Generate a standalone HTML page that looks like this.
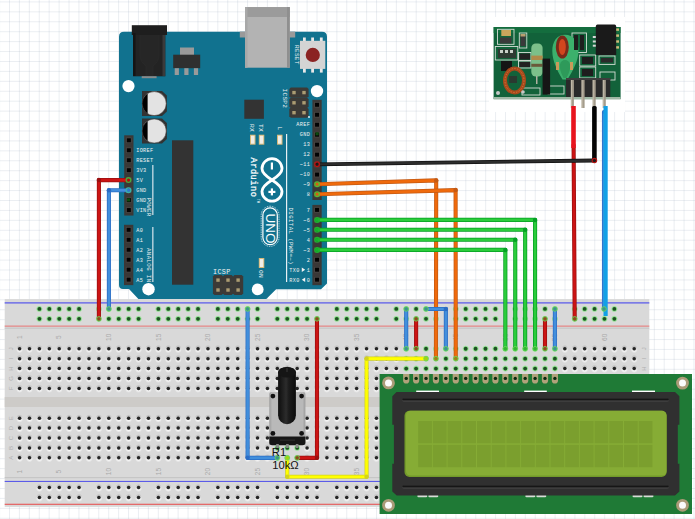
<!DOCTYPE html>
<html><head><meta charset="utf-8"><style>html,body{margin:0;padding:0;background:#fff;overflow:hidden}svg{display:block}</style></head>
<body><svg width="695" height="519" viewBox="0 0 695 519"><path d="M-0.42 0V519M9.50 0V519M19.42 0V519M29.34 0V519M39.26 0V519M49.18 0V519M59.10 0V519M69.02 0V519M78.94 0V519M88.86 0V519M98.78 0V519M108.70 0V519M118.62 0V519M128.54 0V519M138.46 0V519M148.38 0V519M158.30 0V519M168.22 0V519M178.14 0V519M188.06 0V519M197.98 0V519M207.90 0V519M217.82 0V519M227.74 0V519M237.66 0V519M247.58 0V519M257.50 0V519M267.42 0V519M277.34 0V519M287.26 0V519M297.18 0V519M307.10 0V519M317.02 0V519M326.94 0V519M336.86 0V519M346.78 0V519M356.70 0V519M366.62 0V519M376.54 0V519M386.46 0V519M396.38 0V519M406.30 0V519M416.22 0V519M426.14 0V519M436.06 0V519M445.98 0V519M455.90 0V519M465.82 0V519M475.74 0V519M485.66 0V519M495.58 0V519M505.50 0V519M515.42 0V519M525.34 0V519M535.26 0V519M545.18 0V519M555.10 0V519M565.02 0V519M574.94 0V519M584.86 0V519M594.78 0V519M604.70 0V519M614.62 0V519M624.54 0V519M634.46 0V519M644.38 0V519M654.30 0V519M664.22 0V519M674.14 0V519M684.06 0V519M693.98 0V519M0 1.90H695M0 11.83H695M0 21.76H695M0 31.69H695M0 41.62H695M0 51.55H695M0 61.48H695M0 71.41H695M0 81.34H695M0 91.27H695M0 101.20H695M0 111.13H695M0 121.06H695M0 130.99H695M0 140.92H695M0 150.85H695M0 160.78H695M0 170.71H695M0 180.64H695M0 190.57H695M0 200.50H695M0 210.43H695M0 220.36H695M0 230.29H695M0 240.22H695M0 250.15H695M0 260.08H695M0 270.01H695M0 279.94H695M0 289.87H695M0 299.80H695M0 309.73H695M0 319.66H695M0 329.59H695M0 339.52H695M0 349.45H695M0 359.38H695M0 369.31H695M0 379.24H695M0 389.17H695M0 399.10H695M0 409.03H695M0 418.96H695M0 428.89H695M0 438.82H695M0 448.75H695M0 458.68H695M0 468.61H695M0 478.54H695M0 488.47H695M0 498.40H695M0 508.33H695M0 518.26H695" stroke="#a8b4c6" stroke-opacity="0.23" stroke-width="1" fill="none"/>
<rect x="4.7" y="299.1" width="644.6" height="207.8" fill="#d9d9d9"/>
<rect x="4.7" y="397" width="644.6" height="10" fill="#cdcbc8"/>
<rect x="4.7" y="327.6" width="644.6" height="1.2" fill="#c6c6c6"/>
<rect x="4.7" y="477" width="644.6" height="1.2" fill="#c6c6c6"/>
<rect x="4.7" y="302.0" width="644.6" height="1.7" fill="#7b7be6"/>
<rect x="4.7" y="325.5" width="644.6" height="1.3" fill="#e48a8a"/>
<rect x="4.7" y="480.9" width="644.6" height="1.1" fill="#5b5be8"/>
<rect x="4.7" y="503.7" width="644.6" height="1.3" fill="#e46a6a"/>
<defs>
<radialGradient id="hw" r="0.5"><stop offset="0.3" stop-color="#ffffff" stop-opacity="0.95"/><stop offset="1" stop-color="#ffffff" stop-opacity="0"/></radialGradient>
<radialGradient id="hd" r="0.5"><stop offset="0.3" stop-color="#9a9a9a" stop-opacity="0.6"/><stop offset="1" stop-color="#9a9a9a" stop-opacity="0"/></radialGradient>
<radialGradient id="hg" r="0.5"><stop offset="0.55" stop-color="#7ee57e" stop-opacity="1"/><stop offset="1" stop-color="#7ee57e" stop-opacity="0"/></radialGradient>
</defs>
<circle cx="39.43" cy="308.95" r="3.5" fill="url(#hg)"/><circle cx="39.43" cy="308.95" r="1.9" fill="#214f25"/><circle cx="39.43" cy="318.85" r="3.5" fill="url(#hg)"/><circle cx="39.43" cy="318.85" r="1.9" fill="#214f25"/><circle cx="39.43" cy="488.50" r="3.6" fill="url(#hw)"/><circle cx="39.43" cy="486.90" r="3.2" fill="url(#hd)"/><circle cx="39.43" cy="487.60" r="1.75" fill="#242424"/><circle cx="39.43" cy="498.40" r="3.6" fill="url(#hw)"/><circle cx="39.43" cy="496.80" r="3.2" fill="url(#hd)"/><circle cx="39.43" cy="497.50" r="1.75" fill="#242424"/><circle cx="49.34" cy="308.95" r="3.5" fill="url(#hg)"/><circle cx="49.34" cy="308.95" r="1.9" fill="#214f25"/><circle cx="49.34" cy="318.85" r="3.5" fill="url(#hg)"/><circle cx="49.34" cy="318.85" r="1.9" fill="#214f25"/><circle cx="49.34" cy="488.50" r="3.6" fill="url(#hw)"/><circle cx="49.34" cy="486.90" r="3.2" fill="url(#hd)"/><circle cx="49.34" cy="487.60" r="1.75" fill="#242424"/><circle cx="49.34" cy="498.40" r="3.6" fill="url(#hw)"/><circle cx="49.34" cy="496.80" r="3.2" fill="url(#hd)"/><circle cx="49.34" cy="497.50" r="1.75" fill="#242424"/><circle cx="59.25" cy="308.95" r="3.5" fill="url(#hg)"/><circle cx="59.25" cy="308.95" r="1.9" fill="#214f25"/><circle cx="59.25" cy="318.85" r="3.5" fill="url(#hg)"/><circle cx="59.25" cy="318.85" r="1.9" fill="#214f25"/><circle cx="59.25" cy="488.50" r="3.6" fill="url(#hw)"/><circle cx="59.25" cy="486.90" r="3.2" fill="url(#hd)"/><circle cx="59.25" cy="487.60" r="1.75" fill="#242424"/><circle cx="59.25" cy="498.40" r="3.6" fill="url(#hw)"/><circle cx="59.25" cy="496.80" r="3.2" fill="url(#hd)"/><circle cx="59.25" cy="497.50" r="1.75" fill="#242424"/><circle cx="69.16" cy="308.95" r="3.5" fill="url(#hg)"/><circle cx="69.16" cy="308.95" r="1.9" fill="#214f25"/><circle cx="69.16" cy="318.85" r="3.5" fill="url(#hg)"/><circle cx="69.16" cy="318.85" r="1.9" fill="#214f25"/><circle cx="69.16" cy="488.50" r="3.6" fill="url(#hw)"/><circle cx="69.16" cy="486.90" r="3.2" fill="url(#hd)"/><circle cx="69.16" cy="487.60" r="1.75" fill="#242424"/><circle cx="69.16" cy="498.40" r="3.6" fill="url(#hw)"/><circle cx="69.16" cy="496.80" r="3.2" fill="url(#hd)"/><circle cx="69.16" cy="497.50" r="1.75" fill="#242424"/><circle cx="79.08" cy="308.95" r="3.5" fill="url(#hg)"/><circle cx="79.08" cy="308.95" r="1.9" fill="#214f25"/><circle cx="79.08" cy="318.85" r="3.5" fill="url(#hg)"/><circle cx="79.08" cy="318.85" r="1.9" fill="#214f25"/><circle cx="79.08" cy="488.50" r="3.6" fill="url(#hw)"/><circle cx="79.08" cy="486.90" r="3.2" fill="url(#hd)"/><circle cx="79.08" cy="487.60" r="1.75" fill="#242424"/><circle cx="79.08" cy="498.40" r="3.6" fill="url(#hw)"/><circle cx="79.08" cy="496.80" r="3.2" fill="url(#hd)"/><circle cx="79.08" cy="497.50" r="1.75" fill="#242424"/><circle cx="98.90" cy="308.95" r="3.5" fill="url(#hg)"/><circle cx="98.90" cy="308.95" r="1.9" fill="#214f25"/><circle cx="98.90" cy="318.85" r="3.5" fill="url(#hg)"/><circle cx="98.90" cy="318.85" r="1.9" fill="#214f25"/><circle cx="98.90" cy="488.50" r="3.6" fill="url(#hw)"/><circle cx="98.90" cy="486.90" r="3.2" fill="url(#hd)"/><circle cx="98.90" cy="487.60" r="1.75" fill="#242424"/><circle cx="98.90" cy="498.40" r="3.6" fill="url(#hw)"/><circle cx="98.90" cy="496.80" r="3.2" fill="url(#hd)"/><circle cx="98.90" cy="497.50" r="1.75" fill="#242424"/><circle cx="108.82" cy="308.95" r="3.5" fill="url(#hg)"/><circle cx="108.82" cy="308.95" r="1.9" fill="#214f25"/><circle cx="108.82" cy="318.85" r="3.5" fill="url(#hg)"/><circle cx="108.82" cy="318.85" r="1.9" fill="#214f25"/><circle cx="108.82" cy="488.50" r="3.6" fill="url(#hw)"/><circle cx="108.82" cy="486.90" r="3.2" fill="url(#hd)"/><circle cx="108.82" cy="487.60" r="1.75" fill="#242424"/><circle cx="108.82" cy="498.40" r="3.6" fill="url(#hw)"/><circle cx="108.82" cy="496.80" r="3.2" fill="url(#hd)"/><circle cx="108.82" cy="497.50" r="1.75" fill="#242424"/><circle cx="118.73" cy="308.95" r="3.5" fill="url(#hg)"/><circle cx="118.73" cy="308.95" r="1.9" fill="#214f25"/><circle cx="118.73" cy="318.85" r="3.5" fill="url(#hg)"/><circle cx="118.73" cy="318.85" r="1.9" fill="#214f25"/><circle cx="118.73" cy="488.50" r="3.6" fill="url(#hw)"/><circle cx="118.73" cy="486.90" r="3.2" fill="url(#hd)"/><circle cx="118.73" cy="487.60" r="1.75" fill="#242424"/><circle cx="118.73" cy="498.40" r="3.6" fill="url(#hw)"/><circle cx="118.73" cy="496.80" r="3.2" fill="url(#hd)"/><circle cx="118.73" cy="497.50" r="1.75" fill="#242424"/><circle cx="128.64" cy="308.95" r="3.5" fill="url(#hg)"/><circle cx="128.64" cy="308.95" r="1.9" fill="#214f25"/><circle cx="128.64" cy="318.85" r="3.5" fill="url(#hg)"/><circle cx="128.64" cy="318.85" r="1.9" fill="#214f25"/><circle cx="128.64" cy="488.50" r="3.6" fill="url(#hw)"/><circle cx="128.64" cy="486.90" r="3.2" fill="url(#hd)"/><circle cx="128.64" cy="487.60" r="1.75" fill="#242424"/><circle cx="128.64" cy="498.40" r="3.6" fill="url(#hw)"/><circle cx="128.64" cy="496.80" r="3.2" fill="url(#hd)"/><circle cx="128.64" cy="497.50" r="1.75" fill="#242424"/><circle cx="138.56" cy="308.95" r="3.5" fill="url(#hg)"/><circle cx="138.56" cy="308.95" r="1.9" fill="#214f25"/><circle cx="138.56" cy="318.85" r="3.5" fill="url(#hg)"/><circle cx="138.56" cy="318.85" r="1.9" fill="#214f25"/><circle cx="138.56" cy="488.50" r="3.6" fill="url(#hw)"/><circle cx="138.56" cy="486.90" r="3.2" fill="url(#hd)"/><circle cx="138.56" cy="487.60" r="1.75" fill="#242424"/><circle cx="138.56" cy="498.40" r="3.6" fill="url(#hw)"/><circle cx="138.56" cy="496.80" r="3.2" fill="url(#hd)"/><circle cx="138.56" cy="497.50" r="1.75" fill="#242424"/><circle cx="158.38" cy="308.95" r="3.5" fill="url(#hg)"/><circle cx="158.38" cy="308.95" r="1.9" fill="#214f25"/><circle cx="158.38" cy="318.85" r="3.5" fill="url(#hg)"/><circle cx="158.38" cy="318.85" r="1.9" fill="#214f25"/><circle cx="158.38" cy="488.50" r="3.6" fill="url(#hw)"/><circle cx="158.38" cy="486.90" r="3.2" fill="url(#hd)"/><circle cx="158.38" cy="487.60" r="1.75" fill="#242424"/><circle cx="158.38" cy="498.40" r="3.6" fill="url(#hw)"/><circle cx="158.38" cy="496.80" r="3.2" fill="url(#hd)"/><circle cx="158.38" cy="497.50" r="1.75" fill="#242424"/><circle cx="168.29" cy="308.95" r="3.5" fill="url(#hg)"/><circle cx="168.29" cy="308.95" r="1.9" fill="#214f25"/><circle cx="168.29" cy="318.85" r="3.5" fill="url(#hg)"/><circle cx="168.29" cy="318.85" r="1.9" fill="#214f25"/><circle cx="168.29" cy="488.50" r="3.6" fill="url(#hw)"/><circle cx="168.29" cy="486.90" r="3.2" fill="url(#hd)"/><circle cx="168.29" cy="487.60" r="1.75" fill="#242424"/><circle cx="168.29" cy="498.40" r="3.6" fill="url(#hw)"/><circle cx="168.29" cy="496.80" r="3.2" fill="url(#hd)"/><circle cx="168.29" cy="497.50" r="1.75" fill="#242424"/><circle cx="178.21" cy="308.95" r="3.5" fill="url(#hg)"/><circle cx="178.21" cy="308.95" r="1.9" fill="#214f25"/><circle cx="178.21" cy="318.85" r="3.5" fill="url(#hg)"/><circle cx="178.21" cy="318.85" r="1.9" fill="#214f25"/><circle cx="178.21" cy="488.50" r="3.6" fill="url(#hw)"/><circle cx="178.21" cy="486.90" r="3.2" fill="url(#hd)"/><circle cx="178.21" cy="487.60" r="1.75" fill="#242424"/><circle cx="178.21" cy="498.40" r="3.6" fill="url(#hw)"/><circle cx="178.21" cy="496.80" r="3.2" fill="url(#hd)"/><circle cx="178.21" cy="497.50" r="1.75" fill="#242424"/><circle cx="188.12" cy="308.95" r="3.5" fill="url(#hg)"/><circle cx="188.12" cy="308.95" r="1.9" fill="#214f25"/><circle cx="188.12" cy="318.85" r="3.5" fill="url(#hg)"/><circle cx="188.12" cy="318.85" r="1.9" fill="#214f25"/><circle cx="188.12" cy="488.50" r="3.6" fill="url(#hw)"/><circle cx="188.12" cy="486.90" r="3.2" fill="url(#hd)"/><circle cx="188.12" cy="487.60" r="1.75" fill="#242424"/><circle cx="188.12" cy="498.40" r="3.6" fill="url(#hw)"/><circle cx="188.12" cy="496.80" r="3.2" fill="url(#hd)"/><circle cx="188.12" cy="497.50" r="1.75" fill="#242424"/><circle cx="198.03" cy="308.95" r="3.5" fill="url(#hg)"/><circle cx="198.03" cy="308.95" r="1.9" fill="#214f25"/><circle cx="198.03" cy="318.85" r="3.5" fill="url(#hg)"/><circle cx="198.03" cy="318.85" r="1.9" fill="#214f25"/><circle cx="198.03" cy="488.50" r="3.6" fill="url(#hw)"/><circle cx="198.03" cy="486.90" r="3.2" fill="url(#hd)"/><circle cx="198.03" cy="487.60" r="1.75" fill="#242424"/><circle cx="198.03" cy="498.40" r="3.6" fill="url(#hw)"/><circle cx="198.03" cy="496.80" r="3.2" fill="url(#hd)"/><circle cx="198.03" cy="497.50" r="1.75" fill="#242424"/><circle cx="217.86" cy="308.95" r="3.5" fill="url(#hg)"/><circle cx="217.86" cy="308.95" r="1.9" fill="#214f25"/><circle cx="217.86" cy="318.85" r="3.5" fill="url(#hg)"/><circle cx="217.86" cy="318.85" r="1.9" fill="#214f25"/><circle cx="217.86" cy="488.50" r="3.6" fill="url(#hw)"/><circle cx="217.86" cy="486.90" r="3.2" fill="url(#hd)"/><circle cx="217.86" cy="487.60" r="1.75" fill="#242424"/><circle cx="217.86" cy="498.40" r="3.6" fill="url(#hw)"/><circle cx="217.86" cy="496.80" r="3.2" fill="url(#hd)"/><circle cx="217.86" cy="497.50" r="1.75" fill="#242424"/><circle cx="227.77" cy="308.95" r="3.5" fill="url(#hg)"/><circle cx="227.77" cy="308.95" r="1.9" fill="#214f25"/><circle cx="227.77" cy="318.85" r="3.5" fill="url(#hg)"/><circle cx="227.77" cy="318.85" r="1.9" fill="#214f25"/><circle cx="227.77" cy="488.50" r="3.6" fill="url(#hw)"/><circle cx="227.77" cy="486.90" r="3.2" fill="url(#hd)"/><circle cx="227.77" cy="487.60" r="1.75" fill="#242424"/><circle cx="227.77" cy="498.40" r="3.6" fill="url(#hw)"/><circle cx="227.77" cy="496.80" r="3.2" fill="url(#hd)"/><circle cx="227.77" cy="497.50" r="1.75" fill="#242424"/><circle cx="237.69" cy="308.95" r="3.5" fill="url(#hg)"/><circle cx="237.69" cy="308.95" r="1.9" fill="#214f25"/><circle cx="237.69" cy="318.85" r="3.5" fill="url(#hg)"/><circle cx="237.69" cy="318.85" r="1.9" fill="#214f25"/><circle cx="237.69" cy="488.50" r="3.6" fill="url(#hw)"/><circle cx="237.69" cy="486.90" r="3.2" fill="url(#hd)"/><circle cx="237.69" cy="487.60" r="1.75" fill="#242424"/><circle cx="237.69" cy="498.40" r="3.6" fill="url(#hw)"/><circle cx="237.69" cy="496.80" r="3.2" fill="url(#hd)"/><circle cx="237.69" cy="497.50" r="1.75" fill="#242424"/><circle cx="247.60" cy="308.95" r="3.5" fill="url(#hg)"/><circle cx="247.60" cy="308.95" r="1.9" fill="#214f25"/><circle cx="247.60" cy="318.85" r="3.5" fill="url(#hg)"/><circle cx="247.60" cy="318.85" r="1.9" fill="#214f25"/><circle cx="247.60" cy="488.50" r="3.6" fill="url(#hw)"/><circle cx="247.60" cy="486.90" r="3.2" fill="url(#hd)"/><circle cx="247.60" cy="487.60" r="1.75" fill="#242424"/><circle cx="247.60" cy="498.40" r="3.6" fill="url(#hw)"/><circle cx="247.60" cy="496.80" r="3.2" fill="url(#hd)"/><circle cx="247.60" cy="497.50" r="1.75" fill="#242424"/><circle cx="257.51" cy="308.95" r="3.5" fill="url(#hg)"/><circle cx="257.51" cy="308.95" r="1.9" fill="#214f25"/><circle cx="257.51" cy="318.85" r="3.5" fill="url(#hg)"/><circle cx="257.51" cy="318.85" r="1.9" fill="#214f25"/><circle cx="257.51" cy="488.50" r="3.6" fill="url(#hw)"/><circle cx="257.51" cy="486.90" r="3.2" fill="url(#hd)"/><circle cx="257.51" cy="487.60" r="1.75" fill="#242424"/><circle cx="257.51" cy="498.40" r="3.6" fill="url(#hw)"/><circle cx="257.51" cy="496.80" r="3.2" fill="url(#hd)"/><circle cx="257.51" cy="497.50" r="1.75" fill="#242424"/><circle cx="277.34" cy="308.95" r="3.5" fill="url(#hg)"/><circle cx="277.34" cy="308.95" r="1.9" fill="#214f25"/><circle cx="277.34" cy="318.85" r="3.5" fill="url(#hg)"/><circle cx="277.34" cy="318.85" r="1.9" fill="#214f25"/><circle cx="277.34" cy="488.50" r="3.6" fill="url(#hw)"/><circle cx="277.34" cy="486.90" r="3.2" fill="url(#hd)"/><circle cx="277.34" cy="487.60" r="1.75" fill="#242424"/><circle cx="277.34" cy="498.40" r="3.6" fill="url(#hw)"/><circle cx="277.34" cy="496.80" r="3.2" fill="url(#hd)"/><circle cx="277.34" cy="497.50" r="1.75" fill="#242424"/><circle cx="287.25" cy="308.95" r="3.5" fill="url(#hg)"/><circle cx="287.25" cy="308.95" r="1.9" fill="#214f25"/><circle cx="287.25" cy="318.85" r="3.5" fill="url(#hg)"/><circle cx="287.25" cy="318.85" r="1.9" fill="#214f25"/><circle cx="287.25" cy="488.50" r="3.6" fill="url(#hw)"/><circle cx="287.25" cy="486.90" r="3.2" fill="url(#hd)"/><circle cx="287.25" cy="487.60" r="1.75" fill="#242424"/><circle cx="287.25" cy="498.40" r="3.6" fill="url(#hw)"/><circle cx="287.25" cy="496.80" r="3.2" fill="url(#hd)"/><circle cx="287.25" cy="497.50" r="1.75" fill="#242424"/><circle cx="297.16" cy="308.95" r="3.5" fill="url(#hg)"/><circle cx="297.16" cy="308.95" r="1.9" fill="#214f25"/><circle cx="297.16" cy="318.85" r="3.5" fill="url(#hg)"/><circle cx="297.16" cy="318.85" r="1.9" fill="#214f25"/><circle cx="297.16" cy="488.50" r="3.6" fill="url(#hw)"/><circle cx="297.16" cy="486.90" r="3.2" fill="url(#hd)"/><circle cx="297.16" cy="487.60" r="1.75" fill="#242424"/><circle cx="297.16" cy="498.40" r="3.6" fill="url(#hw)"/><circle cx="297.16" cy="496.80" r="3.2" fill="url(#hd)"/><circle cx="297.16" cy="497.50" r="1.75" fill="#242424"/><circle cx="307.08" cy="308.95" r="3.5" fill="url(#hg)"/><circle cx="307.08" cy="308.95" r="1.9" fill="#214f25"/><circle cx="307.08" cy="318.85" r="3.5" fill="url(#hg)"/><circle cx="307.08" cy="318.85" r="1.9" fill="#214f25"/><circle cx="307.08" cy="488.50" r="3.6" fill="url(#hw)"/><circle cx="307.08" cy="486.90" r="3.2" fill="url(#hd)"/><circle cx="307.08" cy="487.60" r="1.75" fill="#242424"/><circle cx="307.08" cy="498.40" r="3.6" fill="url(#hw)"/><circle cx="307.08" cy="496.80" r="3.2" fill="url(#hd)"/><circle cx="307.08" cy="497.50" r="1.75" fill="#242424"/><circle cx="316.99" cy="308.95" r="3.5" fill="url(#hg)"/><circle cx="316.99" cy="308.95" r="1.9" fill="#214f25"/><circle cx="316.99" cy="318.85" r="3.5" fill="url(#hg)"/><circle cx="316.99" cy="318.85" r="1.9" fill="#214f25"/><circle cx="316.99" cy="488.50" r="3.6" fill="url(#hw)"/><circle cx="316.99" cy="486.90" r="3.2" fill="url(#hd)"/><circle cx="316.99" cy="487.60" r="1.75" fill="#242424"/><circle cx="316.99" cy="498.40" r="3.6" fill="url(#hw)"/><circle cx="316.99" cy="496.80" r="3.2" fill="url(#hd)"/><circle cx="316.99" cy="497.50" r="1.75" fill="#242424"/><circle cx="336.82" cy="308.95" r="3.5" fill="url(#hg)"/><circle cx="336.82" cy="308.95" r="1.9" fill="#214f25"/><circle cx="336.82" cy="318.85" r="3.5" fill="url(#hg)"/><circle cx="336.82" cy="318.85" r="1.9" fill="#214f25"/><circle cx="336.82" cy="488.50" r="3.6" fill="url(#hw)"/><circle cx="336.82" cy="486.90" r="3.2" fill="url(#hd)"/><circle cx="336.82" cy="487.60" r="1.75" fill="#242424"/><circle cx="336.82" cy="498.40" r="3.6" fill="url(#hw)"/><circle cx="336.82" cy="496.80" r="3.2" fill="url(#hd)"/><circle cx="336.82" cy="497.50" r="1.75" fill="#242424"/><circle cx="346.73" cy="308.95" r="3.5" fill="url(#hg)"/><circle cx="346.73" cy="308.95" r="1.9" fill="#214f25"/><circle cx="346.73" cy="318.85" r="3.5" fill="url(#hg)"/><circle cx="346.73" cy="318.85" r="1.9" fill="#214f25"/><circle cx="346.73" cy="488.50" r="3.6" fill="url(#hw)"/><circle cx="346.73" cy="486.90" r="3.2" fill="url(#hd)"/><circle cx="346.73" cy="487.60" r="1.75" fill="#242424"/><circle cx="346.73" cy="498.40" r="3.6" fill="url(#hw)"/><circle cx="346.73" cy="496.80" r="3.2" fill="url(#hd)"/><circle cx="346.73" cy="497.50" r="1.75" fill="#242424"/><circle cx="356.64" cy="308.95" r="3.5" fill="url(#hg)"/><circle cx="356.64" cy="308.95" r="1.9" fill="#214f25"/><circle cx="356.64" cy="318.85" r="3.5" fill="url(#hg)"/><circle cx="356.64" cy="318.85" r="1.9" fill="#214f25"/><circle cx="356.64" cy="488.50" r="3.6" fill="url(#hw)"/><circle cx="356.64" cy="486.90" r="3.2" fill="url(#hd)"/><circle cx="356.64" cy="487.60" r="1.75" fill="#242424"/><circle cx="356.64" cy="498.40" r="3.6" fill="url(#hw)"/><circle cx="356.64" cy="496.80" r="3.2" fill="url(#hd)"/><circle cx="356.64" cy="497.50" r="1.75" fill="#242424"/><circle cx="366.56" cy="308.95" r="3.5" fill="url(#hg)"/><circle cx="366.56" cy="308.95" r="1.9" fill="#214f25"/><circle cx="366.56" cy="318.85" r="3.5" fill="url(#hg)"/><circle cx="366.56" cy="318.85" r="1.9" fill="#214f25"/><circle cx="366.56" cy="488.50" r="3.6" fill="url(#hw)"/><circle cx="366.56" cy="486.90" r="3.2" fill="url(#hd)"/><circle cx="366.56" cy="487.60" r="1.75" fill="#242424"/><circle cx="366.56" cy="498.40" r="3.6" fill="url(#hw)"/><circle cx="366.56" cy="496.80" r="3.2" fill="url(#hd)"/><circle cx="366.56" cy="497.50" r="1.75" fill="#242424"/><circle cx="376.47" cy="308.95" r="3.5" fill="url(#hg)"/><circle cx="376.47" cy="308.95" r="1.9" fill="#214f25"/><circle cx="376.47" cy="318.85" r="3.5" fill="url(#hg)"/><circle cx="376.47" cy="318.85" r="1.9" fill="#214f25"/><circle cx="376.47" cy="488.50" r="3.6" fill="url(#hw)"/><circle cx="376.47" cy="486.90" r="3.2" fill="url(#hd)"/><circle cx="376.47" cy="487.60" r="1.75" fill="#242424"/><circle cx="376.47" cy="498.40" r="3.6" fill="url(#hw)"/><circle cx="376.47" cy="496.80" r="3.2" fill="url(#hd)"/><circle cx="376.47" cy="497.50" r="1.75" fill="#242424"/><circle cx="396.29" cy="308.95" r="3.5" fill="url(#hg)"/><circle cx="396.29" cy="308.95" r="1.9" fill="#214f25"/><circle cx="396.29" cy="318.85" r="3.5" fill="url(#hg)"/><circle cx="396.29" cy="318.85" r="1.9" fill="#214f25"/><circle cx="396.29" cy="488.50" r="3.6" fill="url(#hw)"/><circle cx="396.29" cy="486.90" r="3.2" fill="url(#hd)"/><circle cx="396.29" cy="487.60" r="1.75" fill="#242424"/><circle cx="396.29" cy="498.40" r="3.6" fill="url(#hw)"/><circle cx="396.29" cy="496.80" r="3.2" fill="url(#hd)"/><circle cx="396.29" cy="497.50" r="1.75" fill="#242424"/><circle cx="406.21" cy="308.95" r="3.5" fill="url(#hg)"/><circle cx="406.21" cy="308.95" r="1.9" fill="#214f25"/><circle cx="406.21" cy="318.85" r="3.5" fill="url(#hg)"/><circle cx="406.21" cy="318.85" r="1.9" fill="#214f25"/><circle cx="406.21" cy="488.50" r="3.6" fill="url(#hw)"/><circle cx="406.21" cy="486.90" r="3.2" fill="url(#hd)"/><circle cx="406.21" cy="487.60" r="1.75" fill="#242424"/><circle cx="406.21" cy="498.40" r="3.6" fill="url(#hw)"/><circle cx="406.21" cy="496.80" r="3.2" fill="url(#hd)"/><circle cx="406.21" cy="497.50" r="1.75" fill="#242424"/><circle cx="416.12" cy="308.95" r="3.5" fill="url(#hg)"/><circle cx="416.12" cy="308.95" r="1.9" fill="#214f25"/><circle cx="416.12" cy="318.85" r="3.5" fill="url(#hg)"/><circle cx="416.12" cy="318.85" r="1.9" fill="#214f25"/><circle cx="416.12" cy="488.50" r="3.6" fill="url(#hw)"/><circle cx="416.12" cy="486.90" r="3.2" fill="url(#hd)"/><circle cx="416.12" cy="487.60" r="1.75" fill="#242424"/><circle cx="416.12" cy="498.40" r="3.6" fill="url(#hw)"/><circle cx="416.12" cy="496.80" r="3.2" fill="url(#hd)"/><circle cx="416.12" cy="497.50" r="1.75" fill="#242424"/><circle cx="426.03" cy="308.95" r="3.5" fill="url(#hg)"/><circle cx="426.03" cy="308.95" r="1.9" fill="#214f25"/><circle cx="426.03" cy="318.85" r="3.5" fill="url(#hg)"/><circle cx="426.03" cy="318.85" r="1.9" fill="#214f25"/><circle cx="426.03" cy="488.50" r="3.6" fill="url(#hw)"/><circle cx="426.03" cy="486.90" r="3.2" fill="url(#hd)"/><circle cx="426.03" cy="487.60" r="1.75" fill="#242424"/><circle cx="426.03" cy="498.40" r="3.6" fill="url(#hw)"/><circle cx="426.03" cy="496.80" r="3.2" fill="url(#hd)"/><circle cx="426.03" cy="497.50" r="1.75" fill="#242424"/><circle cx="435.95" cy="308.95" r="3.5" fill="url(#hg)"/><circle cx="435.95" cy="308.95" r="1.9" fill="#214f25"/><circle cx="435.95" cy="318.85" r="3.5" fill="url(#hg)"/><circle cx="435.95" cy="318.85" r="1.9" fill="#214f25"/><circle cx="435.95" cy="488.50" r="3.6" fill="url(#hw)"/><circle cx="435.95" cy="486.90" r="3.2" fill="url(#hd)"/><circle cx="435.95" cy="487.60" r="1.75" fill="#242424"/><circle cx="435.95" cy="498.40" r="3.6" fill="url(#hw)"/><circle cx="435.95" cy="496.80" r="3.2" fill="url(#hd)"/><circle cx="435.95" cy="497.50" r="1.75" fill="#242424"/><circle cx="455.77" cy="308.95" r="3.5" fill="url(#hg)"/><circle cx="455.77" cy="308.95" r="1.9" fill="#214f25"/><circle cx="455.77" cy="318.85" r="3.5" fill="url(#hg)"/><circle cx="455.77" cy="318.85" r="1.9" fill="#214f25"/><circle cx="455.77" cy="488.50" r="3.6" fill="url(#hw)"/><circle cx="455.77" cy="486.90" r="3.2" fill="url(#hd)"/><circle cx="455.77" cy="487.60" r="1.75" fill="#242424"/><circle cx="455.77" cy="498.40" r="3.6" fill="url(#hw)"/><circle cx="455.77" cy="496.80" r="3.2" fill="url(#hd)"/><circle cx="455.77" cy="497.50" r="1.75" fill="#242424"/><circle cx="465.69" cy="308.95" r="3.5" fill="url(#hg)"/><circle cx="465.69" cy="308.95" r="1.9" fill="#214f25"/><circle cx="465.69" cy="318.85" r="3.5" fill="url(#hg)"/><circle cx="465.69" cy="318.85" r="1.9" fill="#214f25"/><circle cx="465.69" cy="488.50" r="3.6" fill="url(#hw)"/><circle cx="465.69" cy="486.90" r="3.2" fill="url(#hd)"/><circle cx="465.69" cy="487.60" r="1.75" fill="#242424"/><circle cx="465.69" cy="498.40" r="3.6" fill="url(#hw)"/><circle cx="465.69" cy="496.80" r="3.2" fill="url(#hd)"/><circle cx="465.69" cy="497.50" r="1.75" fill="#242424"/><circle cx="475.60" cy="308.95" r="3.5" fill="url(#hg)"/><circle cx="475.60" cy="308.95" r="1.9" fill="#214f25"/><circle cx="475.60" cy="318.85" r="3.5" fill="url(#hg)"/><circle cx="475.60" cy="318.85" r="1.9" fill="#214f25"/><circle cx="475.60" cy="488.50" r="3.6" fill="url(#hw)"/><circle cx="475.60" cy="486.90" r="3.2" fill="url(#hd)"/><circle cx="475.60" cy="487.60" r="1.75" fill="#242424"/><circle cx="475.60" cy="498.40" r="3.6" fill="url(#hw)"/><circle cx="475.60" cy="496.80" r="3.2" fill="url(#hd)"/><circle cx="475.60" cy="497.50" r="1.75" fill="#242424"/><circle cx="485.51" cy="308.95" r="3.5" fill="url(#hg)"/><circle cx="485.51" cy="308.95" r="1.9" fill="#214f25"/><circle cx="485.51" cy="318.85" r="3.5" fill="url(#hg)"/><circle cx="485.51" cy="318.85" r="1.9" fill="#214f25"/><circle cx="485.51" cy="488.50" r="3.6" fill="url(#hw)"/><circle cx="485.51" cy="486.90" r="3.2" fill="url(#hd)"/><circle cx="485.51" cy="487.60" r="1.75" fill="#242424"/><circle cx="485.51" cy="498.40" r="3.6" fill="url(#hw)"/><circle cx="485.51" cy="496.80" r="3.2" fill="url(#hd)"/><circle cx="485.51" cy="497.50" r="1.75" fill="#242424"/><circle cx="495.42" cy="308.95" r="3.5" fill="url(#hg)"/><circle cx="495.42" cy="308.95" r="1.9" fill="#214f25"/><circle cx="495.42" cy="318.85" r="3.5" fill="url(#hg)"/><circle cx="495.42" cy="318.85" r="1.9" fill="#214f25"/><circle cx="495.42" cy="488.50" r="3.6" fill="url(#hw)"/><circle cx="495.42" cy="486.90" r="3.2" fill="url(#hd)"/><circle cx="495.42" cy="487.60" r="1.75" fill="#242424"/><circle cx="495.42" cy="498.40" r="3.6" fill="url(#hw)"/><circle cx="495.42" cy="496.80" r="3.2" fill="url(#hd)"/><circle cx="495.42" cy="497.50" r="1.75" fill="#242424"/><circle cx="515.25" cy="308.95" r="3.5" fill="url(#hg)"/><circle cx="515.25" cy="308.95" r="1.9" fill="#214f25"/><circle cx="515.25" cy="318.85" r="3.5" fill="url(#hg)"/><circle cx="515.25" cy="318.85" r="1.9" fill="#214f25"/><circle cx="515.25" cy="488.50" r="3.6" fill="url(#hw)"/><circle cx="515.25" cy="486.90" r="3.2" fill="url(#hd)"/><circle cx="515.25" cy="487.60" r="1.75" fill="#242424"/><circle cx="515.25" cy="498.40" r="3.6" fill="url(#hw)"/><circle cx="515.25" cy="496.80" r="3.2" fill="url(#hd)"/><circle cx="515.25" cy="497.50" r="1.75" fill="#242424"/><circle cx="525.16" cy="308.95" r="3.5" fill="url(#hg)"/><circle cx="525.16" cy="308.95" r="1.9" fill="#214f25"/><circle cx="525.16" cy="318.85" r="3.5" fill="url(#hg)"/><circle cx="525.16" cy="318.85" r="1.9" fill="#214f25"/><circle cx="525.16" cy="488.50" r="3.6" fill="url(#hw)"/><circle cx="525.16" cy="486.90" r="3.2" fill="url(#hd)"/><circle cx="525.16" cy="487.60" r="1.75" fill="#242424"/><circle cx="525.16" cy="498.40" r="3.6" fill="url(#hw)"/><circle cx="525.16" cy="496.80" r="3.2" fill="url(#hd)"/><circle cx="525.16" cy="497.50" r="1.75" fill="#242424"/><circle cx="535.08" cy="308.95" r="3.5" fill="url(#hg)"/><circle cx="535.08" cy="308.95" r="1.9" fill="#214f25"/><circle cx="535.08" cy="318.85" r="3.5" fill="url(#hg)"/><circle cx="535.08" cy="318.85" r="1.9" fill="#214f25"/><circle cx="535.08" cy="488.50" r="3.6" fill="url(#hw)"/><circle cx="535.08" cy="486.90" r="3.2" fill="url(#hd)"/><circle cx="535.08" cy="487.60" r="1.75" fill="#242424"/><circle cx="535.08" cy="498.40" r="3.6" fill="url(#hw)"/><circle cx="535.08" cy="496.80" r="3.2" fill="url(#hd)"/><circle cx="535.08" cy="497.50" r="1.75" fill="#242424"/><circle cx="544.99" cy="308.95" r="3.5" fill="url(#hg)"/><circle cx="544.99" cy="308.95" r="1.9" fill="#214f25"/><circle cx="544.99" cy="318.85" r="3.5" fill="url(#hg)"/><circle cx="544.99" cy="318.85" r="1.9" fill="#214f25"/><circle cx="544.99" cy="488.50" r="3.6" fill="url(#hw)"/><circle cx="544.99" cy="486.90" r="3.2" fill="url(#hd)"/><circle cx="544.99" cy="487.60" r="1.75" fill="#242424"/><circle cx="544.99" cy="498.40" r="3.6" fill="url(#hw)"/><circle cx="544.99" cy="496.80" r="3.2" fill="url(#hd)"/><circle cx="544.99" cy="497.50" r="1.75" fill="#242424"/><circle cx="554.90" cy="308.95" r="3.5" fill="url(#hg)"/><circle cx="554.90" cy="308.95" r="1.9" fill="#214f25"/><circle cx="554.90" cy="318.85" r="3.5" fill="url(#hg)"/><circle cx="554.90" cy="318.85" r="1.9" fill="#214f25"/><circle cx="554.90" cy="488.50" r="3.6" fill="url(#hw)"/><circle cx="554.90" cy="486.90" r="3.2" fill="url(#hd)"/><circle cx="554.90" cy="487.60" r="1.75" fill="#242424"/><circle cx="554.90" cy="498.40" r="3.6" fill="url(#hw)"/><circle cx="554.90" cy="496.80" r="3.2" fill="url(#hd)"/><circle cx="554.90" cy="497.50" r="1.75" fill="#242424"/><circle cx="574.73" cy="308.95" r="3.5" fill="url(#hg)"/><circle cx="574.73" cy="308.95" r="1.9" fill="#214f25"/><circle cx="574.73" cy="318.85" r="3.5" fill="url(#hg)"/><circle cx="574.73" cy="318.85" r="1.9" fill="#214f25"/><circle cx="574.73" cy="488.50" r="3.6" fill="url(#hw)"/><circle cx="574.73" cy="486.90" r="3.2" fill="url(#hd)"/><circle cx="574.73" cy="487.60" r="1.75" fill="#242424"/><circle cx="574.73" cy="498.40" r="3.6" fill="url(#hw)"/><circle cx="574.73" cy="496.80" r="3.2" fill="url(#hd)"/><circle cx="574.73" cy="497.50" r="1.75" fill="#242424"/><circle cx="584.64" cy="308.95" r="3.5" fill="url(#hg)"/><circle cx="584.64" cy="308.95" r="1.9" fill="#214f25"/><circle cx="584.64" cy="318.85" r="3.5" fill="url(#hg)"/><circle cx="584.64" cy="318.85" r="1.9" fill="#214f25"/><circle cx="584.64" cy="488.50" r="3.6" fill="url(#hw)"/><circle cx="584.64" cy="486.90" r="3.2" fill="url(#hd)"/><circle cx="584.64" cy="487.60" r="1.75" fill="#242424"/><circle cx="584.64" cy="498.40" r="3.6" fill="url(#hw)"/><circle cx="584.64" cy="496.80" r="3.2" fill="url(#hd)"/><circle cx="584.64" cy="497.50" r="1.75" fill="#242424"/><circle cx="594.55" cy="308.95" r="3.5" fill="url(#hg)"/><circle cx="594.55" cy="308.95" r="1.9" fill="#214f25"/><circle cx="594.55" cy="318.85" r="3.5" fill="url(#hg)"/><circle cx="594.55" cy="318.85" r="1.9" fill="#214f25"/><circle cx="594.55" cy="488.50" r="3.6" fill="url(#hw)"/><circle cx="594.55" cy="486.90" r="3.2" fill="url(#hd)"/><circle cx="594.55" cy="487.60" r="1.75" fill="#242424"/><circle cx="594.55" cy="498.40" r="3.6" fill="url(#hw)"/><circle cx="594.55" cy="496.80" r="3.2" fill="url(#hd)"/><circle cx="594.55" cy="497.50" r="1.75" fill="#242424"/><circle cx="604.47" cy="308.95" r="3.5" fill="url(#hg)"/><circle cx="604.47" cy="308.95" r="1.9" fill="#214f25"/><circle cx="604.47" cy="318.85" r="3.5" fill="url(#hg)"/><circle cx="604.47" cy="318.85" r="1.9" fill="#214f25"/><circle cx="604.47" cy="488.50" r="3.6" fill="url(#hw)"/><circle cx="604.47" cy="486.90" r="3.2" fill="url(#hd)"/><circle cx="604.47" cy="487.60" r="1.75" fill="#242424"/><circle cx="604.47" cy="498.40" r="3.6" fill="url(#hw)"/><circle cx="604.47" cy="496.80" r="3.2" fill="url(#hd)"/><circle cx="604.47" cy="497.50" r="1.75" fill="#242424"/><circle cx="614.38" cy="308.95" r="3.5" fill="url(#hg)"/><circle cx="614.38" cy="308.95" r="1.9" fill="#214f25"/><circle cx="614.38" cy="318.85" r="3.5" fill="url(#hg)"/><circle cx="614.38" cy="318.85" r="1.9" fill="#214f25"/><circle cx="614.38" cy="488.50" r="3.6" fill="url(#hw)"/><circle cx="614.38" cy="486.90" r="3.2" fill="url(#hd)"/><circle cx="614.38" cy="487.60" r="1.75" fill="#242424"/><circle cx="614.38" cy="498.40" r="3.6" fill="url(#hw)"/><circle cx="614.38" cy="496.80" r="3.2" fill="url(#hd)"/><circle cx="614.38" cy="497.50" r="1.75" fill="#242424"/><circle cx="19.60" cy="349.65" r="3.6" fill="url(#hw)"/><circle cx="19.60" cy="348.05" r="3.2" fill="url(#hd)"/><circle cx="19.60" cy="348.75" r="1.75" fill="#242424"/><circle cx="19.60" cy="359.55" r="3.6" fill="url(#hw)"/><circle cx="19.60" cy="357.95" r="3.2" fill="url(#hd)"/><circle cx="19.60" cy="358.65" r="1.75" fill="#242424"/><circle cx="19.60" cy="369.45" r="3.6" fill="url(#hw)"/><circle cx="19.60" cy="367.85" r="3.2" fill="url(#hd)"/><circle cx="19.60" cy="368.55" r="1.75" fill="#242424"/><circle cx="19.60" cy="379.35" r="3.6" fill="url(#hw)"/><circle cx="19.60" cy="377.75" r="3.2" fill="url(#hd)"/><circle cx="19.60" cy="378.45" r="1.75" fill="#242424"/><circle cx="19.60" cy="389.30" r="3.6" fill="url(#hw)"/><circle cx="19.60" cy="387.70" r="3.2" fill="url(#hd)"/><circle cx="19.60" cy="388.40" r="1.75" fill="#242424"/><circle cx="19.60" cy="419.10" r="3.6" fill="url(#hw)"/><circle cx="19.60" cy="417.50" r="3.2" fill="url(#hd)"/><circle cx="19.60" cy="418.20" r="1.75" fill="#242424"/><circle cx="19.60" cy="429.00" r="3.6" fill="url(#hw)"/><circle cx="19.60" cy="427.40" r="3.2" fill="url(#hd)"/><circle cx="19.60" cy="428.10" r="1.75" fill="#242424"/><circle cx="19.60" cy="438.90" r="3.6" fill="url(#hw)"/><circle cx="19.60" cy="437.30" r="3.2" fill="url(#hd)"/><circle cx="19.60" cy="438.00" r="1.75" fill="#242424"/><circle cx="19.60" cy="448.80" r="3.6" fill="url(#hw)"/><circle cx="19.60" cy="447.20" r="3.2" fill="url(#hd)"/><circle cx="19.60" cy="447.90" r="1.75" fill="#242424"/><circle cx="19.60" cy="458.75" r="3.6" fill="url(#hw)"/><circle cx="19.60" cy="457.15" r="3.2" fill="url(#hd)"/><circle cx="19.60" cy="457.85" r="1.75" fill="#242424"/><circle cx="29.51" cy="349.65" r="3.6" fill="url(#hw)"/><circle cx="29.51" cy="348.05" r="3.2" fill="url(#hd)"/><circle cx="29.51" cy="348.75" r="1.75" fill="#242424"/><circle cx="29.51" cy="359.55" r="3.6" fill="url(#hw)"/><circle cx="29.51" cy="357.95" r="3.2" fill="url(#hd)"/><circle cx="29.51" cy="358.65" r="1.75" fill="#242424"/><circle cx="29.51" cy="369.45" r="3.6" fill="url(#hw)"/><circle cx="29.51" cy="367.85" r="3.2" fill="url(#hd)"/><circle cx="29.51" cy="368.55" r="1.75" fill="#242424"/><circle cx="29.51" cy="379.35" r="3.6" fill="url(#hw)"/><circle cx="29.51" cy="377.75" r="3.2" fill="url(#hd)"/><circle cx="29.51" cy="378.45" r="1.75" fill="#242424"/><circle cx="29.51" cy="389.30" r="3.6" fill="url(#hw)"/><circle cx="29.51" cy="387.70" r="3.2" fill="url(#hd)"/><circle cx="29.51" cy="388.40" r="1.75" fill="#242424"/><circle cx="29.51" cy="419.10" r="3.6" fill="url(#hw)"/><circle cx="29.51" cy="417.50" r="3.2" fill="url(#hd)"/><circle cx="29.51" cy="418.20" r="1.75" fill="#242424"/><circle cx="29.51" cy="429.00" r="3.6" fill="url(#hw)"/><circle cx="29.51" cy="427.40" r="3.2" fill="url(#hd)"/><circle cx="29.51" cy="428.10" r="1.75" fill="#242424"/><circle cx="29.51" cy="438.90" r="3.6" fill="url(#hw)"/><circle cx="29.51" cy="437.30" r="3.2" fill="url(#hd)"/><circle cx="29.51" cy="438.00" r="1.75" fill="#242424"/><circle cx="29.51" cy="448.80" r="3.6" fill="url(#hw)"/><circle cx="29.51" cy="447.20" r="3.2" fill="url(#hd)"/><circle cx="29.51" cy="447.90" r="1.75" fill="#242424"/><circle cx="29.51" cy="458.75" r="3.6" fill="url(#hw)"/><circle cx="29.51" cy="457.15" r="3.2" fill="url(#hd)"/><circle cx="29.51" cy="457.85" r="1.75" fill="#242424"/><circle cx="39.43" cy="349.65" r="3.6" fill="url(#hw)"/><circle cx="39.43" cy="348.05" r="3.2" fill="url(#hd)"/><circle cx="39.43" cy="348.75" r="1.75" fill="#242424"/><circle cx="39.43" cy="359.55" r="3.6" fill="url(#hw)"/><circle cx="39.43" cy="357.95" r="3.2" fill="url(#hd)"/><circle cx="39.43" cy="358.65" r="1.75" fill="#242424"/><circle cx="39.43" cy="369.45" r="3.6" fill="url(#hw)"/><circle cx="39.43" cy="367.85" r="3.2" fill="url(#hd)"/><circle cx="39.43" cy="368.55" r="1.75" fill="#242424"/><circle cx="39.43" cy="379.35" r="3.6" fill="url(#hw)"/><circle cx="39.43" cy="377.75" r="3.2" fill="url(#hd)"/><circle cx="39.43" cy="378.45" r="1.75" fill="#242424"/><circle cx="39.43" cy="389.30" r="3.6" fill="url(#hw)"/><circle cx="39.43" cy="387.70" r="3.2" fill="url(#hd)"/><circle cx="39.43" cy="388.40" r="1.75" fill="#242424"/><circle cx="39.43" cy="419.10" r="3.6" fill="url(#hw)"/><circle cx="39.43" cy="417.50" r="3.2" fill="url(#hd)"/><circle cx="39.43" cy="418.20" r="1.75" fill="#242424"/><circle cx="39.43" cy="429.00" r="3.6" fill="url(#hw)"/><circle cx="39.43" cy="427.40" r="3.2" fill="url(#hd)"/><circle cx="39.43" cy="428.10" r="1.75" fill="#242424"/><circle cx="39.43" cy="438.90" r="3.6" fill="url(#hw)"/><circle cx="39.43" cy="437.30" r="3.2" fill="url(#hd)"/><circle cx="39.43" cy="438.00" r="1.75" fill="#242424"/><circle cx="39.43" cy="448.80" r="3.6" fill="url(#hw)"/><circle cx="39.43" cy="447.20" r="3.2" fill="url(#hd)"/><circle cx="39.43" cy="447.90" r="1.75" fill="#242424"/><circle cx="39.43" cy="458.75" r="3.6" fill="url(#hw)"/><circle cx="39.43" cy="457.15" r="3.2" fill="url(#hd)"/><circle cx="39.43" cy="457.85" r="1.75" fill="#242424"/><circle cx="49.34" cy="349.65" r="3.6" fill="url(#hw)"/><circle cx="49.34" cy="348.05" r="3.2" fill="url(#hd)"/><circle cx="49.34" cy="348.75" r="1.75" fill="#242424"/><circle cx="49.34" cy="359.55" r="3.6" fill="url(#hw)"/><circle cx="49.34" cy="357.95" r="3.2" fill="url(#hd)"/><circle cx="49.34" cy="358.65" r="1.75" fill="#242424"/><circle cx="49.34" cy="369.45" r="3.6" fill="url(#hw)"/><circle cx="49.34" cy="367.85" r="3.2" fill="url(#hd)"/><circle cx="49.34" cy="368.55" r="1.75" fill="#242424"/><circle cx="49.34" cy="379.35" r="3.6" fill="url(#hw)"/><circle cx="49.34" cy="377.75" r="3.2" fill="url(#hd)"/><circle cx="49.34" cy="378.45" r="1.75" fill="#242424"/><circle cx="49.34" cy="389.30" r="3.6" fill="url(#hw)"/><circle cx="49.34" cy="387.70" r="3.2" fill="url(#hd)"/><circle cx="49.34" cy="388.40" r="1.75" fill="#242424"/><circle cx="49.34" cy="419.10" r="3.6" fill="url(#hw)"/><circle cx="49.34" cy="417.50" r="3.2" fill="url(#hd)"/><circle cx="49.34" cy="418.20" r="1.75" fill="#242424"/><circle cx="49.34" cy="429.00" r="3.6" fill="url(#hw)"/><circle cx="49.34" cy="427.40" r="3.2" fill="url(#hd)"/><circle cx="49.34" cy="428.10" r="1.75" fill="#242424"/><circle cx="49.34" cy="438.90" r="3.6" fill="url(#hw)"/><circle cx="49.34" cy="437.30" r="3.2" fill="url(#hd)"/><circle cx="49.34" cy="438.00" r="1.75" fill="#242424"/><circle cx="49.34" cy="448.80" r="3.6" fill="url(#hw)"/><circle cx="49.34" cy="447.20" r="3.2" fill="url(#hd)"/><circle cx="49.34" cy="447.90" r="1.75" fill="#242424"/><circle cx="49.34" cy="458.75" r="3.6" fill="url(#hw)"/><circle cx="49.34" cy="457.15" r="3.2" fill="url(#hd)"/><circle cx="49.34" cy="457.85" r="1.75" fill="#242424"/><circle cx="59.25" cy="349.65" r="3.6" fill="url(#hw)"/><circle cx="59.25" cy="348.05" r="3.2" fill="url(#hd)"/><circle cx="59.25" cy="348.75" r="1.75" fill="#242424"/><circle cx="59.25" cy="359.55" r="3.6" fill="url(#hw)"/><circle cx="59.25" cy="357.95" r="3.2" fill="url(#hd)"/><circle cx="59.25" cy="358.65" r="1.75" fill="#242424"/><circle cx="59.25" cy="369.45" r="3.6" fill="url(#hw)"/><circle cx="59.25" cy="367.85" r="3.2" fill="url(#hd)"/><circle cx="59.25" cy="368.55" r="1.75" fill="#242424"/><circle cx="59.25" cy="379.35" r="3.6" fill="url(#hw)"/><circle cx="59.25" cy="377.75" r="3.2" fill="url(#hd)"/><circle cx="59.25" cy="378.45" r="1.75" fill="#242424"/><circle cx="59.25" cy="389.30" r="3.6" fill="url(#hw)"/><circle cx="59.25" cy="387.70" r="3.2" fill="url(#hd)"/><circle cx="59.25" cy="388.40" r="1.75" fill="#242424"/><circle cx="59.25" cy="419.10" r="3.6" fill="url(#hw)"/><circle cx="59.25" cy="417.50" r="3.2" fill="url(#hd)"/><circle cx="59.25" cy="418.20" r="1.75" fill="#242424"/><circle cx="59.25" cy="429.00" r="3.6" fill="url(#hw)"/><circle cx="59.25" cy="427.40" r="3.2" fill="url(#hd)"/><circle cx="59.25" cy="428.10" r="1.75" fill="#242424"/><circle cx="59.25" cy="438.90" r="3.6" fill="url(#hw)"/><circle cx="59.25" cy="437.30" r="3.2" fill="url(#hd)"/><circle cx="59.25" cy="438.00" r="1.75" fill="#242424"/><circle cx="59.25" cy="448.80" r="3.6" fill="url(#hw)"/><circle cx="59.25" cy="447.20" r="3.2" fill="url(#hd)"/><circle cx="59.25" cy="447.90" r="1.75" fill="#242424"/><circle cx="59.25" cy="458.75" r="3.6" fill="url(#hw)"/><circle cx="59.25" cy="457.15" r="3.2" fill="url(#hd)"/><circle cx="59.25" cy="457.85" r="1.75" fill="#242424"/><circle cx="69.16" cy="349.65" r="3.6" fill="url(#hw)"/><circle cx="69.16" cy="348.05" r="3.2" fill="url(#hd)"/><circle cx="69.16" cy="348.75" r="1.75" fill="#242424"/><circle cx="69.16" cy="359.55" r="3.6" fill="url(#hw)"/><circle cx="69.16" cy="357.95" r="3.2" fill="url(#hd)"/><circle cx="69.16" cy="358.65" r="1.75" fill="#242424"/><circle cx="69.16" cy="369.45" r="3.6" fill="url(#hw)"/><circle cx="69.16" cy="367.85" r="3.2" fill="url(#hd)"/><circle cx="69.16" cy="368.55" r="1.75" fill="#242424"/><circle cx="69.16" cy="379.35" r="3.6" fill="url(#hw)"/><circle cx="69.16" cy="377.75" r="3.2" fill="url(#hd)"/><circle cx="69.16" cy="378.45" r="1.75" fill="#242424"/><circle cx="69.16" cy="389.30" r="3.6" fill="url(#hw)"/><circle cx="69.16" cy="387.70" r="3.2" fill="url(#hd)"/><circle cx="69.16" cy="388.40" r="1.75" fill="#242424"/><circle cx="69.16" cy="419.10" r="3.6" fill="url(#hw)"/><circle cx="69.16" cy="417.50" r="3.2" fill="url(#hd)"/><circle cx="69.16" cy="418.20" r="1.75" fill="#242424"/><circle cx="69.16" cy="429.00" r="3.6" fill="url(#hw)"/><circle cx="69.16" cy="427.40" r="3.2" fill="url(#hd)"/><circle cx="69.16" cy="428.10" r="1.75" fill="#242424"/><circle cx="69.16" cy="438.90" r="3.6" fill="url(#hw)"/><circle cx="69.16" cy="437.30" r="3.2" fill="url(#hd)"/><circle cx="69.16" cy="438.00" r="1.75" fill="#242424"/><circle cx="69.16" cy="448.80" r="3.6" fill="url(#hw)"/><circle cx="69.16" cy="447.20" r="3.2" fill="url(#hd)"/><circle cx="69.16" cy="447.90" r="1.75" fill="#242424"/><circle cx="69.16" cy="458.75" r="3.6" fill="url(#hw)"/><circle cx="69.16" cy="457.15" r="3.2" fill="url(#hd)"/><circle cx="69.16" cy="457.85" r="1.75" fill="#242424"/><circle cx="79.08" cy="349.65" r="3.6" fill="url(#hw)"/><circle cx="79.08" cy="348.05" r="3.2" fill="url(#hd)"/><circle cx="79.08" cy="348.75" r="1.75" fill="#242424"/><circle cx="79.08" cy="359.55" r="3.6" fill="url(#hw)"/><circle cx="79.08" cy="357.95" r="3.2" fill="url(#hd)"/><circle cx="79.08" cy="358.65" r="1.75" fill="#242424"/><circle cx="79.08" cy="369.45" r="3.6" fill="url(#hw)"/><circle cx="79.08" cy="367.85" r="3.2" fill="url(#hd)"/><circle cx="79.08" cy="368.55" r="1.75" fill="#242424"/><circle cx="79.08" cy="379.35" r="3.6" fill="url(#hw)"/><circle cx="79.08" cy="377.75" r="3.2" fill="url(#hd)"/><circle cx="79.08" cy="378.45" r="1.75" fill="#242424"/><circle cx="79.08" cy="389.30" r="3.6" fill="url(#hw)"/><circle cx="79.08" cy="387.70" r="3.2" fill="url(#hd)"/><circle cx="79.08" cy="388.40" r="1.75" fill="#242424"/><circle cx="79.08" cy="419.10" r="3.6" fill="url(#hw)"/><circle cx="79.08" cy="417.50" r="3.2" fill="url(#hd)"/><circle cx="79.08" cy="418.20" r="1.75" fill="#242424"/><circle cx="79.08" cy="429.00" r="3.6" fill="url(#hw)"/><circle cx="79.08" cy="427.40" r="3.2" fill="url(#hd)"/><circle cx="79.08" cy="428.10" r="1.75" fill="#242424"/><circle cx="79.08" cy="438.90" r="3.6" fill="url(#hw)"/><circle cx="79.08" cy="437.30" r="3.2" fill="url(#hd)"/><circle cx="79.08" cy="438.00" r="1.75" fill="#242424"/><circle cx="79.08" cy="448.80" r="3.6" fill="url(#hw)"/><circle cx="79.08" cy="447.20" r="3.2" fill="url(#hd)"/><circle cx="79.08" cy="447.90" r="1.75" fill="#242424"/><circle cx="79.08" cy="458.75" r="3.6" fill="url(#hw)"/><circle cx="79.08" cy="457.15" r="3.2" fill="url(#hd)"/><circle cx="79.08" cy="457.85" r="1.75" fill="#242424"/><circle cx="88.99" cy="349.65" r="3.6" fill="url(#hw)"/><circle cx="88.99" cy="348.05" r="3.2" fill="url(#hd)"/><circle cx="88.99" cy="348.75" r="1.75" fill="#242424"/><circle cx="88.99" cy="359.55" r="3.6" fill="url(#hw)"/><circle cx="88.99" cy="357.95" r="3.2" fill="url(#hd)"/><circle cx="88.99" cy="358.65" r="1.75" fill="#242424"/><circle cx="88.99" cy="369.45" r="3.6" fill="url(#hw)"/><circle cx="88.99" cy="367.85" r="3.2" fill="url(#hd)"/><circle cx="88.99" cy="368.55" r="1.75" fill="#242424"/><circle cx="88.99" cy="379.35" r="3.6" fill="url(#hw)"/><circle cx="88.99" cy="377.75" r="3.2" fill="url(#hd)"/><circle cx="88.99" cy="378.45" r="1.75" fill="#242424"/><circle cx="88.99" cy="389.30" r="3.6" fill="url(#hw)"/><circle cx="88.99" cy="387.70" r="3.2" fill="url(#hd)"/><circle cx="88.99" cy="388.40" r="1.75" fill="#242424"/><circle cx="88.99" cy="419.10" r="3.6" fill="url(#hw)"/><circle cx="88.99" cy="417.50" r="3.2" fill="url(#hd)"/><circle cx="88.99" cy="418.20" r="1.75" fill="#242424"/><circle cx="88.99" cy="429.00" r="3.6" fill="url(#hw)"/><circle cx="88.99" cy="427.40" r="3.2" fill="url(#hd)"/><circle cx="88.99" cy="428.10" r="1.75" fill="#242424"/><circle cx="88.99" cy="438.90" r="3.6" fill="url(#hw)"/><circle cx="88.99" cy="437.30" r="3.2" fill="url(#hd)"/><circle cx="88.99" cy="438.00" r="1.75" fill="#242424"/><circle cx="88.99" cy="448.80" r="3.6" fill="url(#hw)"/><circle cx="88.99" cy="447.20" r="3.2" fill="url(#hd)"/><circle cx="88.99" cy="447.90" r="1.75" fill="#242424"/><circle cx="88.99" cy="458.75" r="3.6" fill="url(#hw)"/><circle cx="88.99" cy="457.15" r="3.2" fill="url(#hd)"/><circle cx="88.99" cy="457.85" r="1.75" fill="#242424"/><circle cx="98.90" cy="349.65" r="3.6" fill="url(#hw)"/><circle cx="98.90" cy="348.05" r="3.2" fill="url(#hd)"/><circle cx="98.90" cy="348.75" r="1.75" fill="#242424"/><circle cx="98.90" cy="359.55" r="3.6" fill="url(#hw)"/><circle cx="98.90" cy="357.95" r="3.2" fill="url(#hd)"/><circle cx="98.90" cy="358.65" r="1.75" fill="#242424"/><circle cx="98.90" cy="369.45" r="3.6" fill="url(#hw)"/><circle cx="98.90" cy="367.85" r="3.2" fill="url(#hd)"/><circle cx="98.90" cy="368.55" r="1.75" fill="#242424"/><circle cx="98.90" cy="379.35" r="3.6" fill="url(#hw)"/><circle cx="98.90" cy="377.75" r="3.2" fill="url(#hd)"/><circle cx="98.90" cy="378.45" r="1.75" fill="#242424"/><circle cx="98.90" cy="389.30" r="3.6" fill="url(#hw)"/><circle cx="98.90" cy="387.70" r="3.2" fill="url(#hd)"/><circle cx="98.90" cy="388.40" r="1.75" fill="#242424"/><circle cx="98.90" cy="419.10" r="3.6" fill="url(#hw)"/><circle cx="98.90" cy="417.50" r="3.2" fill="url(#hd)"/><circle cx="98.90" cy="418.20" r="1.75" fill="#242424"/><circle cx="98.90" cy="429.00" r="3.6" fill="url(#hw)"/><circle cx="98.90" cy="427.40" r="3.2" fill="url(#hd)"/><circle cx="98.90" cy="428.10" r="1.75" fill="#242424"/><circle cx="98.90" cy="438.90" r="3.6" fill="url(#hw)"/><circle cx="98.90" cy="437.30" r="3.2" fill="url(#hd)"/><circle cx="98.90" cy="438.00" r="1.75" fill="#242424"/><circle cx="98.90" cy="448.80" r="3.6" fill="url(#hw)"/><circle cx="98.90" cy="447.20" r="3.2" fill="url(#hd)"/><circle cx="98.90" cy="447.90" r="1.75" fill="#242424"/><circle cx="98.90" cy="458.75" r="3.6" fill="url(#hw)"/><circle cx="98.90" cy="457.15" r="3.2" fill="url(#hd)"/><circle cx="98.90" cy="457.85" r="1.75" fill="#242424"/><circle cx="108.82" cy="349.65" r="3.6" fill="url(#hw)"/><circle cx="108.82" cy="348.05" r="3.2" fill="url(#hd)"/><circle cx="108.82" cy="348.75" r="1.75" fill="#242424"/><circle cx="108.82" cy="359.55" r="3.6" fill="url(#hw)"/><circle cx="108.82" cy="357.95" r="3.2" fill="url(#hd)"/><circle cx="108.82" cy="358.65" r="1.75" fill="#242424"/><circle cx="108.82" cy="369.45" r="3.6" fill="url(#hw)"/><circle cx="108.82" cy="367.85" r="3.2" fill="url(#hd)"/><circle cx="108.82" cy="368.55" r="1.75" fill="#242424"/><circle cx="108.82" cy="379.35" r="3.6" fill="url(#hw)"/><circle cx="108.82" cy="377.75" r="3.2" fill="url(#hd)"/><circle cx="108.82" cy="378.45" r="1.75" fill="#242424"/><circle cx="108.82" cy="389.30" r="3.6" fill="url(#hw)"/><circle cx="108.82" cy="387.70" r="3.2" fill="url(#hd)"/><circle cx="108.82" cy="388.40" r="1.75" fill="#242424"/><circle cx="108.82" cy="419.10" r="3.6" fill="url(#hw)"/><circle cx="108.82" cy="417.50" r="3.2" fill="url(#hd)"/><circle cx="108.82" cy="418.20" r="1.75" fill="#242424"/><circle cx="108.82" cy="429.00" r="3.6" fill="url(#hw)"/><circle cx="108.82" cy="427.40" r="3.2" fill="url(#hd)"/><circle cx="108.82" cy="428.10" r="1.75" fill="#242424"/><circle cx="108.82" cy="438.90" r="3.6" fill="url(#hw)"/><circle cx="108.82" cy="437.30" r="3.2" fill="url(#hd)"/><circle cx="108.82" cy="438.00" r="1.75" fill="#242424"/><circle cx="108.82" cy="448.80" r="3.6" fill="url(#hw)"/><circle cx="108.82" cy="447.20" r="3.2" fill="url(#hd)"/><circle cx="108.82" cy="447.90" r="1.75" fill="#242424"/><circle cx="108.82" cy="458.75" r="3.6" fill="url(#hw)"/><circle cx="108.82" cy="457.15" r="3.2" fill="url(#hd)"/><circle cx="108.82" cy="457.85" r="1.75" fill="#242424"/><circle cx="118.73" cy="349.65" r="3.6" fill="url(#hw)"/><circle cx="118.73" cy="348.05" r="3.2" fill="url(#hd)"/><circle cx="118.73" cy="348.75" r="1.75" fill="#242424"/><circle cx="118.73" cy="359.55" r="3.6" fill="url(#hw)"/><circle cx="118.73" cy="357.95" r="3.2" fill="url(#hd)"/><circle cx="118.73" cy="358.65" r="1.75" fill="#242424"/><circle cx="118.73" cy="369.45" r="3.6" fill="url(#hw)"/><circle cx="118.73" cy="367.85" r="3.2" fill="url(#hd)"/><circle cx="118.73" cy="368.55" r="1.75" fill="#242424"/><circle cx="118.73" cy="379.35" r="3.6" fill="url(#hw)"/><circle cx="118.73" cy="377.75" r="3.2" fill="url(#hd)"/><circle cx="118.73" cy="378.45" r="1.75" fill="#242424"/><circle cx="118.73" cy="389.30" r="3.6" fill="url(#hw)"/><circle cx="118.73" cy="387.70" r="3.2" fill="url(#hd)"/><circle cx="118.73" cy="388.40" r="1.75" fill="#242424"/><circle cx="118.73" cy="419.10" r="3.6" fill="url(#hw)"/><circle cx="118.73" cy="417.50" r="3.2" fill="url(#hd)"/><circle cx="118.73" cy="418.20" r="1.75" fill="#242424"/><circle cx="118.73" cy="429.00" r="3.6" fill="url(#hw)"/><circle cx="118.73" cy="427.40" r="3.2" fill="url(#hd)"/><circle cx="118.73" cy="428.10" r="1.75" fill="#242424"/><circle cx="118.73" cy="438.90" r="3.6" fill="url(#hw)"/><circle cx="118.73" cy="437.30" r="3.2" fill="url(#hd)"/><circle cx="118.73" cy="438.00" r="1.75" fill="#242424"/><circle cx="118.73" cy="448.80" r="3.6" fill="url(#hw)"/><circle cx="118.73" cy="447.20" r="3.2" fill="url(#hd)"/><circle cx="118.73" cy="447.90" r="1.75" fill="#242424"/><circle cx="118.73" cy="458.75" r="3.6" fill="url(#hw)"/><circle cx="118.73" cy="457.15" r="3.2" fill="url(#hd)"/><circle cx="118.73" cy="457.85" r="1.75" fill="#242424"/><circle cx="128.64" cy="349.65" r="3.6" fill="url(#hw)"/><circle cx="128.64" cy="348.05" r="3.2" fill="url(#hd)"/><circle cx="128.64" cy="348.75" r="1.75" fill="#242424"/><circle cx="128.64" cy="359.55" r="3.6" fill="url(#hw)"/><circle cx="128.64" cy="357.95" r="3.2" fill="url(#hd)"/><circle cx="128.64" cy="358.65" r="1.75" fill="#242424"/><circle cx="128.64" cy="369.45" r="3.6" fill="url(#hw)"/><circle cx="128.64" cy="367.85" r="3.2" fill="url(#hd)"/><circle cx="128.64" cy="368.55" r="1.75" fill="#242424"/><circle cx="128.64" cy="379.35" r="3.6" fill="url(#hw)"/><circle cx="128.64" cy="377.75" r="3.2" fill="url(#hd)"/><circle cx="128.64" cy="378.45" r="1.75" fill="#242424"/><circle cx="128.64" cy="389.30" r="3.6" fill="url(#hw)"/><circle cx="128.64" cy="387.70" r="3.2" fill="url(#hd)"/><circle cx="128.64" cy="388.40" r="1.75" fill="#242424"/><circle cx="128.64" cy="419.10" r="3.6" fill="url(#hw)"/><circle cx="128.64" cy="417.50" r="3.2" fill="url(#hd)"/><circle cx="128.64" cy="418.20" r="1.75" fill="#242424"/><circle cx="128.64" cy="429.00" r="3.6" fill="url(#hw)"/><circle cx="128.64" cy="427.40" r="3.2" fill="url(#hd)"/><circle cx="128.64" cy="428.10" r="1.75" fill="#242424"/><circle cx="128.64" cy="438.90" r="3.6" fill="url(#hw)"/><circle cx="128.64" cy="437.30" r="3.2" fill="url(#hd)"/><circle cx="128.64" cy="438.00" r="1.75" fill="#242424"/><circle cx="128.64" cy="448.80" r="3.6" fill="url(#hw)"/><circle cx="128.64" cy="447.20" r="3.2" fill="url(#hd)"/><circle cx="128.64" cy="447.90" r="1.75" fill="#242424"/><circle cx="128.64" cy="458.75" r="3.6" fill="url(#hw)"/><circle cx="128.64" cy="457.15" r="3.2" fill="url(#hd)"/><circle cx="128.64" cy="457.85" r="1.75" fill="#242424"/><circle cx="138.56" cy="349.65" r="3.6" fill="url(#hw)"/><circle cx="138.56" cy="348.05" r="3.2" fill="url(#hd)"/><circle cx="138.56" cy="348.75" r="1.75" fill="#242424"/><circle cx="138.56" cy="359.55" r="3.6" fill="url(#hw)"/><circle cx="138.56" cy="357.95" r="3.2" fill="url(#hd)"/><circle cx="138.56" cy="358.65" r="1.75" fill="#242424"/><circle cx="138.56" cy="369.45" r="3.6" fill="url(#hw)"/><circle cx="138.56" cy="367.85" r="3.2" fill="url(#hd)"/><circle cx="138.56" cy="368.55" r="1.75" fill="#242424"/><circle cx="138.56" cy="379.35" r="3.6" fill="url(#hw)"/><circle cx="138.56" cy="377.75" r="3.2" fill="url(#hd)"/><circle cx="138.56" cy="378.45" r="1.75" fill="#242424"/><circle cx="138.56" cy="389.30" r="3.6" fill="url(#hw)"/><circle cx="138.56" cy="387.70" r="3.2" fill="url(#hd)"/><circle cx="138.56" cy="388.40" r="1.75" fill="#242424"/><circle cx="138.56" cy="419.10" r="3.6" fill="url(#hw)"/><circle cx="138.56" cy="417.50" r="3.2" fill="url(#hd)"/><circle cx="138.56" cy="418.20" r="1.75" fill="#242424"/><circle cx="138.56" cy="429.00" r="3.6" fill="url(#hw)"/><circle cx="138.56" cy="427.40" r="3.2" fill="url(#hd)"/><circle cx="138.56" cy="428.10" r="1.75" fill="#242424"/><circle cx="138.56" cy="438.90" r="3.6" fill="url(#hw)"/><circle cx="138.56" cy="437.30" r="3.2" fill="url(#hd)"/><circle cx="138.56" cy="438.00" r="1.75" fill="#242424"/><circle cx="138.56" cy="448.80" r="3.6" fill="url(#hw)"/><circle cx="138.56" cy="447.20" r="3.2" fill="url(#hd)"/><circle cx="138.56" cy="447.90" r="1.75" fill="#242424"/><circle cx="138.56" cy="458.75" r="3.6" fill="url(#hw)"/><circle cx="138.56" cy="457.15" r="3.2" fill="url(#hd)"/><circle cx="138.56" cy="457.85" r="1.75" fill="#242424"/><circle cx="148.47" cy="349.65" r="3.6" fill="url(#hw)"/><circle cx="148.47" cy="348.05" r="3.2" fill="url(#hd)"/><circle cx="148.47" cy="348.75" r="1.75" fill="#242424"/><circle cx="148.47" cy="359.55" r="3.6" fill="url(#hw)"/><circle cx="148.47" cy="357.95" r="3.2" fill="url(#hd)"/><circle cx="148.47" cy="358.65" r="1.75" fill="#242424"/><circle cx="148.47" cy="369.45" r="3.6" fill="url(#hw)"/><circle cx="148.47" cy="367.85" r="3.2" fill="url(#hd)"/><circle cx="148.47" cy="368.55" r="1.75" fill="#242424"/><circle cx="148.47" cy="379.35" r="3.6" fill="url(#hw)"/><circle cx="148.47" cy="377.75" r="3.2" fill="url(#hd)"/><circle cx="148.47" cy="378.45" r="1.75" fill="#242424"/><circle cx="148.47" cy="389.30" r="3.6" fill="url(#hw)"/><circle cx="148.47" cy="387.70" r="3.2" fill="url(#hd)"/><circle cx="148.47" cy="388.40" r="1.75" fill="#242424"/><circle cx="148.47" cy="419.10" r="3.6" fill="url(#hw)"/><circle cx="148.47" cy="417.50" r="3.2" fill="url(#hd)"/><circle cx="148.47" cy="418.20" r="1.75" fill="#242424"/><circle cx="148.47" cy="429.00" r="3.6" fill="url(#hw)"/><circle cx="148.47" cy="427.40" r="3.2" fill="url(#hd)"/><circle cx="148.47" cy="428.10" r="1.75" fill="#242424"/><circle cx="148.47" cy="438.90" r="3.6" fill="url(#hw)"/><circle cx="148.47" cy="437.30" r="3.2" fill="url(#hd)"/><circle cx="148.47" cy="438.00" r="1.75" fill="#242424"/><circle cx="148.47" cy="448.80" r="3.6" fill="url(#hw)"/><circle cx="148.47" cy="447.20" r="3.2" fill="url(#hd)"/><circle cx="148.47" cy="447.90" r="1.75" fill="#242424"/><circle cx="148.47" cy="458.75" r="3.6" fill="url(#hw)"/><circle cx="148.47" cy="457.15" r="3.2" fill="url(#hd)"/><circle cx="148.47" cy="457.85" r="1.75" fill="#242424"/><circle cx="158.38" cy="349.65" r="3.6" fill="url(#hw)"/><circle cx="158.38" cy="348.05" r="3.2" fill="url(#hd)"/><circle cx="158.38" cy="348.75" r="1.75" fill="#242424"/><circle cx="158.38" cy="359.55" r="3.6" fill="url(#hw)"/><circle cx="158.38" cy="357.95" r="3.2" fill="url(#hd)"/><circle cx="158.38" cy="358.65" r="1.75" fill="#242424"/><circle cx="158.38" cy="369.45" r="3.6" fill="url(#hw)"/><circle cx="158.38" cy="367.85" r="3.2" fill="url(#hd)"/><circle cx="158.38" cy="368.55" r="1.75" fill="#242424"/><circle cx="158.38" cy="379.35" r="3.6" fill="url(#hw)"/><circle cx="158.38" cy="377.75" r="3.2" fill="url(#hd)"/><circle cx="158.38" cy="378.45" r="1.75" fill="#242424"/><circle cx="158.38" cy="389.30" r="3.6" fill="url(#hw)"/><circle cx="158.38" cy="387.70" r="3.2" fill="url(#hd)"/><circle cx="158.38" cy="388.40" r="1.75" fill="#242424"/><circle cx="158.38" cy="419.10" r="3.6" fill="url(#hw)"/><circle cx="158.38" cy="417.50" r="3.2" fill="url(#hd)"/><circle cx="158.38" cy="418.20" r="1.75" fill="#242424"/><circle cx="158.38" cy="429.00" r="3.6" fill="url(#hw)"/><circle cx="158.38" cy="427.40" r="3.2" fill="url(#hd)"/><circle cx="158.38" cy="428.10" r="1.75" fill="#242424"/><circle cx="158.38" cy="438.90" r="3.6" fill="url(#hw)"/><circle cx="158.38" cy="437.30" r="3.2" fill="url(#hd)"/><circle cx="158.38" cy="438.00" r="1.75" fill="#242424"/><circle cx="158.38" cy="448.80" r="3.6" fill="url(#hw)"/><circle cx="158.38" cy="447.20" r="3.2" fill="url(#hd)"/><circle cx="158.38" cy="447.90" r="1.75" fill="#242424"/><circle cx="158.38" cy="458.75" r="3.6" fill="url(#hw)"/><circle cx="158.38" cy="457.15" r="3.2" fill="url(#hd)"/><circle cx="158.38" cy="457.85" r="1.75" fill="#242424"/><circle cx="168.29" cy="349.65" r="3.6" fill="url(#hw)"/><circle cx="168.29" cy="348.05" r="3.2" fill="url(#hd)"/><circle cx="168.29" cy="348.75" r="1.75" fill="#242424"/><circle cx="168.29" cy="359.55" r="3.6" fill="url(#hw)"/><circle cx="168.29" cy="357.95" r="3.2" fill="url(#hd)"/><circle cx="168.29" cy="358.65" r="1.75" fill="#242424"/><circle cx="168.29" cy="369.45" r="3.6" fill="url(#hw)"/><circle cx="168.29" cy="367.85" r="3.2" fill="url(#hd)"/><circle cx="168.29" cy="368.55" r="1.75" fill="#242424"/><circle cx="168.29" cy="379.35" r="3.6" fill="url(#hw)"/><circle cx="168.29" cy="377.75" r="3.2" fill="url(#hd)"/><circle cx="168.29" cy="378.45" r="1.75" fill="#242424"/><circle cx="168.29" cy="389.30" r="3.6" fill="url(#hw)"/><circle cx="168.29" cy="387.70" r="3.2" fill="url(#hd)"/><circle cx="168.29" cy="388.40" r="1.75" fill="#242424"/><circle cx="168.29" cy="419.10" r="3.6" fill="url(#hw)"/><circle cx="168.29" cy="417.50" r="3.2" fill="url(#hd)"/><circle cx="168.29" cy="418.20" r="1.75" fill="#242424"/><circle cx="168.29" cy="429.00" r="3.6" fill="url(#hw)"/><circle cx="168.29" cy="427.40" r="3.2" fill="url(#hd)"/><circle cx="168.29" cy="428.10" r="1.75" fill="#242424"/><circle cx="168.29" cy="438.90" r="3.6" fill="url(#hw)"/><circle cx="168.29" cy="437.30" r="3.2" fill="url(#hd)"/><circle cx="168.29" cy="438.00" r="1.75" fill="#242424"/><circle cx="168.29" cy="448.80" r="3.6" fill="url(#hw)"/><circle cx="168.29" cy="447.20" r="3.2" fill="url(#hd)"/><circle cx="168.29" cy="447.90" r="1.75" fill="#242424"/><circle cx="168.29" cy="458.75" r="3.6" fill="url(#hw)"/><circle cx="168.29" cy="457.15" r="3.2" fill="url(#hd)"/><circle cx="168.29" cy="457.85" r="1.75" fill="#242424"/><circle cx="178.21" cy="349.65" r="3.6" fill="url(#hw)"/><circle cx="178.21" cy="348.05" r="3.2" fill="url(#hd)"/><circle cx="178.21" cy="348.75" r="1.75" fill="#242424"/><circle cx="178.21" cy="359.55" r="3.6" fill="url(#hw)"/><circle cx="178.21" cy="357.95" r="3.2" fill="url(#hd)"/><circle cx="178.21" cy="358.65" r="1.75" fill="#242424"/><circle cx="178.21" cy="369.45" r="3.6" fill="url(#hw)"/><circle cx="178.21" cy="367.85" r="3.2" fill="url(#hd)"/><circle cx="178.21" cy="368.55" r="1.75" fill="#242424"/><circle cx="178.21" cy="379.35" r="3.6" fill="url(#hw)"/><circle cx="178.21" cy="377.75" r="3.2" fill="url(#hd)"/><circle cx="178.21" cy="378.45" r="1.75" fill="#242424"/><circle cx="178.21" cy="389.30" r="3.6" fill="url(#hw)"/><circle cx="178.21" cy="387.70" r="3.2" fill="url(#hd)"/><circle cx="178.21" cy="388.40" r="1.75" fill="#242424"/><circle cx="178.21" cy="419.10" r="3.6" fill="url(#hw)"/><circle cx="178.21" cy="417.50" r="3.2" fill="url(#hd)"/><circle cx="178.21" cy="418.20" r="1.75" fill="#242424"/><circle cx="178.21" cy="429.00" r="3.6" fill="url(#hw)"/><circle cx="178.21" cy="427.40" r="3.2" fill="url(#hd)"/><circle cx="178.21" cy="428.10" r="1.75" fill="#242424"/><circle cx="178.21" cy="438.90" r="3.6" fill="url(#hw)"/><circle cx="178.21" cy="437.30" r="3.2" fill="url(#hd)"/><circle cx="178.21" cy="438.00" r="1.75" fill="#242424"/><circle cx="178.21" cy="448.80" r="3.6" fill="url(#hw)"/><circle cx="178.21" cy="447.20" r="3.2" fill="url(#hd)"/><circle cx="178.21" cy="447.90" r="1.75" fill="#242424"/><circle cx="178.21" cy="458.75" r="3.6" fill="url(#hw)"/><circle cx="178.21" cy="457.15" r="3.2" fill="url(#hd)"/><circle cx="178.21" cy="457.85" r="1.75" fill="#242424"/><circle cx="188.12" cy="349.65" r="3.6" fill="url(#hw)"/><circle cx="188.12" cy="348.05" r="3.2" fill="url(#hd)"/><circle cx="188.12" cy="348.75" r="1.75" fill="#242424"/><circle cx="188.12" cy="359.55" r="3.6" fill="url(#hw)"/><circle cx="188.12" cy="357.95" r="3.2" fill="url(#hd)"/><circle cx="188.12" cy="358.65" r="1.75" fill="#242424"/><circle cx="188.12" cy="369.45" r="3.6" fill="url(#hw)"/><circle cx="188.12" cy="367.85" r="3.2" fill="url(#hd)"/><circle cx="188.12" cy="368.55" r="1.75" fill="#242424"/><circle cx="188.12" cy="379.35" r="3.6" fill="url(#hw)"/><circle cx="188.12" cy="377.75" r="3.2" fill="url(#hd)"/><circle cx="188.12" cy="378.45" r="1.75" fill="#242424"/><circle cx="188.12" cy="389.30" r="3.6" fill="url(#hw)"/><circle cx="188.12" cy="387.70" r="3.2" fill="url(#hd)"/><circle cx="188.12" cy="388.40" r="1.75" fill="#242424"/><circle cx="188.12" cy="419.10" r="3.6" fill="url(#hw)"/><circle cx="188.12" cy="417.50" r="3.2" fill="url(#hd)"/><circle cx="188.12" cy="418.20" r="1.75" fill="#242424"/><circle cx="188.12" cy="429.00" r="3.6" fill="url(#hw)"/><circle cx="188.12" cy="427.40" r="3.2" fill="url(#hd)"/><circle cx="188.12" cy="428.10" r="1.75" fill="#242424"/><circle cx="188.12" cy="438.90" r="3.6" fill="url(#hw)"/><circle cx="188.12" cy="437.30" r="3.2" fill="url(#hd)"/><circle cx="188.12" cy="438.00" r="1.75" fill="#242424"/><circle cx="188.12" cy="448.80" r="3.6" fill="url(#hw)"/><circle cx="188.12" cy="447.20" r="3.2" fill="url(#hd)"/><circle cx="188.12" cy="447.90" r="1.75" fill="#242424"/><circle cx="188.12" cy="458.75" r="3.6" fill="url(#hw)"/><circle cx="188.12" cy="457.15" r="3.2" fill="url(#hd)"/><circle cx="188.12" cy="457.85" r="1.75" fill="#242424"/><circle cx="198.03" cy="349.65" r="3.6" fill="url(#hw)"/><circle cx="198.03" cy="348.05" r="3.2" fill="url(#hd)"/><circle cx="198.03" cy="348.75" r="1.75" fill="#242424"/><circle cx="198.03" cy="359.55" r="3.6" fill="url(#hw)"/><circle cx="198.03" cy="357.95" r="3.2" fill="url(#hd)"/><circle cx="198.03" cy="358.65" r="1.75" fill="#242424"/><circle cx="198.03" cy="369.45" r="3.6" fill="url(#hw)"/><circle cx="198.03" cy="367.85" r="3.2" fill="url(#hd)"/><circle cx="198.03" cy="368.55" r="1.75" fill="#242424"/><circle cx="198.03" cy="379.35" r="3.6" fill="url(#hw)"/><circle cx="198.03" cy="377.75" r="3.2" fill="url(#hd)"/><circle cx="198.03" cy="378.45" r="1.75" fill="#242424"/><circle cx="198.03" cy="389.30" r="3.6" fill="url(#hw)"/><circle cx="198.03" cy="387.70" r="3.2" fill="url(#hd)"/><circle cx="198.03" cy="388.40" r="1.75" fill="#242424"/><circle cx="198.03" cy="419.10" r="3.6" fill="url(#hw)"/><circle cx="198.03" cy="417.50" r="3.2" fill="url(#hd)"/><circle cx="198.03" cy="418.20" r="1.75" fill="#242424"/><circle cx="198.03" cy="429.00" r="3.6" fill="url(#hw)"/><circle cx="198.03" cy="427.40" r="3.2" fill="url(#hd)"/><circle cx="198.03" cy="428.10" r="1.75" fill="#242424"/><circle cx="198.03" cy="438.90" r="3.6" fill="url(#hw)"/><circle cx="198.03" cy="437.30" r="3.2" fill="url(#hd)"/><circle cx="198.03" cy="438.00" r="1.75" fill="#242424"/><circle cx="198.03" cy="448.80" r="3.6" fill="url(#hw)"/><circle cx="198.03" cy="447.20" r="3.2" fill="url(#hd)"/><circle cx="198.03" cy="447.90" r="1.75" fill="#242424"/><circle cx="198.03" cy="458.75" r="3.6" fill="url(#hw)"/><circle cx="198.03" cy="457.15" r="3.2" fill="url(#hd)"/><circle cx="198.03" cy="457.85" r="1.75" fill="#242424"/><circle cx="207.95" cy="349.65" r="3.6" fill="url(#hw)"/><circle cx="207.95" cy="348.05" r="3.2" fill="url(#hd)"/><circle cx="207.95" cy="348.75" r="1.75" fill="#242424"/><circle cx="207.95" cy="359.55" r="3.6" fill="url(#hw)"/><circle cx="207.95" cy="357.95" r="3.2" fill="url(#hd)"/><circle cx="207.95" cy="358.65" r="1.75" fill="#242424"/><circle cx="207.95" cy="369.45" r="3.6" fill="url(#hw)"/><circle cx="207.95" cy="367.85" r="3.2" fill="url(#hd)"/><circle cx="207.95" cy="368.55" r="1.75" fill="#242424"/><circle cx="207.95" cy="379.35" r="3.6" fill="url(#hw)"/><circle cx="207.95" cy="377.75" r="3.2" fill="url(#hd)"/><circle cx="207.95" cy="378.45" r="1.75" fill="#242424"/><circle cx="207.95" cy="389.30" r="3.6" fill="url(#hw)"/><circle cx="207.95" cy="387.70" r="3.2" fill="url(#hd)"/><circle cx="207.95" cy="388.40" r="1.75" fill="#242424"/><circle cx="207.95" cy="419.10" r="3.6" fill="url(#hw)"/><circle cx="207.95" cy="417.50" r="3.2" fill="url(#hd)"/><circle cx="207.95" cy="418.20" r="1.75" fill="#242424"/><circle cx="207.95" cy="429.00" r="3.6" fill="url(#hw)"/><circle cx="207.95" cy="427.40" r="3.2" fill="url(#hd)"/><circle cx="207.95" cy="428.10" r="1.75" fill="#242424"/><circle cx="207.95" cy="438.90" r="3.6" fill="url(#hw)"/><circle cx="207.95" cy="437.30" r="3.2" fill="url(#hd)"/><circle cx="207.95" cy="438.00" r="1.75" fill="#242424"/><circle cx="207.95" cy="448.80" r="3.6" fill="url(#hw)"/><circle cx="207.95" cy="447.20" r="3.2" fill="url(#hd)"/><circle cx="207.95" cy="447.90" r="1.75" fill="#242424"/><circle cx="207.95" cy="458.75" r="3.6" fill="url(#hw)"/><circle cx="207.95" cy="457.15" r="3.2" fill="url(#hd)"/><circle cx="207.95" cy="457.85" r="1.75" fill="#242424"/><circle cx="217.86" cy="349.65" r="3.6" fill="url(#hw)"/><circle cx="217.86" cy="348.05" r="3.2" fill="url(#hd)"/><circle cx="217.86" cy="348.75" r="1.75" fill="#242424"/><circle cx="217.86" cy="359.55" r="3.6" fill="url(#hw)"/><circle cx="217.86" cy="357.95" r="3.2" fill="url(#hd)"/><circle cx="217.86" cy="358.65" r="1.75" fill="#242424"/><circle cx="217.86" cy="369.45" r="3.6" fill="url(#hw)"/><circle cx="217.86" cy="367.85" r="3.2" fill="url(#hd)"/><circle cx="217.86" cy="368.55" r="1.75" fill="#242424"/><circle cx="217.86" cy="379.35" r="3.6" fill="url(#hw)"/><circle cx="217.86" cy="377.75" r="3.2" fill="url(#hd)"/><circle cx="217.86" cy="378.45" r="1.75" fill="#242424"/><circle cx="217.86" cy="389.30" r="3.6" fill="url(#hw)"/><circle cx="217.86" cy="387.70" r="3.2" fill="url(#hd)"/><circle cx="217.86" cy="388.40" r="1.75" fill="#242424"/><circle cx="217.86" cy="419.10" r="3.6" fill="url(#hw)"/><circle cx="217.86" cy="417.50" r="3.2" fill="url(#hd)"/><circle cx="217.86" cy="418.20" r="1.75" fill="#242424"/><circle cx="217.86" cy="429.00" r="3.6" fill="url(#hw)"/><circle cx="217.86" cy="427.40" r="3.2" fill="url(#hd)"/><circle cx="217.86" cy="428.10" r="1.75" fill="#242424"/><circle cx="217.86" cy="438.90" r="3.6" fill="url(#hw)"/><circle cx="217.86" cy="437.30" r="3.2" fill="url(#hd)"/><circle cx="217.86" cy="438.00" r="1.75" fill="#242424"/><circle cx="217.86" cy="448.80" r="3.6" fill="url(#hw)"/><circle cx="217.86" cy="447.20" r="3.2" fill="url(#hd)"/><circle cx="217.86" cy="447.90" r="1.75" fill="#242424"/><circle cx="217.86" cy="458.75" r="3.6" fill="url(#hw)"/><circle cx="217.86" cy="457.15" r="3.2" fill="url(#hd)"/><circle cx="217.86" cy="457.85" r="1.75" fill="#242424"/><circle cx="227.77" cy="349.65" r="3.6" fill="url(#hw)"/><circle cx="227.77" cy="348.05" r="3.2" fill="url(#hd)"/><circle cx="227.77" cy="348.75" r="1.75" fill="#242424"/><circle cx="227.77" cy="359.55" r="3.6" fill="url(#hw)"/><circle cx="227.77" cy="357.95" r="3.2" fill="url(#hd)"/><circle cx="227.77" cy="358.65" r="1.75" fill="#242424"/><circle cx="227.77" cy="369.45" r="3.6" fill="url(#hw)"/><circle cx="227.77" cy="367.85" r="3.2" fill="url(#hd)"/><circle cx="227.77" cy="368.55" r="1.75" fill="#242424"/><circle cx="227.77" cy="379.35" r="3.6" fill="url(#hw)"/><circle cx="227.77" cy="377.75" r="3.2" fill="url(#hd)"/><circle cx="227.77" cy="378.45" r="1.75" fill="#242424"/><circle cx="227.77" cy="389.30" r="3.6" fill="url(#hw)"/><circle cx="227.77" cy="387.70" r="3.2" fill="url(#hd)"/><circle cx="227.77" cy="388.40" r="1.75" fill="#242424"/><circle cx="227.77" cy="419.10" r="3.6" fill="url(#hw)"/><circle cx="227.77" cy="417.50" r="3.2" fill="url(#hd)"/><circle cx="227.77" cy="418.20" r="1.75" fill="#242424"/><circle cx="227.77" cy="429.00" r="3.6" fill="url(#hw)"/><circle cx="227.77" cy="427.40" r="3.2" fill="url(#hd)"/><circle cx="227.77" cy="428.10" r="1.75" fill="#242424"/><circle cx="227.77" cy="438.90" r="3.6" fill="url(#hw)"/><circle cx="227.77" cy="437.30" r="3.2" fill="url(#hd)"/><circle cx="227.77" cy="438.00" r="1.75" fill="#242424"/><circle cx="227.77" cy="448.80" r="3.6" fill="url(#hw)"/><circle cx="227.77" cy="447.20" r="3.2" fill="url(#hd)"/><circle cx="227.77" cy="447.90" r="1.75" fill="#242424"/><circle cx="227.77" cy="458.75" r="3.6" fill="url(#hw)"/><circle cx="227.77" cy="457.15" r="3.2" fill="url(#hd)"/><circle cx="227.77" cy="457.85" r="1.75" fill="#242424"/><circle cx="237.69" cy="349.65" r="3.6" fill="url(#hw)"/><circle cx="237.69" cy="348.05" r="3.2" fill="url(#hd)"/><circle cx="237.69" cy="348.75" r="1.75" fill="#242424"/><circle cx="237.69" cy="359.55" r="3.6" fill="url(#hw)"/><circle cx="237.69" cy="357.95" r="3.2" fill="url(#hd)"/><circle cx="237.69" cy="358.65" r="1.75" fill="#242424"/><circle cx="237.69" cy="369.45" r="3.6" fill="url(#hw)"/><circle cx="237.69" cy="367.85" r="3.2" fill="url(#hd)"/><circle cx="237.69" cy="368.55" r="1.75" fill="#242424"/><circle cx="237.69" cy="379.35" r="3.6" fill="url(#hw)"/><circle cx="237.69" cy="377.75" r="3.2" fill="url(#hd)"/><circle cx="237.69" cy="378.45" r="1.75" fill="#242424"/><circle cx="237.69" cy="389.30" r="3.6" fill="url(#hw)"/><circle cx="237.69" cy="387.70" r="3.2" fill="url(#hd)"/><circle cx="237.69" cy="388.40" r="1.75" fill="#242424"/><circle cx="237.69" cy="419.10" r="3.6" fill="url(#hw)"/><circle cx="237.69" cy="417.50" r="3.2" fill="url(#hd)"/><circle cx="237.69" cy="418.20" r="1.75" fill="#242424"/><circle cx="237.69" cy="429.00" r="3.6" fill="url(#hw)"/><circle cx="237.69" cy="427.40" r="3.2" fill="url(#hd)"/><circle cx="237.69" cy="428.10" r="1.75" fill="#242424"/><circle cx="237.69" cy="438.90" r="3.6" fill="url(#hw)"/><circle cx="237.69" cy="437.30" r="3.2" fill="url(#hd)"/><circle cx="237.69" cy="438.00" r="1.75" fill="#242424"/><circle cx="237.69" cy="448.80" r="3.6" fill="url(#hw)"/><circle cx="237.69" cy="447.20" r="3.2" fill="url(#hd)"/><circle cx="237.69" cy="447.90" r="1.75" fill="#242424"/><circle cx="237.69" cy="458.75" r="3.6" fill="url(#hw)"/><circle cx="237.69" cy="457.15" r="3.2" fill="url(#hd)"/><circle cx="237.69" cy="457.85" r="1.75" fill="#242424"/><circle cx="247.60" cy="349.65" r="3.6" fill="url(#hw)"/><circle cx="247.60" cy="348.05" r="3.2" fill="url(#hd)"/><circle cx="247.60" cy="348.75" r="1.75" fill="#242424"/><circle cx="247.60" cy="359.55" r="3.6" fill="url(#hw)"/><circle cx="247.60" cy="357.95" r="3.2" fill="url(#hd)"/><circle cx="247.60" cy="358.65" r="1.75" fill="#242424"/><circle cx="247.60" cy="369.45" r="3.6" fill="url(#hw)"/><circle cx="247.60" cy="367.85" r="3.2" fill="url(#hd)"/><circle cx="247.60" cy="368.55" r="1.75" fill="#242424"/><circle cx="247.60" cy="379.35" r="3.6" fill="url(#hw)"/><circle cx="247.60" cy="377.75" r="3.2" fill="url(#hd)"/><circle cx="247.60" cy="378.45" r="1.75" fill="#242424"/><circle cx="247.60" cy="389.30" r="3.6" fill="url(#hw)"/><circle cx="247.60" cy="387.70" r="3.2" fill="url(#hd)"/><circle cx="247.60" cy="388.40" r="1.75" fill="#242424"/><circle cx="247.60" cy="419.10" r="3.6" fill="url(#hw)"/><circle cx="247.60" cy="417.50" r="3.2" fill="url(#hd)"/><circle cx="247.60" cy="418.20" r="1.75" fill="#242424"/><circle cx="247.60" cy="429.00" r="3.6" fill="url(#hw)"/><circle cx="247.60" cy="427.40" r="3.2" fill="url(#hd)"/><circle cx="247.60" cy="428.10" r="1.75" fill="#242424"/><circle cx="247.60" cy="438.90" r="3.6" fill="url(#hw)"/><circle cx="247.60" cy="437.30" r="3.2" fill="url(#hd)"/><circle cx="247.60" cy="438.00" r="1.75" fill="#242424"/><circle cx="247.60" cy="448.80" r="3.6" fill="url(#hw)"/><circle cx="247.60" cy="447.20" r="3.2" fill="url(#hd)"/><circle cx="247.60" cy="447.90" r="1.75" fill="#242424"/><circle cx="247.60" cy="458.75" r="3.6" fill="url(#hw)"/><circle cx="247.60" cy="457.15" r="3.2" fill="url(#hd)"/><circle cx="247.60" cy="457.85" r="1.75" fill="#242424"/><circle cx="257.51" cy="349.65" r="3.6" fill="url(#hw)"/><circle cx="257.51" cy="348.05" r="3.2" fill="url(#hd)"/><circle cx="257.51" cy="348.75" r="1.75" fill="#242424"/><circle cx="257.51" cy="359.55" r="3.6" fill="url(#hw)"/><circle cx="257.51" cy="357.95" r="3.2" fill="url(#hd)"/><circle cx="257.51" cy="358.65" r="1.75" fill="#242424"/><circle cx="257.51" cy="369.45" r="3.6" fill="url(#hw)"/><circle cx="257.51" cy="367.85" r="3.2" fill="url(#hd)"/><circle cx="257.51" cy="368.55" r="1.75" fill="#242424"/><circle cx="257.51" cy="379.35" r="3.6" fill="url(#hw)"/><circle cx="257.51" cy="377.75" r="3.2" fill="url(#hd)"/><circle cx="257.51" cy="378.45" r="1.75" fill="#242424"/><circle cx="257.51" cy="389.30" r="3.6" fill="url(#hw)"/><circle cx="257.51" cy="387.70" r="3.2" fill="url(#hd)"/><circle cx="257.51" cy="388.40" r="1.75" fill="#242424"/><circle cx="257.51" cy="419.10" r="3.6" fill="url(#hw)"/><circle cx="257.51" cy="417.50" r="3.2" fill="url(#hd)"/><circle cx="257.51" cy="418.20" r="1.75" fill="#242424"/><circle cx="257.51" cy="429.00" r="3.6" fill="url(#hw)"/><circle cx="257.51" cy="427.40" r="3.2" fill="url(#hd)"/><circle cx="257.51" cy="428.10" r="1.75" fill="#242424"/><circle cx="257.51" cy="438.90" r="3.6" fill="url(#hw)"/><circle cx="257.51" cy="437.30" r="3.2" fill="url(#hd)"/><circle cx="257.51" cy="438.00" r="1.75" fill="#242424"/><circle cx="257.51" cy="448.80" r="3.6" fill="url(#hw)"/><circle cx="257.51" cy="447.20" r="3.2" fill="url(#hd)"/><circle cx="257.51" cy="447.90" r="1.75" fill="#242424"/><circle cx="257.51" cy="458.75" r="3.6" fill="url(#hw)"/><circle cx="257.51" cy="457.15" r="3.2" fill="url(#hd)"/><circle cx="257.51" cy="457.85" r="1.75" fill="#242424"/><circle cx="267.43" cy="349.65" r="3.6" fill="url(#hw)"/><circle cx="267.43" cy="348.05" r="3.2" fill="url(#hd)"/><circle cx="267.43" cy="348.75" r="1.75" fill="#242424"/><circle cx="267.43" cy="359.55" r="3.6" fill="url(#hw)"/><circle cx="267.43" cy="357.95" r="3.2" fill="url(#hd)"/><circle cx="267.43" cy="358.65" r="1.75" fill="#242424"/><circle cx="267.43" cy="369.45" r="3.6" fill="url(#hw)"/><circle cx="267.43" cy="367.85" r="3.2" fill="url(#hd)"/><circle cx="267.43" cy="368.55" r="1.75" fill="#242424"/><circle cx="267.43" cy="379.35" r="3.6" fill="url(#hw)"/><circle cx="267.43" cy="377.75" r="3.2" fill="url(#hd)"/><circle cx="267.43" cy="378.45" r="1.75" fill="#242424"/><circle cx="267.43" cy="389.30" r="3.6" fill="url(#hw)"/><circle cx="267.43" cy="387.70" r="3.2" fill="url(#hd)"/><circle cx="267.43" cy="388.40" r="1.75" fill="#242424"/><circle cx="267.43" cy="419.10" r="3.6" fill="url(#hw)"/><circle cx="267.43" cy="417.50" r="3.2" fill="url(#hd)"/><circle cx="267.43" cy="418.20" r="1.75" fill="#242424"/><circle cx="267.43" cy="429.00" r="3.6" fill="url(#hw)"/><circle cx="267.43" cy="427.40" r="3.2" fill="url(#hd)"/><circle cx="267.43" cy="428.10" r="1.75" fill="#242424"/><circle cx="267.43" cy="438.90" r="3.6" fill="url(#hw)"/><circle cx="267.43" cy="437.30" r="3.2" fill="url(#hd)"/><circle cx="267.43" cy="438.00" r="1.75" fill="#242424"/><circle cx="267.43" cy="448.80" r="3.6" fill="url(#hw)"/><circle cx="267.43" cy="447.20" r="3.2" fill="url(#hd)"/><circle cx="267.43" cy="447.90" r="1.75" fill="#242424"/><circle cx="267.43" cy="458.75" r="3.6" fill="url(#hw)"/><circle cx="267.43" cy="457.15" r="3.2" fill="url(#hd)"/><circle cx="267.43" cy="457.85" r="1.75" fill="#242424"/><circle cx="277.34" cy="349.65" r="3.6" fill="url(#hw)"/><circle cx="277.34" cy="348.05" r="3.2" fill="url(#hd)"/><circle cx="277.34" cy="348.75" r="1.75" fill="#242424"/><circle cx="277.34" cy="359.55" r="3.6" fill="url(#hw)"/><circle cx="277.34" cy="357.95" r="3.2" fill="url(#hd)"/><circle cx="277.34" cy="358.65" r="1.75" fill="#242424"/><circle cx="277.34" cy="369.45" r="3.6" fill="url(#hw)"/><circle cx="277.34" cy="367.85" r="3.2" fill="url(#hd)"/><circle cx="277.34" cy="368.55" r="1.75" fill="#242424"/><circle cx="277.34" cy="379.35" r="3.6" fill="url(#hw)"/><circle cx="277.34" cy="377.75" r="3.2" fill="url(#hd)"/><circle cx="277.34" cy="378.45" r="1.75" fill="#242424"/><circle cx="277.34" cy="389.30" r="3.6" fill="url(#hw)"/><circle cx="277.34" cy="387.70" r="3.2" fill="url(#hd)"/><circle cx="277.34" cy="388.40" r="1.75" fill="#242424"/><circle cx="277.34" cy="418.20" r="3.5" fill="url(#hg)"/><circle cx="277.34" cy="418.20" r="1.9" fill="#214f25"/><circle cx="277.34" cy="428.10" r="3.5" fill="url(#hg)"/><circle cx="277.34" cy="428.10" r="1.9" fill="#214f25"/><circle cx="277.34" cy="438.00" r="3.5" fill="url(#hg)"/><circle cx="277.34" cy="438.00" r="1.9" fill="#214f25"/><circle cx="277.34" cy="447.90" r="3.5" fill="url(#hg)"/><circle cx="277.34" cy="447.90" r="1.9" fill="#214f25"/><circle cx="277.34" cy="457.85" r="3.5" fill="url(#hg)"/><circle cx="277.34" cy="457.85" r="1.9" fill="#214f25"/><circle cx="287.25" cy="349.65" r="3.6" fill="url(#hw)"/><circle cx="287.25" cy="348.05" r="3.2" fill="url(#hd)"/><circle cx="287.25" cy="348.75" r="1.75" fill="#242424"/><circle cx="287.25" cy="359.55" r="3.6" fill="url(#hw)"/><circle cx="287.25" cy="357.95" r="3.2" fill="url(#hd)"/><circle cx="287.25" cy="358.65" r="1.75" fill="#242424"/><circle cx="287.25" cy="369.45" r="3.6" fill="url(#hw)"/><circle cx="287.25" cy="367.85" r="3.2" fill="url(#hd)"/><circle cx="287.25" cy="368.55" r="1.75" fill="#242424"/><circle cx="287.25" cy="379.35" r="3.6" fill="url(#hw)"/><circle cx="287.25" cy="377.75" r="3.2" fill="url(#hd)"/><circle cx="287.25" cy="378.45" r="1.75" fill="#242424"/><circle cx="287.25" cy="389.30" r="3.6" fill="url(#hw)"/><circle cx="287.25" cy="387.70" r="3.2" fill="url(#hd)"/><circle cx="287.25" cy="388.40" r="1.75" fill="#242424"/><circle cx="287.25" cy="418.20" r="3.5" fill="url(#hg)"/><circle cx="287.25" cy="418.20" r="1.9" fill="#214f25"/><circle cx="287.25" cy="428.10" r="3.5" fill="url(#hg)"/><circle cx="287.25" cy="428.10" r="1.9" fill="#214f25"/><circle cx="287.25" cy="438.00" r="3.5" fill="url(#hg)"/><circle cx="287.25" cy="438.00" r="1.9" fill="#214f25"/><circle cx="287.25" cy="447.90" r="3.5" fill="url(#hg)"/><circle cx="287.25" cy="447.90" r="1.9" fill="#214f25"/><circle cx="287.25" cy="457.85" r="3.5" fill="url(#hg)"/><circle cx="287.25" cy="457.85" r="1.9" fill="#214f25"/><circle cx="297.16" cy="349.65" r="3.6" fill="url(#hw)"/><circle cx="297.16" cy="348.05" r="3.2" fill="url(#hd)"/><circle cx="297.16" cy="348.75" r="1.75" fill="#242424"/><circle cx="297.16" cy="359.55" r="3.6" fill="url(#hw)"/><circle cx="297.16" cy="357.95" r="3.2" fill="url(#hd)"/><circle cx="297.16" cy="358.65" r="1.75" fill="#242424"/><circle cx="297.16" cy="369.45" r="3.6" fill="url(#hw)"/><circle cx="297.16" cy="367.85" r="3.2" fill="url(#hd)"/><circle cx="297.16" cy="368.55" r="1.75" fill="#242424"/><circle cx="297.16" cy="379.35" r="3.6" fill="url(#hw)"/><circle cx="297.16" cy="377.75" r="3.2" fill="url(#hd)"/><circle cx="297.16" cy="378.45" r="1.75" fill="#242424"/><circle cx="297.16" cy="389.30" r="3.6" fill="url(#hw)"/><circle cx="297.16" cy="387.70" r="3.2" fill="url(#hd)"/><circle cx="297.16" cy="388.40" r="1.75" fill="#242424"/><circle cx="297.16" cy="418.20" r="3.5" fill="url(#hg)"/><circle cx="297.16" cy="418.20" r="1.9" fill="#214f25"/><circle cx="297.16" cy="428.10" r="3.5" fill="url(#hg)"/><circle cx="297.16" cy="428.10" r="1.9" fill="#214f25"/><circle cx="297.16" cy="438.00" r="3.5" fill="url(#hg)"/><circle cx="297.16" cy="438.00" r="1.9" fill="#214f25"/><circle cx="297.16" cy="447.90" r="3.5" fill="url(#hg)"/><circle cx="297.16" cy="447.90" r="1.9" fill="#214f25"/><circle cx="297.16" cy="457.85" r="3.5" fill="url(#hg)"/><circle cx="297.16" cy="457.85" r="1.9" fill="#214f25"/><circle cx="307.08" cy="349.65" r="3.6" fill="url(#hw)"/><circle cx="307.08" cy="348.05" r="3.2" fill="url(#hd)"/><circle cx="307.08" cy="348.75" r="1.75" fill="#242424"/><circle cx="307.08" cy="359.55" r="3.6" fill="url(#hw)"/><circle cx="307.08" cy="357.95" r="3.2" fill="url(#hd)"/><circle cx="307.08" cy="358.65" r="1.75" fill="#242424"/><circle cx="307.08" cy="369.45" r="3.6" fill="url(#hw)"/><circle cx="307.08" cy="367.85" r="3.2" fill="url(#hd)"/><circle cx="307.08" cy="368.55" r="1.75" fill="#242424"/><circle cx="307.08" cy="379.35" r="3.6" fill="url(#hw)"/><circle cx="307.08" cy="377.75" r="3.2" fill="url(#hd)"/><circle cx="307.08" cy="378.45" r="1.75" fill="#242424"/><circle cx="307.08" cy="389.30" r="3.6" fill="url(#hw)"/><circle cx="307.08" cy="387.70" r="3.2" fill="url(#hd)"/><circle cx="307.08" cy="388.40" r="1.75" fill="#242424"/><circle cx="307.08" cy="419.10" r="3.6" fill="url(#hw)"/><circle cx="307.08" cy="417.50" r="3.2" fill="url(#hd)"/><circle cx="307.08" cy="418.20" r="1.75" fill="#242424"/><circle cx="307.08" cy="429.00" r="3.6" fill="url(#hw)"/><circle cx="307.08" cy="427.40" r="3.2" fill="url(#hd)"/><circle cx="307.08" cy="428.10" r="1.75" fill="#242424"/><circle cx="307.08" cy="438.90" r="3.6" fill="url(#hw)"/><circle cx="307.08" cy="437.30" r="3.2" fill="url(#hd)"/><circle cx="307.08" cy="438.00" r="1.75" fill="#242424"/><circle cx="307.08" cy="448.80" r="3.6" fill="url(#hw)"/><circle cx="307.08" cy="447.20" r="3.2" fill="url(#hd)"/><circle cx="307.08" cy="447.90" r="1.75" fill="#242424"/><circle cx="307.08" cy="458.75" r="3.6" fill="url(#hw)"/><circle cx="307.08" cy="457.15" r="3.2" fill="url(#hd)"/><circle cx="307.08" cy="457.85" r="1.75" fill="#242424"/><circle cx="316.99" cy="349.65" r="3.6" fill="url(#hw)"/><circle cx="316.99" cy="348.05" r="3.2" fill="url(#hd)"/><circle cx="316.99" cy="348.75" r="1.75" fill="#242424"/><circle cx="316.99" cy="359.55" r="3.6" fill="url(#hw)"/><circle cx="316.99" cy="357.95" r="3.2" fill="url(#hd)"/><circle cx="316.99" cy="358.65" r="1.75" fill="#242424"/><circle cx="316.99" cy="369.45" r="3.6" fill="url(#hw)"/><circle cx="316.99" cy="367.85" r="3.2" fill="url(#hd)"/><circle cx="316.99" cy="368.55" r="1.75" fill="#242424"/><circle cx="316.99" cy="379.35" r="3.6" fill="url(#hw)"/><circle cx="316.99" cy="377.75" r="3.2" fill="url(#hd)"/><circle cx="316.99" cy="378.45" r="1.75" fill="#242424"/><circle cx="316.99" cy="389.30" r="3.6" fill="url(#hw)"/><circle cx="316.99" cy="387.70" r="3.2" fill="url(#hd)"/><circle cx="316.99" cy="388.40" r="1.75" fill="#242424"/><circle cx="316.99" cy="419.10" r="3.6" fill="url(#hw)"/><circle cx="316.99" cy="417.50" r="3.2" fill="url(#hd)"/><circle cx="316.99" cy="418.20" r="1.75" fill="#242424"/><circle cx="316.99" cy="429.00" r="3.6" fill="url(#hw)"/><circle cx="316.99" cy="427.40" r="3.2" fill="url(#hd)"/><circle cx="316.99" cy="428.10" r="1.75" fill="#242424"/><circle cx="316.99" cy="438.90" r="3.6" fill="url(#hw)"/><circle cx="316.99" cy="437.30" r="3.2" fill="url(#hd)"/><circle cx="316.99" cy="438.00" r="1.75" fill="#242424"/><circle cx="316.99" cy="448.80" r="3.6" fill="url(#hw)"/><circle cx="316.99" cy="447.20" r="3.2" fill="url(#hd)"/><circle cx="316.99" cy="447.90" r="1.75" fill="#242424"/><circle cx="316.99" cy="458.75" r="3.6" fill="url(#hw)"/><circle cx="316.99" cy="457.15" r="3.2" fill="url(#hd)"/><circle cx="316.99" cy="457.85" r="1.75" fill="#242424"/><circle cx="326.90" cy="349.65" r="3.6" fill="url(#hw)"/><circle cx="326.90" cy="348.05" r="3.2" fill="url(#hd)"/><circle cx="326.90" cy="348.75" r="1.75" fill="#242424"/><circle cx="326.90" cy="359.55" r="3.6" fill="url(#hw)"/><circle cx="326.90" cy="357.95" r="3.2" fill="url(#hd)"/><circle cx="326.90" cy="358.65" r="1.75" fill="#242424"/><circle cx="326.90" cy="369.45" r="3.6" fill="url(#hw)"/><circle cx="326.90" cy="367.85" r="3.2" fill="url(#hd)"/><circle cx="326.90" cy="368.55" r="1.75" fill="#242424"/><circle cx="326.90" cy="379.35" r="3.6" fill="url(#hw)"/><circle cx="326.90" cy="377.75" r="3.2" fill="url(#hd)"/><circle cx="326.90" cy="378.45" r="1.75" fill="#242424"/><circle cx="326.90" cy="389.30" r="3.6" fill="url(#hw)"/><circle cx="326.90" cy="387.70" r="3.2" fill="url(#hd)"/><circle cx="326.90" cy="388.40" r="1.75" fill="#242424"/><circle cx="326.90" cy="419.10" r="3.6" fill="url(#hw)"/><circle cx="326.90" cy="417.50" r="3.2" fill="url(#hd)"/><circle cx="326.90" cy="418.20" r="1.75" fill="#242424"/><circle cx="326.90" cy="429.00" r="3.6" fill="url(#hw)"/><circle cx="326.90" cy="427.40" r="3.2" fill="url(#hd)"/><circle cx="326.90" cy="428.10" r="1.75" fill="#242424"/><circle cx="326.90" cy="438.90" r="3.6" fill="url(#hw)"/><circle cx="326.90" cy="437.30" r="3.2" fill="url(#hd)"/><circle cx="326.90" cy="438.00" r="1.75" fill="#242424"/><circle cx="326.90" cy="448.80" r="3.6" fill="url(#hw)"/><circle cx="326.90" cy="447.20" r="3.2" fill="url(#hd)"/><circle cx="326.90" cy="447.90" r="1.75" fill="#242424"/><circle cx="326.90" cy="458.75" r="3.6" fill="url(#hw)"/><circle cx="326.90" cy="457.15" r="3.2" fill="url(#hd)"/><circle cx="326.90" cy="457.85" r="1.75" fill="#242424"/><circle cx="336.82" cy="349.65" r="3.6" fill="url(#hw)"/><circle cx="336.82" cy="348.05" r="3.2" fill="url(#hd)"/><circle cx="336.82" cy="348.75" r="1.75" fill="#242424"/><circle cx="336.82" cy="359.55" r="3.6" fill="url(#hw)"/><circle cx="336.82" cy="357.95" r="3.2" fill="url(#hd)"/><circle cx="336.82" cy="358.65" r="1.75" fill="#242424"/><circle cx="336.82" cy="369.45" r="3.6" fill="url(#hw)"/><circle cx="336.82" cy="367.85" r="3.2" fill="url(#hd)"/><circle cx="336.82" cy="368.55" r="1.75" fill="#242424"/><circle cx="336.82" cy="379.35" r="3.6" fill="url(#hw)"/><circle cx="336.82" cy="377.75" r="3.2" fill="url(#hd)"/><circle cx="336.82" cy="378.45" r="1.75" fill="#242424"/><circle cx="336.82" cy="389.30" r="3.6" fill="url(#hw)"/><circle cx="336.82" cy="387.70" r="3.2" fill="url(#hd)"/><circle cx="336.82" cy="388.40" r="1.75" fill="#242424"/><circle cx="336.82" cy="419.10" r="3.6" fill="url(#hw)"/><circle cx="336.82" cy="417.50" r="3.2" fill="url(#hd)"/><circle cx="336.82" cy="418.20" r="1.75" fill="#242424"/><circle cx="336.82" cy="429.00" r="3.6" fill="url(#hw)"/><circle cx="336.82" cy="427.40" r="3.2" fill="url(#hd)"/><circle cx="336.82" cy="428.10" r="1.75" fill="#242424"/><circle cx="336.82" cy="438.90" r="3.6" fill="url(#hw)"/><circle cx="336.82" cy="437.30" r="3.2" fill="url(#hd)"/><circle cx="336.82" cy="438.00" r="1.75" fill="#242424"/><circle cx="336.82" cy="448.80" r="3.6" fill="url(#hw)"/><circle cx="336.82" cy="447.20" r="3.2" fill="url(#hd)"/><circle cx="336.82" cy="447.90" r="1.75" fill="#242424"/><circle cx="336.82" cy="458.75" r="3.6" fill="url(#hw)"/><circle cx="336.82" cy="457.15" r="3.2" fill="url(#hd)"/><circle cx="336.82" cy="457.85" r="1.75" fill="#242424"/><circle cx="346.73" cy="349.65" r="3.6" fill="url(#hw)"/><circle cx="346.73" cy="348.05" r="3.2" fill="url(#hd)"/><circle cx="346.73" cy="348.75" r="1.75" fill="#242424"/><circle cx="346.73" cy="359.55" r="3.6" fill="url(#hw)"/><circle cx="346.73" cy="357.95" r="3.2" fill="url(#hd)"/><circle cx="346.73" cy="358.65" r="1.75" fill="#242424"/><circle cx="346.73" cy="369.45" r="3.6" fill="url(#hw)"/><circle cx="346.73" cy="367.85" r="3.2" fill="url(#hd)"/><circle cx="346.73" cy="368.55" r="1.75" fill="#242424"/><circle cx="346.73" cy="379.35" r="3.6" fill="url(#hw)"/><circle cx="346.73" cy="377.75" r="3.2" fill="url(#hd)"/><circle cx="346.73" cy="378.45" r="1.75" fill="#242424"/><circle cx="346.73" cy="389.30" r="3.6" fill="url(#hw)"/><circle cx="346.73" cy="387.70" r="3.2" fill="url(#hd)"/><circle cx="346.73" cy="388.40" r="1.75" fill="#242424"/><circle cx="346.73" cy="419.10" r="3.6" fill="url(#hw)"/><circle cx="346.73" cy="417.50" r="3.2" fill="url(#hd)"/><circle cx="346.73" cy="418.20" r="1.75" fill="#242424"/><circle cx="346.73" cy="429.00" r="3.6" fill="url(#hw)"/><circle cx="346.73" cy="427.40" r="3.2" fill="url(#hd)"/><circle cx="346.73" cy="428.10" r="1.75" fill="#242424"/><circle cx="346.73" cy="438.90" r="3.6" fill="url(#hw)"/><circle cx="346.73" cy="437.30" r="3.2" fill="url(#hd)"/><circle cx="346.73" cy="438.00" r="1.75" fill="#242424"/><circle cx="346.73" cy="448.80" r="3.6" fill="url(#hw)"/><circle cx="346.73" cy="447.20" r="3.2" fill="url(#hd)"/><circle cx="346.73" cy="447.90" r="1.75" fill="#242424"/><circle cx="346.73" cy="458.75" r="3.6" fill="url(#hw)"/><circle cx="346.73" cy="457.15" r="3.2" fill="url(#hd)"/><circle cx="346.73" cy="457.85" r="1.75" fill="#242424"/><circle cx="356.64" cy="349.65" r="3.6" fill="url(#hw)"/><circle cx="356.64" cy="348.05" r="3.2" fill="url(#hd)"/><circle cx="356.64" cy="348.75" r="1.75" fill="#242424"/><circle cx="356.64" cy="359.55" r="3.6" fill="url(#hw)"/><circle cx="356.64" cy="357.95" r="3.2" fill="url(#hd)"/><circle cx="356.64" cy="358.65" r="1.75" fill="#242424"/><circle cx="356.64" cy="369.45" r="3.6" fill="url(#hw)"/><circle cx="356.64" cy="367.85" r="3.2" fill="url(#hd)"/><circle cx="356.64" cy="368.55" r="1.75" fill="#242424"/><circle cx="356.64" cy="379.35" r="3.6" fill="url(#hw)"/><circle cx="356.64" cy="377.75" r="3.2" fill="url(#hd)"/><circle cx="356.64" cy="378.45" r="1.75" fill="#242424"/><circle cx="356.64" cy="389.30" r="3.6" fill="url(#hw)"/><circle cx="356.64" cy="387.70" r="3.2" fill="url(#hd)"/><circle cx="356.64" cy="388.40" r="1.75" fill="#242424"/><circle cx="356.64" cy="419.10" r="3.6" fill="url(#hw)"/><circle cx="356.64" cy="417.50" r="3.2" fill="url(#hd)"/><circle cx="356.64" cy="418.20" r="1.75" fill="#242424"/><circle cx="356.64" cy="429.00" r="3.6" fill="url(#hw)"/><circle cx="356.64" cy="427.40" r="3.2" fill="url(#hd)"/><circle cx="356.64" cy="428.10" r="1.75" fill="#242424"/><circle cx="356.64" cy="438.90" r="3.6" fill="url(#hw)"/><circle cx="356.64" cy="437.30" r="3.2" fill="url(#hd)"/><circle cx="356.64" cy="438.00" r="1.75" fill="#242424"/><circle cx="356.64" cy="448.80" r="3.6" fill="url(#hw)"/><circle cx="356.64" cy="447.20" r="3.2" fill="url(#hd)"/><circle cx="356.64" cy="447.90" r="1.75" fill="#242424"/><circle cx="356.64" cy="458.75" r="3.6" fill="url(#hw)"/><circle cx="356.64" cy="457.15" r="3.2" fill="url(#hd)"/><circle cx="356.64" cy="457.85" r="1.75" fill="#242424"/><circle cx="366.56" cy="349.65" r="3.6" fill="url(#hw)"/><circle cx="366.56" cy="348.05" r="3.2" fill="url(#hd)"/><circle cx="366.56" cy="348.75" r="1.75" fill="#242424"/><circle cx="366.56" cy="359.55" r="3.6" fill="url(#hw)"/><circle cx="366.56" cy="357.95" r="3.2" fill="url(#hd)"/><circle cx="366.56" cy="358.65" r="1.75" fill="#242424"/><circle cx="366.56" cy="369.45" r="3.6" fill="url(#hw)"/><circle cx="366.56" cy="367.85" r="3.2" fill="url(#hd)"/><circle cx="366.56" cy="368.55" r="1.75" fill="#242424"/><circle cx="366.56" cy="379.35" r="3.6" fill="url(#hw)"/><circle cx="366.56" cy="377.75" r="3.2" fill="url(#hd)"/><circle cx="366.56" cy="378.45" r="1.75" fill="#242424"/><circle cx="366.56" cy="389.30" r="3.6" fill="url(#hw)"/><circle cx="366.56" cy="387.70" r="3.2" fill="url(#hd)"/><circle cx="366.56" cy="388.40" r="1.75" fill="#242424"/><circle cx="366.56" cy="419.10" r="3.6" fill="url(#hw)"/><circle cx="366.56" cy="417.50" r="3.2" fill="url(#hd)"/><circle cx="366.56" cy="418.20" r="1.75" fill="#242424"/><circle cx="366.56" cy="429.00" r="3.6" fill="url(#hw)"/><circle cx="366.56" cy="427.40" r="3.2" fill="url(#hd)"/><circle cx="366.56" cy="428.10" r="1.75" fill="#242424"/><circle cx="366.56" cy="438.90" r="3.6" fill="url(#hw)"/><circle cx="366.56" cy="437.30" r="3.2" fill="url(#hd)"/><circle cx="366.56" cy="438.00" r="1.75" fill="#242424"/><circle cx="366.56" cy="448.80" r="3.6" fill="url(#hw)"/><circle cx="366.56" cy="447.20" r="3.2" fill="url(#hd)"/><circle cx="366.56" cy="447.90" r="1.75" fill="#242424"/><circle cx="366.56" cy="458.75" r="3.6" fill="url(#hw)"/><circle cx="366.56" cy="457.15" r="3.2" fill="url(#hd)"/><circle cx="366.56" cy="457.85" r="1.75" fill="#242424"/><circle cx="376.47" cy="349.65" r="3.6" fill="url(#hw)"/><circle cx="376.47" cy="348.05" r="3.2" fill="url(#hd)"/><circle cx="376.47" cy="348.75" r="1.75" fill="#242424"/><circle cx="376.47" cy="359.55" r="3.6" fill="url(#hw)"/><circle cx="376.47" cy="357.95" r="3.2" fill="url(#hd)"/><circle cx="376.47" cy="358.65" r="1.75" fill="#242424"/><circle cx="376.47" cy="369.45" r="3.6" fill="url(#hw)"/><circle cx="376.47" cy="367.85" r="3.2" fill="url(#hd)"/><circle cx="376.47" cy="368.55" r="1.75" fill="#242424"/><circle cx="376.47" cy="379.35" r="3.6" fill="url(#hw)"/><circle cx="376.47" cy="377.75" r="3.2" fill="url(#hd)"/><circle cx="376.47" cy="378.45" r="1.75" fill="#242424"/><circle cx="376.47" cy="389.30" r="3.6" fill="url(#hw)"/><circle cx="376.47" cy="387.70" r="3.2" fill="url(#hd)"/><circle cx="376.47" cy="388.40" r="1.75" fill="#242424"/><circle cx="376.47" cy="419.10" r="3.6" fill="url(#hw)"/><circle cx="376.47" cy="417.50" r="3.2" fill="url(#hd)"/><circle cx="376.47" cy="418.20" r="1.75" fill="#242424"/><circle cx="376.47" cy="429.00" r="3.6" fill="url(#hw)"/><circle cx="376.47" cy="427.40" r="3.2" fill="url(#hd)"/><circle cx="376.47" cy="428.10" r="1.75" fill="#242424"/><circle cx="376.47" cy="438.90" r="3.6" fill="url(#hw)"/><circle cx="376.47" cy="437.30" r="3.2" fill="url(#hd)"/><circle cx="376.47" cy="438.00" r="1.75" fill="#242424"/><circle cx="376.47" cy="448.80" r="3.6" fill="url(#hw)"/><circle cx="376.47" cy="447.20" r="3.2" fill="url(#hd)"/><circle cx="376.47" cy="447.90" r="1.75" fill="#242424"/><circle cx="376.47" cy="458.75" r="3.6" fill="url(#hw)"/><circle cx="376.47" cy="457.15" r="3.2" fill="url(#hd)"/><circle cx="376.47" cy="457.85" r="1.75" fill="#242424"/><circle cx="386.38" cy="349.65" r="3.6" fill="url(#hw)"/><circle cx="386.38" cy="348.05" r="3.2" fill="url(#hd)"/><circle cx="386.38" cy="348.75" r="1.75" fill="#242424"/><circle cx="386.38" cy="359.55" r="3.6" fill="url(#hw)"/><circle cx="386.38" cy="357.95" r="3.2" fill="url(#hd)"/><circle cx="386.38" cy="358.65" r="1.75" fill="#242424"/><circle cx="386.38" cy="369.45" r="3.6" fill="url(#hw)"/><circle cx="386.38" cy="367.85" r="3.2" fill="url(#hd)"/><circle cx="386.38" cy="368.55" r="1.75" fill="#242424"/><circle cx="386.38" cy="379.35" r="3.6" fill="url(#hw)"/><circle cx="386.38" cy="377.75" r="3.2" fill="url(#hd)"/><circle cx="386.38" cy="378.45" r="1.75" fill="#242424"/><circle cx="386.38" cy="389.30" r="3.6" fill="url(#hw)"/><circle cx="386.38" cy="387.70" r="3.2" fill="url(#hd)"/><circle cx="386.38" cy="388.40" r="1.75" fill="#242424"/><circle cx="386.38" cy="419.10" r="3.6" fill="url(#hw)"/><circle cx="386.38" cy="417.50" r="3.2" fill="url(#hd)"/><circle cx="386.38" cy="418.20" r="1.75" fill="#242424"/><circle cx="386.38" cy="429.00" r="3.6" fill="url(#hw)"/><circle cx="386.38" cy="427.40" r="3.2" fill="url(#hd)"/><circle cx="386.38" cy="428.10" r="1.75" fill="#242424"/><circle cx="386.38" cy="438.90" r="3.6" fill="url(#hw)"/><circle cx="386.38" cy="437.30" r="3.2" fill="url(#hd)"/><circle cx="386.38" cy="438.00" r="1.75" fill="#242424"/><circle cx="386.38" cy="448.80" r="3.6" fill="url(#hw)"/><circle cx="386.38" cy="447.20" r="3.2" fill="url(#hd)"/><circle cx="386.38" cy="447.90" r="1.75" fill="#242424"/><circle cx="386.38" cy="458.75" r="3.6" fill="url(#hw)"/><circle cx="386.38" cy="457.15" r="3.2" fill="url(#hd)"/><circle cx="386.38" cy="457.85" r="1.75" fill="#242424"/><circle cx="396.29" cy="349.65" r="3.6" fill="url(#hw)"/><circle cx="396.29" cy="348.05" r="3.2" fill="url(#hd)"/><circle cx="396.29" cy="348.75" r="1.75" fill="#242424"/><circle cx="396.29" cy="359.55" r="3.6" fill="url(#hw)"/><circle cx="396.29" cy="357.95" r="3.2" fill="url(#hd)"/><circle cx="396.29" cy="358.65" r="1.75" fill="#242424"/><circle cx="396.29" cy="369.45" r="3.6" fill="url(#hw)"/><circle cx="396.29" cy="367.85" r="3.2" fill="url(#hd)"/><circle cx="396.29" cy="368.55" r="1.75" fill="#242424"/><circle cx="396.29" cy="379.35" r="3.6" fill="url(#hw)"/><circle cx="396.29" cy="377.75" r="3.2" fill="url(#hd)"/><circle cx="396.29" cy="378.45" r="1.75" fill="#242424"/><circle cx="396.29" cy="389.30" r="3.6" fill="url(#hw)"/><circle cx="396.29" cy="387.70" r="3.2" fill="url(#hd)"/><circle cx="396.29" cy="388.40" r="1.75" fill="#242424"/><circle cx="396.29" cy="419.10" r="3.6" fill="url(#hw)"/><circle cx="396.29" cy="417.50" r="3.2" fill="url(#hd)"/><circle cx="396.29" cy="418.20" r="1.75" fill="#242424"/><circle cx="396.29" cy="429.00" r="3.6" fill="url(#hw)"/><circle cx="396.29" cy="427.40" r="3.2" fill="url(#hd)"/><circle cx="396.29" cy="428.10" r="1.75" fill="#242424"/><circle cx="396.29" cy="438.90" r="3.6" fill="url(#hw)"/><circle cx="396.29" cy="437.30" r="3.2" fill="url(#hd)"/><circle cx="396.29" cy="438.00" r="1.75" fill="#242424"/><circle cx="396.29" cy="448.80" r="3.6" fill="url(#hw)"/><circle cx="396.29" cy="447.20" r="3.2" fill="url(#hd)"/><circle cx="396.29" cy="447.90" r="1.75" fill="#242424"/><circle cx="396.29" cy="458.75" r="3.6" fill="url(#hw)"/><circle cx="396.29" cy="457.15" r="3.2" fill="url(#hd)"/><circle cx="396.29" cy="457.85" r="1.75" fill="#242424"/><circle cx="406.21" cy="348.75" r="3.5" fill="url(#hg)"/><circle cx="406.21" cy="348.75" r="1.9" fill="#214f25"/><circle cx="406.21" cy="358.65" r="3.5" fill="url(#hg)"/><circle cx="406.21" cy="358.65" r="1.9" fill="#214f25"/><circle cx="406.21" cy="368.55" r="3.5" fill="url(#hg)"/><circle cx="406.21" cy="368.55" r="1.9" fill="#214f25"/><circle cx="406.21" cy="378.45" r="3.5" fill="url(#hg)"/><circle cx="406.21" cy="378.45" r="1.9" fill="#214f25"/><circle cx="406.21" cy="388.40" r="3.5" fill="url(#hg)"/><circle cx="406.21" cy="388.40" r="1.9" fill="#214f25"/><circle cx="406.21" cy="419.10" r="3.6" fill="url(#hw)"/><circle cx="406.21" cy="417.50" r="3.2" fill="url(#hd)"/><circle cx="406.21" cy="418.20" r="1.75" fill="#242424"/><circle cx="406.21" cy="429.00" r="3.6" fill="url(#hw)"/><circle cx="406.21" cy="427.40" r="3.2" fill="url(#hd)"/><circle cx="406.21" cy="428.10" r="1.75" fill="#242424"/><circle cx="406.21" cy="438.90" r="3.6" fill="url(#hw)"/><circle cx="406.21" cy="437.30" r="3.2" fill="url(#hd)"/><circle cx="406.21" cy="438.00" r="1.75" fill="#242424"/><circle cx="406.21" cy="448.80" r="3.6" fill="url(#hw)"/><circle cx="406.21" cy="447.20" r="3.2" fill="url(#hd)"/><circle cx="406.21" cy="447.90" r="1.75" fill="#242424"/><circle cx="406.21" cy="458.75" r="3.6" fill="url(#hw)"/><circle cx="406.21" cy="457.15" r="3.2" fill="url(#hd)"/><circle cx="406.21" cy="457.85" r="1.75" fill="#242424"/><circle cx="416.12" cy="348.75" r="3.5" fill="url(#hg)"/><circle cx="416.12" cy="348.75" r="1.9" fill="#214f25"/><circle cx="416.12" cy="358.65" r="3.5" fill="url(#hg)"/><circle cx="416.12" cy="358.65" r="1.9" fill="#214f25"/><circle cx="416.12" cy="368.55" r="3.5" fill="url(#hg)"/><circle cx="416.12" cy="368.55" r="1.9" fill="#214f25"/><circle cx="416.12" cy="378.45" r="3.5" fill="url(#hg)"/><circle cx="416.12" cy="378.45" r="1.9" fill="#214f25"/><circle cx="416.12" cy="388.40" r="3.5" fill="url(#hg)"/><circle cx="416.12" cy="388.40" r="1.9" fill="#214f25"/><circle cx="416.12" cy="419.10" r="3.6" fill="url(#hw)"/><circle cx="416.12" cy="417.50" r="3.2" fill="url(#hd)"/><circle cx="416.12" cy="418.20" r="1.75" fill="#242424"/><circle cx="416.12" cy="429.00" r="3.6" fill="url(#hw)"/><circle cx="416.12" cy="427.40" r="3.2" fill="url(#hd)"/><circle cx="416.12" cy="428.10" r="1.75" fill="#242424"/><circle cx="416.12" cy="438.90" r="3.6" fill="url(#hw)"/><circle cx="416.12" cy="437.30" r="3.2" fill="url(#hd)"/><circle cx="416.12" cy="438.00" r="1.75" fill="#242424"/><circle cx="416.12" cy="448.80" r="3.6" fill="url(#hw)"/><circle cx="416.12" cy="447.20" r="3.2" fill="url(#hd)"/><circle cx="416.12" cy="447.90" r="1.75" fill="#242424"/><circle cx="416.12" cy="458.75" r="3.6" fill="url(#hw)"/><circle cx="416.12" cy="457.15" r="3.2" fill="url(#hd)"/><circle cx="416.12" cy="457.85" r="1.75" fill="#242424"/><circle cx="426.03" cy="348.75" r="3.5" fill="url(#hg)"/><circle cx="426.03" cy="348.75" r="1.9" fill="#214f25"/><circle cx="426.03" cy="358.65" r="3.5" fill="url(#hg)"/><circle cx="426.03" cy="358.65" r="1.9" fill="#214f25"/><circle cx="426.03" cy="368.55" r="3.5" fill="url(#hg)"/><circle cx="426.03" cy="368.55" r="1.9" fill="#214f25"/><circle cx="426.03" cy="378.45" r="3.5" fill="url(#hg)"/><circle cx="426.03" cy="378.45" r="1.9" fill="#214f25"/><circle cx="426.03" cy="388.40" r="3.5" fill="url(#hg)"/><circle cx="426.03" cy="388.40" r="1.9" fill="#214f25"/><circle cx="426.03" cy="419.10" r="3.6" fill="url(#hw)"/><circle cx="426.03" cy="417.50" r="3.2" fill="url(#hd)"/><circle cx="426.03" cy="418.20" r="1.75" fill="#242424"/><circle cx="426.03" cy="429.00" r="3.6" fill="url(#hw)"/><circle cx="426.03" cy="427.40" r="3.2" fill="url(#hd)"/><circle cx="426.03" cy="428.10" r="1.75" fill="#242424"/><circle cx="426.03" cy="438.90" r="3.6" fill="url(#hw)"/><circle cx="426.03" cy="437.30" r="3.2" fill="url(#hd)"/><circle cx="426.03" cy="438.00" r="1.75" fill="#242424"/><circle cx="426.03" cy="448.80" r="3.6" fill="url(#hw)"/><circle cx="426.03" cy="447.20" r="3.2" fill="url(#hd)"/><circle cx="426.03" cy="447.90" r="1.75" fill="#242424"/><circle cx="426.03" cy="458.75" r="3.6" fill="url(#hw)"/><circle cx="426.03" cy="457.15" r="3.2" fill="url(#hd)"/><circle cx="426.03" cy="457.85" r="1.75" fill="#242424"/><circle cx="435.95" cy="348.75" r="3.5" fill="url(#hg)"/><circle cx="435.95" cy="348.75" r="1.9" fill="#214f25"/><circle cx="435.95" cy="358.65" r="3.5" fill="url(#hg)"/><circle cx="435.95" cy="358.65" r="1.9" fill="#214f25"/><circle cx="435.95" cy="368.55" r="3.5" fill="url(#hg)"/><circle cx="435.95" cy="368.55" r="1.9" fill="#214f25"/><circle cx="435.95" cy="378.45" r="3.5" fill="url(#hg)"/><circle cx="435.95" cy="378.45" r="1.9" fill="#214f25"/><circle cx="435.95" cy="388.40" r="3.5" fill="url(#hg)"/><circle cx="435.95" cy="388.40" r="1.9" fill="#214f25"/><circle cx="435.95" cy="419.10" r="3.6" fill="url(#hw)"/><circle cx="435.95" cy="417.50" r="3.2" fill="url(#hd)"/><circle cx="435.95" cy="418.20" r="1.75" fill="#242424"/><circle cx="435.95" cy="429.00" r="3.6" fill="url(#hw)"/><circle cx="435.95" cy="427.40" r="3.2" fill="url(#hd)"/><circle cx="435.95" cy="428.10" r="1.75" fill="#242424"/><circle cx="435.95" cy="438.90" r="3.6" fill="url(#hw)"/><circle cx="435.95" cy="437.30" r="3.2" fill="url(#hd)"/><circle cx="435.95" cy="438.00" r="1.75" fill="#242424"/><circle cx="435.95" cy="448.80" r="3.6" fill="url(#hw)"/><circle cx="435.95" cy="447.20" r="3.2" fill="url(#hd)"/><circle cx="435.95" cy="447.90" r="1.75" fill="#242424"/><circle cx="435.95" cy="458.75" r="3.6" fill="url(#hw)"/><circle cx="435.95" cy="457.15" r="3.2" fill="url(#hd)"/><circle cx="435.95" cy="457.85" r="1.75" fill="#242424"/><circle cx="445.86" cy="348.75" r="3.5" fill="url(#hg)"/><circle cx="445.86" cy="348.75" r="1.9" fill="#214f25"/><circle cx="445.86" cy="358.65" r="3.5" fill="url(#hg)"/><circle cx="445.86" cy="358.65" r="1.9" fill="#214f25"/><circle cx="445.86" cy="368.55" r="3.5" fill="url(#hg)"/><circle cx="445.86" cy="368.55" r="1.9" fill="#214f25"/><circle cx="445.86" cy="378.45" r="3.5" fill="url(#hg)"/><circle cx="445.86" cy="378.45" r="1.9" fill="#214f25"/><circle cx="445.86" cy="388.40" r="3.5" fill="url(#hg)"/><circle cx="445.86" cy="388.40" r="1.9" fill="#214f25"/><circle cx="445.86" cy="419.10" r="3.6" fill="url(#hw)"/><circle cx="445.86" cy="417.50" r="3.2" fill="url(#hd)"/><circle cx="445.86" cy="418.20" r="1.75" fill="#242424"/><circle cx="445.86" cy="429.00" r="3.6" fill="url(#hw)"/><circle cx="445.86" cy="427.40" r="3.2" fill="url(#hd)"/><circle cx="445.86" cy="428.10" r="1.75" fill="#242424"/><circle cx="445.86" cy="438.90" r="3.6" fill="url(#hw)"/><circle cx="445.86" cy="437.30" r="3.2" fill="url(#hd)"/><circle cx="445.86" cy="438.00" r="1.75" fill="#242424"/><circle cx="445.86" cy="448.80" r="3.6" fill="url(#hw)"/><circle cx="445.86" cy="447.20" r="3.2" fill="url(#hd)"/><circle cx="445.86" cy="447.90" r="1.75" fill="#242424"/><circle cx="445.86" cy="458.75" r="3.6" fill="url(#hw)"/><circle cx="445.86" cy="457.15" r="3.2" fill="url(#hd)"/><circle cx="445.86" cy="457.85" r="1.75" fill="#242424"/><circle cx="455.77" cy="348.75" r="3.5" fill="url(#hg)"/><circle cx="455.77" cy="348.75" r="1.9" fill="#214f25"/><circle cx="455.77" cy="358.65" r="3.5" fill="url(#hg)"/><circle cx="455.77" cy="358.65" r="1.9" fill="#214f25"/><circle cx="455.77" cy="368.55" r="3.5" fill="url(#hg)"/><circle cx="455.77" cy="368.55" r="1.9" fill="#214f25"/><circle cx="455.77" cy="378.45" r="3.5" fill="url(#hg)"/><circle cx="455.77" cy="378.45" r="1.9" fill="#214f25"/><circle cx="455.77" cy="388.40" r="3.5" fill="url(#hg)"/><circle cx="455.77" cy="388.40" r="1.9" fill="#214f25"/><circle cx="455.77" cy="419.10" r="3.6" fill="url(#hw)"/><circle cx="455.77" cy="417.50" r="3.2" fill="url(#hd)"/><circle cx="455.77" cy="418.20" r="1.75" fill="#242424"/><circle cx="455.77" cy="429.00" r="3.6" fill="url(#hw)"/><circle cx="455.77" cy="427.40" r="3.2" fill="url(#hd)"/><circle cx="455.77" cy="428.10" r="1.75" fill="#242424"/><circle cx="455.77" cy="438.90" r="3.6" fill="url(#hw)"/><circle cx="455.77" cy="437.30" r="3.2" fill="url(#hd)"/><circle cx="455.77" cy="438.00" r="1.75" fill="#242424"/><circle cx="455.77" cy="448.80" r="3.6" fill="url(#hw)"/><circle cx="455.77" cy="447.20" r="3.2" fill="url(#hd)"/><circle cx="455.77" cy="447.90" r="1.75" fill="#242424"/><circle cx="455.77" cy="458.75" r="3.6" fill="url(#hw)"/><circle cx="455.77" cy="457.15" r="3.2" fill="url(#hd)"/><circle cx="455.77" cy="457.85" r="1.75" fill="#242424"/><circle cx="465.69" cy="348.75" r="3.5" fill="url(#hg)"/><circle cx="465.69" cy="348.75" r="1.9" fill="#214f25"/><circle cx="465.69" cy="358.65" r="3.5" fill="url(#hg)"/><circle cx="465.69" cy="358.65" r="1.9" fill="#214f25"/><circle cx="465.69" cy="368.55" r="3.5" fill="url(#hg)"/><circle cx="465.69" cy="368.55" r="1.9" fill="#214f25"/><circle cx="465.69" cy="378.45" r="3.5" fill="url(#hg)"/><circle cx="465.69" cy="378.45" r="1.9" fill="#214f25"/><circle cx="465.69" cy="388.40" r="3.5" fill="url(#hg)"/><circle cx="465.69" cy="388.40" r="1.9" fill="#214f25"/><circle cx="465.69" cy="419.10" r="3.6" fill="url(#hw)"/><circle cx="465.69" cy="417.50" r="3.2" fill="url(#hd)"/><circle cx="465.69" cy="418.20" r="1.75" fill="#242424"/><circle cx="465.69" cy="429.00" r="3.6" fill="url(#hw)"/><circle cx="465.69" cy="427.40" r="3.2" fill="url(#hd)"/><circle cx="465.69" cy="428.10" r="1.75" fill="#242424"/><circle cx="465.69" cy="438.90" r="3.6" fill="url(#hw)"/><circle cx="465.69" cy="437.30" r="3.2" fill="url(#hd)"/><circle cx="465.69" cy="438.00" r="1.75" fill="#242424"/><circle cx="465.69" cy="448.80" r="3.6" fill="url(#hw)"/><circle cx="465.69" cy="447.20" r="3.2" fill="url(#hd)"/><circle cx="465.69" cy="447.90" r="1.75" fill="#242424"/><circle cx="465.69" cy="458.75" r="3.6" fill="url(#hw)"/><circle cx="465.69" cy="457.15" r="3.2" fill="url(#hd)"/><circle cx="465.69" cy="457.85" r="1.75" fill="#242424"/><circle cx="475.60" cy="348.75" r="3.5" fill="url(#hg)"/><circle cx="475.60" cy="348.75" r="1.9" fill="#214f25"/><circle cx="475.60" cy="358.65" r="3.5" fill="url(#hg)"/><circle cx="475.60" cy="358.65" r="1.9" fill="#214f25"/><circle cx="475.60" cy="368.55" r="3.5" fill="url(#hg)"/><circle cx="475.60" cy="368.55" r="1.9" fill="#214f25"/><circle cx="475.60" cy="378.45" r="3.5" fill="url(#hg)"/><circle cx="475.60" cy="378.45" r="1.9" fill="#214f25"/><circle cx="475.60" cy="388.40" r="3.5" fill="url(#hg)"/><circle cx="475.60" cy="388.40" r="1.9" fill="#214f25"/><circle cx="475.60" cy="419.10" r="3.6" fill="url(#hw)"/><circle cx="475.60" cy="417.50" r="3.2" fill="url(#hd)"/><circle cx="475.60" cy="418.20" r="1.75" fill="#242424"/><circle cx="475.60" cy="429.00" r="3.6" fill="url(#hw)"/><circle cx="475.60" cy="427.40" r="3.2" fill="url(#hd)"/><circle cx="475.60" cy="428.10" r="1.75" fill="#242424"/><circle cx="475.60" cy="438.90" r="3.6" fill="url(#hw)"/><circle cx="475.60" cy="437.30" r="3.2" fill="url(#hd)"/><circle cx="475.60" cy="438.00" r="1.75" fill="#242424"/><circle cx="475.60" cy="448.80" r="3.6" fill="url(#hw)"/><circle cx="475.60" cy="447.20" r="3.2" fill="url(#hd)"/><circle cx="475.60" cy="447.90" r="1.75" fill="#242424"/><circle cx="475.60" cy="458.75" r="3.6" fill="url(#hw)"/><circle cx="475.60" cy="457.15" r="3.2" fill="url(#hd)"/><circle cx="475.60" cy="457.85" r="1.75" fill="#242424"/><circle cx="485.51" cy="348.75" r="3.5" fill="url(#hg)"/><circle cx="485.51" cy="348.75" r="1.9" fill="#214f25"/><circle cx="485.51" cy="358.65" r="3.5" fill="url(#hg)"/><circle cx="485.51" cy="358.65" r="1.9" fill="#214f25"/><circle cx="485.51" cy="368.55" r="3.5" fill="url(#hg)"/><circle cx="485.51" cy="368.55" r="1.9" fill="#214f25"/><circle cx="485.51" cy="378.45" r="3.5" fill="url(#hg)"/><circle cx="485.51" cy="378.45" r="1.9" fill="#214f25"/><circle cx="485.51" cy="388.40" r="3.5" fill="url(#hg)"/><circle cx="485.51" cy="388.40" r="1.9" fill="#214f25"/><circle cx="485.51" cy="419.10" r="3.6" fill="url(#hw)"/><circle cx="485.51" cy="417.50" r="3.2" fill="url(#hd)"/><circle cx="485.51" cy="418.20" r="1.75" fill="#242424"/><circle cx="485.51" cy="429.00" r="3.6" fill="url(#hw)"/><circle cx="485.51" cy="427.40" r="3.2" fill="url(#hd)"/><circle cx="485.51" cy="428.10" r="1.75" fill="#242424"/><circle cx="485.51" cy="438.90" r="3.6" fill="url(#hw)"/><circle cx="485.51" cy="437.30" r="3.2" fill="url(#hd)"/><circle cx="485.51" cy="438.00" r="1.75" fill="#242424"/><circle cx="485.51" cy="448.80" r="3.6" fill="url(#hw)"/><circle cx="485.51" cy="447.20" r="3.2" fill="url(#hd)"/><circle cx="485.51" cy="447.90" r="1.75" fill="#242424"/><circle cx="485.51" cy="458.75" r="3.6" fill="url(#hw)"/><circle cx="485.51" cy="457.15" r="3.2" fill="url(#hd)"/><circle cx="485.51" cy="457.85" r="1.75" fill="#242424"/><circle cx="495.42" cy="348.75" r="3.5" fill="url(#hg)"/><circle cx="495.42" cy="348.75" r="1.9" fill="#214f25"/><circle cx="495.42" cy="358.65" r="3.5" fill="url(#hg)"/><circle cx="495.42" cy="358.65" r="1.9" fill="#214f25"/><circle cx="495.42" cy="368.55" r="3.5" fill="url(#hg)"/><circle cx="495.42" cy="368.55" r="1.9" fill="#214f25"/><circle cx="495.42" cy="378.45" r="3.5" fill="url(#hg)"/><circle cx="495.42" cy="378.45" r="1.9" fill="#214f25"/><circle cx="495.42" cy="388.40" r="3.5" fill="url(#hg)"/><circle cx="495.42" cy="388.40" r="1.9" fill="#214f25"/><circle cx="495.42" cy="419.10" r="3.6" fill="url(#hw)"/><circle cx="495.42" cy="417.50" r="3.2" fill="url(#hd)"/><circle cx="495.42" cy="418.20" r="1.75" fill="#242424"/><circle cx="495.42" cy="429.00" r="3.6" fill="url(#hw)"/><circle cx="495.42" cy="427.40" r="3.2" fill="url(#hd)"/><circle cx="495.42" cy="428.10" r="1.75" fill="#242424"/><circle cx="495.42" cy="438.90" r="3.6" fill="url(#hw)"/><circle cx="495.42" cy="437.30" r="3.2" fill="url(#hd)"/><circle cx="495.42" cy="438.00" r="1.75" fill="#242424"/><circle cx="495.42" cy="448.80" r="3.6" fill="url(#hw)"/><circle cx="495.42" cy="447.20" r="3.2" fill="url(#hd)"/><circle cx="495.42" cy="447.90" r="1.75" fill="#242424"/><circle cx="495.42" cy="458.75" r="3.6" fill="url(#hw)"/><circle cx="495.42" cy="457.15" r="3.2" fill="url(#hd)"/><circle cx="495.42" cy="457.85" r="1.75" fill="#242424"/><circle cx="505.34" cy="348.75" r="3.5" fill="url(#hg)"/><circle cx="505.34" cy="348.75" r="1.9" fill="#214f25"/><circle cx="505.34" cy="358.65" r="3.5" fill="url(#hg)"/><circle cx="505.34" cy="358.65" r="1.9" fill="#214f25"/><circle cx="505.34" cy="368.55" r="3.5" fill="url(#hg)"/><circle cx="505.34" cy="368.55" r="1.9" fill="#214f25"/><circle cx="505.34" cy="378.45" r="3.5" fill="url(#hg)"/><circle cx="505.34" cy="378.45" r="1.9" fill="#214f25"/><circle cx="505.34" cy="388.40" r="3.5" fill="url(#hg)"/><circle cx="505.34" cy="388.40" r="1.9" fill="#214f25"/><circle cx="505.34" cy="419.10" r="3.6" fill="url(#hw)"/><circle cx="505.34" cy="417.50" r="3.2" fill="url(#hd)"/><circle cx="505.34" cy="418.20" r="1.75" fill="#242424"/><circle cx="505.34" cy="429.00" r="3.6" fill="url(#hw)"/><circle cx="505.34" cy="427.40" r="3.2" fill="url(#hd)"/><circle cx="505.34" cy="428.10" r="1.75" fill="#242424"/><circle cx="505.34" cy="438.90" r="3.6" fill="url(#hw)"/><circle cx="505.34" cy="437.30" r="3.2" fill="url(#hd)"/><circle cx="505.34" cy="438.00" r="1.75" fill="#242424"/><circle cx="505.34" cy="448.80" r="3.6" fill="url(#hw)"/><circle cx="505.34" cy="447.20" r="3.2" fill="url(#hd)"/><circle cx="505.34" cy="447.90" r="1.75" fill="#242424"/><circle cx="505.34" cy="458.75" r="3.6" fill="url(#hw)"/><circle cx="505.34" cy="457.15" r="3.2" fill="url(#hd)"/><circle cx="505.34" cy="457.85" r="1.75" fill="#242424"/><circle cx="515.25" cy="348.75" r="3.5" fill="url(#hg)"/><circle cx="515.25" cy="348.75" r="1.9" fill="#214f25"/><circle cx="515.25" cy="358.65" r="3.5" fill="url(#hg)"/><circle cx="515.25" cy="358.65" r="1.9" fill="#214f25"/><circle cx="515.25" cy="368.55" r="3.5" fill="url(#hg)"/><circle cx="515.25" cy="368.55" r="1.9" fill="#214f25"/><circle cx="515.25" cy="378.45" r="3.5" fill="url(#hg)"/><circle cx="515.25" cy="378.45" r="1.9" fill="#214f25"/><circle cx="515.25" cy="388.40" r="3.5" fill="url(#hg)"/><circle cx="515.25" cy="388.40" r="1.9" fill="#214f25"/><circle cx="515.25" cy="419.10" r="3.6" fill="url(#hw)"/><circle cx="515.25" cy="417.50" r="3.2" fill="url(#hd)"/><circle cx="515.25" cy="418.20" r="1.75" fill="#242424"/><circle cx="515.25" cy="429.00" r="3.6" fill="url(#hw)"/><circle cx="515.25" cy="427.40" r="3.2" fill="url(#hd)"/><circle cx="515.25" cy="428.10" r="1.75" fill="#242424"/><circle cx="515.25" cy="438.90" r="3.6" fill="url(#hw)"/><circle cx="515.25" cy="437.30" r="3.2" fill="url(#hd)"/><circle cx="515.25" cy="438.00" r="1.75" fill="#242424"/><circle cx="515.25" cy="448.80" r="3.6" fill="url(#hw)"/><circle cx="515.25" cy="447.20" r="3.2" fill="url(#hd)"/><circle cx="515.25" cy="447.90" r="1.75" fill="#242424"/><circle cx="515.25" cy="458.75" r="3.6" fill="url(#hw)"/><circle cx="515.25" cy="457.15" r="3.2" fill="url(#hd)"/><circle cx="515.25" cy="457.85" r="1.75" fill="#242424"/><circle cx="525.16" cy="348.75" r="3.5" fill="url(#hg)"/><circle cx="525.16" cy="348.75" r="1.9" fill="#214f25"/><circle cx="525.16" cy="358.65" r="3.5" fill="url(#hg)"/><circle cx="525.16" cy="358.65" r="1.9" fill="#214f25"/><circle cx="525.16" cy="368.55" r="3.5" fill="url(#hg)"/><circle cx="525.16" cy="368.55" r="1.9" fill="#214f25"/><circle cx="525.16" cy="378.45" r="3.5" fill="url(#hg)"/><circle cx="525.16" cy="378.45" r="1.9" fill="#214f25"/><circle cx="525.16" cy="388.40" r="3.5" fill="url(#hg)"/><circle cx="525.16" cy="388.40" r="1.9" fill="#214f25"/><circle cx="525.16" cy="419.10" r="3.6" fill="url(#hw)"/><circle cx="525.16" cy="417.50" r="3.2" fill="url(#hd)"/><circle cx="525.16" cy="418.20" r="1.75" fill="#242424"/><circle cx="525.16" cy="429.00" r="3.6" fill="url(#hw)"/><circle cx="525.16" cy="427.40" r="3.2" fill="url(#hd)"/><circle cx="525.16" cy="428.10" r="1.75" fill="#242424"/><circle cx="525.16" cy="438.90" r="3.6" fill="url(#hw)"/><circle cx="525.16" cy="437.30" r="3.2" fill="url(#hd)"/><circle cx="525.16" cy="438.00" r="1.75" fill="#242424"/><circle cx="525.16" cy="448.80" r="3.6" fill="url(#hw)"/><circle cx="525.16" cy="447.20" r="3.2" fill="url(#hd)"/><circle cx="525.16" cy="447.90" r="1.75" fill="#242424"/><circle cx="525.16" cy="458.75" r="3.6" fill="url(#hw)"/><circle cx="525.16" cy="457.15" r="3.2" fill="url(#hd)"/><circle cx="525.16" cy="457.85" r="1.75" fill="#242424"/><circle cx="535.08" cy="348.75" r="3.5" fill="url(#hg)"/><circle cx="535.08" cy="348.75" r="1.9" fill="#214f25"/><circle cx="535.08" cy="358.65" r="3.5" fill="url(#hg)"/><circle cx="535.08" cy="358.65" r="1.9" fill="#214f25"/><circle cx="535.08" cy="368.55" r="3.5" fill="url(#hg)"/><circle cx="535.08" cy="368.55" r="1.9" fill="#214f25"/><circle cx="535.08" cy="378.45" r="3.5" fill="url(#hg)"/><circle cx="535.08" cy="378.45" r="1.9" fill="#214f25"/><circle cx="535.08" cy="388.40" r="3.5" fill="url(#hg)"/><circle cx="535.08" cy="388.40" r="1.9" fill="#214f25"/><circle cx="535.08" cy="419.10" r="3.6" fill="url(#hw)"/><circle cx="535.08" cy="417.50" r="3.2" fill="url(#hd)"/><circle cx="535.08" cy="418.20" r="1.75" fill="#242424"/><circle cx="535.08" cy="429.00" r="3.6" fill="url(#hw)"/><circle cx="535.08" cy="427.40" r="3.2" fill="url(#hd)"/><circle cx="535.08" cy="428.10" r="1.75" fill="#242424"/><circle cx="535.08" cy="438.90" r="3.6" fill="url(#hw)"/><circle cx="535.08" cy="437.30" r="3.2" fill="url(#hd)"/><circle cx="535.08" cy="438.00" r="1.75" fill="#242424"/><circle cx="535.08" cy="448.80" r="3.6" fill="url(#hw)"/><circle cx="535.08" cy="447.20" r="3.2" fill="url(#hd)"/><circle cx="535.08" cy="447.90" r="1.75" fill="#242424"/><circle cx="535.08" cy="458.75" r="3.6" fill="url(#hw)"/><circle cx="535.08" cy="457.15" r="3.2" fill="url(#hd)"/><circle cx="535.08" cy="457.85" r="1.75" fill="#242424"/><circle cx="544.99" cy="348.75" r="3.5" fill="url(#hg)"/><circle cx="544.99" cy="348.75" r="1.9" fill="#214f25"/><circle cx="544.99" cy="358.65" r="3.5" fill="url(#hg)"/><circle cx="544.99" cy="358.65" r="1.9" fill="#214f25"/><circle cx="544.99" cy="368.55" r="3.5" fill="url(#hg)"/><circle cx="544.99" cy="368.55" r="1.9" fill="#214f25"/><circle cx="544.99" cy="378.45" r="3.5" fill="url(#hg)"/><circle cx="544.99" cy="378.45" r="1.9" fill="#214f25"/><circle cx="544.99" cy="388.40" r="3.5" fill="url(#hg)"/><circle cx="544.99" cy="388.40" r="1.9" fill="#214f25"/><circle cx="544.99" cy="419.10" r="3.6" fill="url(#hw)"/><circle cx="544.99" cy="417.50" r="3.2" fill="url(#hd)"/><circle cx="544.99" cy="418.20" r="1.75" fill="#242424"/><circle cx="544.99" cy="429.00" r="3.6" fill="url(#hw)"/><circle cx="544.99" cy="427.40" r="3.2" fill="url(#hd)"/><circle cx="544.99" cy="428.10" r="1.75" fill="#242424"/><circle cx="544.99" cy="438.90" r="3.6" fill="url(#hw)"/><circle cx="544.99" cy="437.30" r="3.2" fill="url(#hd)"/><circle cx="544.99" cy="438.00" r="1.75" fill="#242424"/><circle cx="544.99" cy="448.80" r="3.6" fill="url(#hw)"/><circle cx="544.99" cy="447.20" r="3.2" fill="url(#hd)"/><circle cx="544.99" cy="447.90" r="1.75" fill="#242424"/><circle cx="544.99" cy="458.75" r="3.6" fill="url(#hw)"/><circle cx="544.99" cy="457.15" r="3.2" fill="url(#hd)"/><circle cx="544.99" cy="457.85" r="1.75" fill="#242424"/><circle cx="554.90" cy="348.75" r="3.5" fill="url(#hg)"/><circle cx="554.90" cy="348.75" r="1.9" fill="#214f25"/><circle cx="554.90" cy="358.65" r="3.5" fill="url(#hg)"/><circle cx="554.90" cy="358.65" r="1.9" fill="#214f25"/><circle cx="554.90" cy="368.55" r="3.5" fill="url(#hg)"/><circle cx="554.90" cy="368.55" r="1.9" fill="#214f25"/><circle cx="554.90" cy="378.45" r="3.5" fill="url(#hg)"/><circle cx="554.90" cy="378.45" r="1.9" fill="#214f25"/><circle cx="554.90" cy="388.40" r="3.5" fill="url(#hg)"/><circle cx="554.90" cy="388.40" r="1.9" fill="#214f25"/><circle cx="554.90" cy="419.10" r="3.6" fill="url(#hw)"/><circle cx="554.90" cy="417.50" r="3.2" fill="url(#hd)"/><circle cx="554.90" cy="418.20" r="1.75" fill="#242424"/><circle cx="554.90" cy="429.00" r="3.6" fill="url(#hw)"/><circle cx="554.90" cy="427.40" r="3.2" fill="url(#hd)"/><circle cx="554.90" cy="428.10" r="1.75" fill="#242424"/><circle cx="554.90" cy="438.90" r="3.6" fill="url(#hw)"/><circle cx="554.90" cy="437.30" r="3.2" fill="url(#hd)"/><circle cx="554.90" cy="438.00" r="1.75" fill="#242424"/><circle cx="554.90" cy="448.80" r="3.6" fill="url(#hw)"/><circle cx="554.90" cy="447.20" r="3.2" fill="url(#hd)"/><circle cx="554.90" cy="447.90" r="1.75" fill="#242424"/><circle cx="554.90" cy="458.75" r="3.6" fill="url(#hw)"/><circle cx="554.90" cy="457.15" r="3.2" fill="url(#hd)"/><circle cx="554.90" cy="457.85" r="1.75" fill="#242424"/><circle cx="564.82" cy="349.65" r="3.6" fill="url(#hw)"/><circle cx="564.82" cy="348.05" r="3.2" fill="url(#hd)"/><circle cx="564.82" cy="348.75" r="1.75" fill="#242424"/><circle cx="564.82" cy="359.55" r="3.6" fill="url(#hw)"/><circle cx="564.82" cy="357.95" r="3.2" fill="url(#hd)"/><circle cx="564.82" cy="358.65" r="1.75" fill="#242424"/><circle cx="564.82" cy="369.45" r="3.6" fill="url(#hw)"/><circle cx="564.82" cy="367.85" r="3.2" fill="url(#hd)"/><circle cx="564.82" cy="368.55" r="1.75" fill="#242424"/><circle cx="564.82" cy="379.35" r="3.6" fill="url(#hw)"/><circle cx="564.82" cy="377.75" r="3.2" fill="url(#hd)"/><circle cx="564.82" cy="378.45" r="1.75" fill="#242424"/><circle cx="564.82" cy="389.30" r="3.6" fill="url(#hw)"/><circle cx="564.82" cy="387.70" r="3.2" fill="url(#hd)"/><circle cx="564.82" cy="388.40" r="1.75" fill="#242424"/><circle cx="564.82" cy="419.10" r="3.6" fill="url(#hw)"/><circle cx="564.82" cy="417.50" r="3.2" fill="url(#hd)"/><circle cx="564.82" cy="418.20" r="1.75" fill="#242424"/><circle cx="564.82" cy="429.00" r="3.6" fill="url(#hw)"/><circle cx="564.82" cy="427.40" r="3.2" fill="url(#hd)"/><circle cx="564.82" cy="428.10" r="1.75" fill="#242424"/><circle cx="564.82" cy="438.90" r="3.6" fill="url(#hw)"/><circle cx="564.82" cy="437.30" r="3.2" fill="url(#hd)"/><circle cx="564.82" cy="438.00" r="1.75" fill="#242424"/><circle cx="564.82" cy="448.80" r="3.6" fill="url(#hw)"/><circle cx="564.82" cy="447.20" r="3.2" fill="url(#hd)"/><circle cx="564.82" cy="447.90" r="1.75" fill="#242424"/><circle cx="564.82" cy="458.75" r="3.6" fill="url(#hw)"/><circle cx="564.82" cy="457.15" r="3.2" fill="url(#hd)"/><circle cx="564.82" cy="457.85" r="1.75" fill="#242424"/><circle cx="574.73" cy="349.65" r="3.6" fill="url(#hw)"/><circle cx="574.73" cy="348.05" r="3.2" fill="url(#hd)"/><circle cx="574.73" cy="348.75" r="1.75" fill="#242424"/><circle cx="574.73" cy="359.55" r="3.6" fill="url(#hw)"/><circle cx="574.73" cy="357.95" r="3.2" fill="url(#hd)"/><circle cx="574.73" cy="358.65" r="1.75" fill="#242424"/><circle cx="574.73" cy="369.45" r="3.6" fill="url(#hw)"/><circle cx="574.73" cy="367.85" r="3.2" fill="url(#hd)"/><circle cx="574.73" cy="368.55" r="1.75" fill="#242424"/><circle cx="574.73" cy="379.35" r="3.6" fill="url(#hw)"/><circle cx="574.73" cy="377.75" r="3.2" fill="url(#hd)"/><circle cx="574.73" cy="378.45" r="1.75" fill="#242424"/><circle cx="574.73" cy="389.30" r="3.6" fill="url(#hw)"/><circle cx="574.73" cy="387.70" r="3.2" fill="url(#hd)"/><circle cx="574.73" cy="388.40" r="1.75" fill="#242424"/><circle cx="574.73" cy="419.10" r="3.6" fill="url(#hw)"/><circle cx="574.73" cy="417.50" r="3.2" fill="url(#hd)"/><circle cx="574.73" cy="418.20" r="1.75" fill="#242424"/><circle cx="574.73" cy="429.00" r="3.6" fill="url(#hw)"/><circle cx="574.73" cy="427.40" r="3.2" fill="url(#hd)"/><circle cx="574.73" cy="428.10" r="1.75" fill="#242424"/><circle cx="574.73" cy="438.90" r="3.6" fill="url(#hw)"/><circle cx="574.73" cy="437.30" r="3.2" fill="url(#hd)"/><circle cx="574.73" cy="438.00" r="1.75" fill="#242424"/><circle cx="574.73" cy="448.80" r="3.6" fill="url(#hw)"/><circle cx="574.73" cy="447.20" r="3.2" fill="url(#hd)"/><circle cx="574.73" cy="447.90" r="1.75" fill="#242424"/><circle cx="574.73" cy="458.75" r="3.6" fill="url(#hw)"/><circle cx="574.73" cy="457.15" r="3.2" fill="url(#hd)"/><circle cx="574.73" cy="457.85" r="1.75" fill="#242424"/><circle cx="584.64" cy="349.65" r="3.6" fill="url(#hw)"/><circle cx="584.64" cy="348.05" r="3.2" fill="url(#hd)"/><circle cx="584.64" cy="348.75" r="1.75" fill="#242424"/><circle cx="584.64" cy="359.55" r="3.6" fill="url(#hw)"/><circle cx="584.64" cy="357.95" r="3.2" fill="url(#hd)"/><circle cx="584.64" cy="358.65" r="1.75" fill="#242424"/><circle cx="584.64" cy="369.45" r="3.6" fill="url(#hw)"/><circle cx="584.64" cy="367.85" r="3.2" fill="url(#hd)"/><circle cx="584.64" cy="368.55" r="1.75" fill="#242424"/><circle cx="584.64" cy="379.35" r="3.6" fill="url(#hw)"/><circle cx="584.64" cy="377.75" r="3.2" fill="url(#hd)"/><circle cx="584.64" cy="378.45" r="1.75" fill="#242424"/><circle cx="584.64" cy="389.30" r="3.6" fill="url(#hw)"/><circle cx="584.64" cy="387.70" r="3.2" fill="url(#hd)"/><circle cx="584.64" cy="388.40" r="1.75" fill="#242424"/><circle cx="584.64" cy="419.10" r="3.6" fill="url(#hw)"/><circle cx="584.64" cy="417.50" r="3.2" fill="url(#hd)"/><circle cx="584.64" cy="418.20" r="1.75" fill="#242424"/><circle cx="584.64" cy="429.00" r="3.6" fill="url(#hw)"/><circle cx="584.64" cy="427.40" r="3.2" fill="url(#hd)"/><circle cx="584.64" cy="428.10" r="1.75" fill="#242424"/><circle cx="584.64" cy="438.90" r="3.6" fill="url(#hw)"/><circle cx="584.64" cy="437.30" r="3.2" fill="url(#hd)"/><circle cx="584.64" cy="438.00" r="1.75" fill="#242424"/><circle cx="584.64" cy="448.80" r="3.6" fill="url(#hw)"/><circle cx="584.64" cy="447.20" r="3.2" fill="url(#hd)"/><circle cx="584.64" cy="447.90" r="1.75" fill="#242424"/><circle cx="584.64" cy="458.75" r="3.6" fill="url(#hw)"/><circle cx="584.64" cy="457.15" r="3.2" fill="url(#hd)"/><circle cx="584.64" cy="457.85" r="1.75" fill="#242424"/><circle cx="594.55" cy="349.65" r="3.6" fill="url(#hw)"/><circle cx="594.55" cy="348.05" r="3.2" fill="url(#hd)"/><circle cx="594.55" cy="348.75" r="1.75" fill="#242424"/><circle cx="594.55" cy="359.55" r="3.6" fill="url(#hw)"/><circle cx="594.55" cy="357.95" r="3.2" fill="url(#hd)"/><circle cx="594.55" cy="358.65" r="1.75" fill="#242424"/><circle cx="594.55" cy="369.45" r="3.6" fill="url(#hw)"/><circle cx="594.55" cy="367.85" r="3.2" fill="url(#hd)"/><circle cx="594.55" cy="368.55" r="1.75" fill="#242424"/><circle cx="594.55" cy="379.35" r="3.6" fill="url(#hw)"/><circle cx="594.55" cy="377.75" r="3.2" fill="url(#hd)"/><circle cx="594.55" cy="378.45" r="1.75" fill="#242424"/><circle cx="594.55" cy="389.30" r="3.6" fill="url(#hw)"/><circle cx="594.55" cy="387.70" r="3.2" fill="url(#hd)"/><circle cx="594.55" cy="388.40" r="1.75" fill="#242424"/><circle cx="594.55" cy="419.10" r="3.6" fill="url(#hw)"/><circle cx="594.55" cy="417.50" r="3.2" fill="url(#hd)"/><circle cx="594.55" cy="418.20" r="1.75" fill="#242424"/><circle cx="594.55" cy="429.00" r="3.6" fill="url(#hw)"/><circle cx="594.55" cy="427.40" r="3.2" fill="url(#hd)"/><circle cx="594.55" cy="428.10" r="1.75" fill="#242424"/><circle cx="594.55" cy="438.90" r="3.6" fill="url(#hw)"/><circle cx="594.55" cy="437.30" r="3.2" fill="url(#hd)"/><circle cx="594.55" cy="438.00" r="1.75" fill="#242424"/><circle cx="594.55" cy="448.80" r="3.6" fill="url(#hw)"/><circle cx="594.55" cy="447.20" r="3.2" fill="url(#hd)"/><circle cx="594.55" cy="447.90" r="1.75" fill="#242424"/><circle cx="594.55" cy="458.75" r="3.6" fill="url(#hw)"/><circle cx="594.55" cy="457.15" r="3.2" fill="url(#hd)"/><circle cx="594.55" cy="457.85" r="1.75" fill="#242424"/><circle cx="604.47" cy="349.65" r="3.6" fill="url(#hw)"/><circle cx="604.47" cy="348.05" r="3.2" fill="url(#hd)"/><circle cx="604.47" cy="348.75" r="1.75" fill="#242424"/><circle cx="604.47" cy="359.55" r="3.6" fill="url(#hw)"/><circle cx="604.47" cy="357.95" r="3.2" fill="url(#hd)"/><circle cx="604.47" cy="358.65" r="1.75" fill="#242424"/><circle cx="604.47" cy="369.45" r="3.6" fill="url(#hw)"/><circle cx="604.47" cy="367.85" r="3.2" fill="url(#hd)"/><circle cx="604.47" cy="368.55" r="1.75" fill="#242424"/><circle cx="604.47" cy="379.35" r="3.6" fill="url(#hw)"/><circle cx="604.47" cy="377.75" r="3.2" fill="url(#hd)"/><circle cx="604.47" cy="378.45" r="1.75" fill="#242424"/><circle cx="604.47" cy="389.30" r="3.6" fill="url(#hw)"/><circle cx="604.47" cy="387.70" r="3.2" fill="url(#hd)"/><circle cx="604.47" cy="388.40" r="1.75" fill="#242424"/><circle cx="604.47" cy="419.10" r="3.6" fill="url(#hw)"/><circle cx="604.47" cy="417.50" r="3.2" fill="url(#hd)"/><circle cx="604.47" cy="418.20" r="1.75" fill="#242424"/><circle cx="604.47" cy="429.00" r="3.6" fill="url(#hw)"/><circle cx="604.47" cy="427.40" r="3.2" fill="url(#hd)"/><circle cx="604.47" cy="428.10" r="1.75" fill="#242424"/><circle cx="604.47" cy="438.90" r="3.6" fill="url(#hw)"/><circle cx="604.47" cy="437.30" r="3.2" fill="url(#hd)"/><circle cx="604.47" cy="438.00" r="1.75" fill="#242424"/><circle cx="604.47" cy="448.80" r="3.6" fill="url(#hw)"/><circle cx="604.47" cy="447.20" r="3.2" fill="url(#hd)"/><circle cx="604.47" cy="447.90" r="1.75" fill="#242424"/><circle cx="604.47" cy="458.75" r="3.6" fill="url(#hw)"/><circle cx="604.47" cy="457.15" r="3.2" fill="url(#hd)"/><circle cx="604.47" cy="457.85" r="1.75" fill="#242424"/><circle cx="614.38" cy="349.65" r="3.6" fill="url(#hw)"/><circle cx="614.38" cy="348.05" r="3.2" fill="url(#hd)"/><circle cx="614.38" cy="348.75" r="1.75" fill="#242424"/><circle cx="614.38" cy="359.55" r="3.6" fill="url(#hw)"/><circle cx="614.38" cy="357.95" r="3.2" fill="url(#hd)"/><circle cx="614.38" cy="358.65" r="1.75" fill="#242424"/><circle cx="614.38" cy="369.45" r="3.6" fill="url(#hw)"/><circle cx="614.38" cy="367.85" r="3.2" fill="url(#hd)"/><circle cx="614.38" cy="368.55" r="1.75" fill="#242424"/><circle cx="614.38" cy="379.35" r="3.6" fill="url(#hw)"/><circle cx="614.38" cy="377.75" r="3.2" fill="url(#hd)"/><circle cx="614.38" cy="378.45" r="1.75" fill="#242424"/><circle cx="614.38" cy="389.30" r="3.6" fill="url(#hw)"/><circle cx="614.38" cy="387.70" r="3.2" fill="url(#hd)"/><circle cx="614.38" cy="388.40" r="1.75" fill="#242424"/><circle cx="614.38" cy="419.10" r="3.6" fill="url(#hw)"/><circle cx="614.38" cy="417.50" r="3.2" fill="url(#hd)"/><circle cx="614.38" cy="418.20" r="1.75" fill="#242424"/><circle cx="614.38" cy="429.00" r="3.6" fill="url(#hw)"/><circle cx="614.38" cy="427.40" r="3.2" fill="url(#hd)"/><circle cx="614.38" cy="428.10" r="1.75" fill="#242424"/><circle cx="614.38" cy="438.90" r="3.6" fill="url(#hw)"/><circle cx="614.38" cy="437.30" r="3.2" fill="url(#hd)"/><circle cx="614.38" cy="438.00" r="1.75" fill="#242424"/><circle cx="614.38" cy="448.80" r="3.6" fill="url(#hw)"/><circle cx="614.38" cy="447.20" r="3.2" fill="url(#hd)"/><circle cx="614.38" cy="447.90" r="1.75" fill="#242424"/><circle cx="614.38" cy="458.75" r="3.6" fill="url(#hw)"/><circle cx="614.38" cy="457.15" r="3.2" fill="url(#hd)"/><circle cx="614.38" cy="457.85" r="1.75" fill="#242424"/><circle cx="624.29" cy="349.65" r="3.6" fill="url(#hw)"/><circle cx="624.29" cy="348.05" r="3.2" fill="url(#hd)"/><circle cx="624.29" cy="348.75" r="1.75" fill="#242424"/><circle cx="624.29" cy="359.55" r="3.6" fill="url(#hw)"/><circle cx="624.29" cy="357.95" r="3.2" fill="url(#hd)"/><circle cx="624.29" cy="358.65" r="1.75" fill="#242424"/><circle cx="624.29" cy="369.45" r="3.6" fill="url(#hw)"/><circle cx="624.29" cy="367.85" r="3.2" fill="url(#hd)"/><circle cx="624.29" cy="368.55" r="1.75" fill="#242424"/><circle cx="624.29" cy="379.35" r="3.6" fill="url(#hw)"/><circle cx="624.29" cy="377.75" r="3.2" fill="url(#hd)"/><circle cx="624.29" cy="378.45" r="1.75" fill="#242424"/><circle cx="624.29" cy="389.30" r="3.6" fill="url(#hw)"/><circle cx="624.29" cy="387.70" r="3.2" fill="url(#hd)"/><circle cx="624.29" cy="388.40" r="1.75" fill="#242424"/><circle cx="624.29" cy="419.10" r="3.6" fill="url(#hw)"/><circle cx="624.29" cy="417.50" r="3.2" fill="url(#hd)"/><circle cx="624.29" cy="418.20" r="1.75" fill="#242424"/><circle cx="624.29" cy="429.00" r="3.6" fill="url(#hw)"/><circle cx="624.29" cy="427.40" r="3.2" fill="url(#hd)"/><circle cx="624.29" cy="428.10" r="1.75" fill="#242424"/><circle cx="624.29" cy="438.90" r="3.6" fill="url(#hw)"/><circle cx="624.29" cy="437.30" r="3.2" fill="url(#hd)"/><circle cx="624.29" cy="438.00" r="1.75" fill="#242424"/><circle cx="624.29" cy="448.80" r="3.6" fill="url(#hw)"/><circle cx="624.29" cy="447.20" r="3.2" fill="url(#hd)"/><circle cx="624.29" cy="447.90" r="1.75" fill="#242424"/><circle cx="624.29" cy="458.75" r="3.6" fill="url(#hw)"/><circle cx="624.29" cy="457.15" r="3.2" fill="url(#hd)"/><circle cx="624.29" cy="457.85" r="1.75" fill="#242424"/><circle cx="634.21" cy="349.65" r="3.6" fill="url(#hw)"/><circle cx="634.21" cy="348.05" r="3.2" fill="url(#hd)"/><circle cx="634.21" cy="348.75" r="1.75" fill="#242424"/><circle cx="634.21" cy="359.55" r="3.6" fill="url(#hw)"/><circle cx="634.21" cy="357.95" r="3.2" fill="url(#hd)"/><circle cx="634.21" cy="358.65" r="1.75" fill="#242424"/><circle cx="634.21" cy="369.45" r="3.6" fill="url(#hw)"/><circle cx="634.21" cy="367.85" r="3.2" fill="url(#hd)"/><circle cx="634.21" cy="368.55" r="1.75" fill="#242424"/><circle cx="634.21" cy="379.35" r="3.6" fill="url(#hw)"/><circle cx="634.21" cy="377.75" r="3.2" fill="url(#hd)"/><circle cx="634.21" cy="378.45" r="1.75" fill="#242424"/><circle cx="634.21" cy="389.30" r="3.6" fill="url(#hw)"/><circle cx="634.21" cy="387.70" r="3.2" fill="url(#hd)"/><circle cx="634.21" cy="388.40" r="1.75" fill="#242424"/><circle cx="634.21" cy="419.10" r="3.6" fill="url(#hw)"/><circle cx="634.21" cy="417.50" r="3.2" fill="url(#hd)"/><circle cx="634.21" cy="418.20" r="1.75" fill="#242424"/><circle cx="634.21" cy="429.00" r="3.6" fill="url(#hw)"/><circle cx="634.21" cy="427.40" r="3.2" fill="url(#hd)"/><circle cx="634.21" cy="428.10" r="1.75" fill="#242424"/><circle cx="634.21" cy="438.90" r="3.6" fill="url(#hw)"/><circle cx="634.21" cy="437.30" r="3.2" fill="url(#hd)"/><circle cx="634.21" cy="438.00" r="1.75" fill="#242424"/><circle cx="634.21" cy="448.80" r="3.6" fill="url(#hw)"/><circle cx="634.21" cy="447.20" r="3.2" fill="url(#hd)"/><circle cx="634.21" cy="447.90" r="1.75" fill="#242424"/><circle cx="634.21" cy="458.75" r="3.6" fill="url(#hw)"/><circle cx="634.21" cy="457.15" r="3.2" fill="url(#hd)"/><circle cx="634.21" cy="457.85" r="1.75" fill="#242424"/>
<g font-family="&quot;Liberation Sans&quot;, sans-serif"><text transform="translate(21.80,337.3) rotate(-90)" text-anchor="middle" font-size="6.5" fill="#a9a9a9">1</text><text transform="translate(21.80,471.6) rotate(-90)" text-anchor="middle" font-size="6.5" fill="#a9a9a9">1</text><text transform="translate(61.45,337.3) rotate(-90)" text-anchor="middle" font-size="6.5" fill="#a9a9a9">5</text><text transform="translate(61.45,471.6) rotate(-90)" text-anchor="middle" font-size="6.5" fill="#a9a9a9">5</text><text transform="translate(111.02,337.3) rotate(-90)" text-anchor="middle" font-size="6.5" fill="#a9a9a9">10</text><text transform="translate(111.02,471.6) rotate(-90)" text-anchor="middle" font-size="6.5" fill="#a9a9a9">10</text><text transform="translate(160.58,337.3) rotate(-90)" text-anchor="middle" font-size="6.5" fill="#a9a9a9">15</text><text transform="translate(160.58,471.6) rotate(-90)" text-anchor="middle" font-size="6.5" fill="#a9a9a9">15</text><text transform="translate(210.15,337.3) rotate(-90)" text-anchor="middle" font-size="6.5" fill="#a9a9a9">20</text><text transform="translate(210.15,471.6) rotate(-90)" text-anchor="middle" font-size="6.5" fill="#a9a9a9">20</text><text transform="translate(259.71,337.3) rotate(-90)" text-anchor="middle" font-size="6.5" fill="#a9a9a9">25</text><text transform="translate(259.71,471.6) rotate(-90)" text-anchor="middle" font-size="6.5" fill="#a9a9a9">25</text><text transform="translate(309.28,337.3) rotate(-90)" text-anchor="middle" font-size="6.5" fill="#a9a9a9">30</text><text transform="translate(309.28,471.6) rotate(-90)" text-anchor="middle" font-size="6.5" fill="#a9a9a9">30</text><text transform="translate(358.84,337.3) rotate(-90)" text-anchor="middle" font-size="6.5" fill="#a9a9a9">35</text><text transform="translate(358.84,471.6) rotate(-90)" text-anchor="middle" font-size="6.5" fill="#a9a9a9">35</text><text transform="translate(408.41,337.3) rotate(-90)" text-anchor="middle" font-size="6.5" fill="#a9a9a9">40</text><text transform="translate(408.41,471.6) rotate(-90)" text-anchor="middle" font-size="6.5" fill="#a9a9a9">40</text><text transform="translate(457.97,337.3) rotate(-90)" text-anchor="middle" font-size="6.5" fill="#a9a9a9">45</text><text transform="translate(457.97,471.6) rotate(-90)" text-anchor="middle" font-size="6.5" fill="#a9a9a9">45</text><text transform="translate(507.54,337.3) rotate(-90)" text-anchor="middle" font-size="6.5" fill="#a9a9a9">50</text><text transform="translate(507.54,471.6) rotate(-90)" text-anchor="middle" font-size="6.5" fill="#a9a9a9">50</text><text transform="translate(557.10,337.3) rotate(-90)" text-anchor="middle" font-size="6.5" fill="#a9a9a9">55</text><text transform="translate(557.10,471.6) rotate(-90)" text-anchor="middle" font-size="6.5" fill="#a9a9a9">55</text><text transform="translate(606.67,337.3) rotate(-90)" text-anchor="middle" font-size="6.5" fill="#a9a9a9">60</text><text transform="translate(606.67,471.6) rotate(-90)" text-anchor="middle" font-size="6.5" fill="#a9a9a9">60</text><text transform="translate(12.8,348.75) rotate(-90)" text-anchor="middle" font-size="6" fill="#b0b0b0">J</text><text transform="translate(645.6,348.75) rotate(-90)" text-anchor="middle" font-size="6" fill="#b0b0b0">J</text><text transform="translate(12.8,358.65) rotate(-90)" text-anchor="middle" font-size="6" fill="#b0b0b0">I</text><text transform="translate(645.6,358.65) rotate(-90)" text-anchor="middle" font-size="6" fill="#b0b0b0">I</text><text transform="translate(12.8,368.55) rotate(-90)" text-anchor="middle" font-size="6" fill="#b0b0b0">H</text><text transform="translate(645.6,368.55) rotate(-90)" text-anchor="middle" font-size="6" fill="#b0b0b0">H</text><text transform="translate(12.8,378.45) rotate(-90)" text-anchor="middle" font-size="6" fill="#b0b0b0">G</text><text transform="translate(645.6,378.45) rotate(-90)" text-anchor="middle" font-size="6" fill="#b0b0b0">G</text><text transform="translate(12.8,388.4) rotate(-90)" text-anchor="middle" font-size="6" fill="#b0b0b0">F</text><text transform="translate(645.6,388.4) rotate(-90)" text-anchor="middle" font-size="6" fill="#b0b0b0">F</text><text transform="translate(12.8,418.2) rotate(-90)" text-anchor="middle" font-size="6" fill="#b0b0b0">E</text><text transform="translate(645.6,418.2) rotate(-90)" text-anchor="middle" font-size="6" fill="#b0b0b0">E</text><text transform="translate(12.8,428.1) rotate(-90)" text-anchor="middle" font-size="6" fill="#b0b0b0">D</text><text transform="translate(645.6,428.1) rotate(-90)" text-anchor="middle" font-size="6" fill="#b0b0b0">D</text><text transform="translate(12.8,438.0) rotate(-90)" text-anchor="middle" font-size="6" fill="#b0b0b0">C</text><text transform="translate(645.6,438.0) rotate(-90)" text-anchor="middle" font-size="6" fill="#b0b0b0">C</text><text transform="translate(12.8,447.9) rotate(-90)" text-anchor="middle" font-size="6" fill="#b0b0b0">B</text><text transform="translate(645.6,447.9) rotate(-90)" text-anchor="middle" font-size="6" fill="#b0b0b0">B</text><text transform="translate(12.8,457.85) rotate(-90)" text-anchor="middle" font-size="6" fill="#b0b0b0">A</text><text transform="translate(645.6,457.85) rotate(-90)" text-anchor="middle" font-size="6" fill="#b0b0b0">A</text></g>
<path d="M119,36.7 Q119,31.7 124,31.7 L322,31.7 Q327,31.7 327,36.7 L327,283.6 L321,289.3 L276.1,289.3 L266.3,299 L138.4,299 L129,289.1 L123,289.1 Q119,289.1 119,285 Z" fill="#11728f"/>
<circle cx="128.5" cy="86.1" r="6.1" fill="#ffffff"/>
<circle cx="317" cy="91.1" r="6.2" fill="#ffffff"/>
<circle cx="148.5" cy="289.2" r="6.2" fill="#ffffff"/>
<circle cx="257.7" cy="289.4" r="5.9" fill="#ffffff"/>
<rect x="133" y="33" width="32.4" height="43.3" fill="#232323"/>
<rect x="131.8" y="25.2" width="35.2" height="9.8" fill="#1e1e1e"/>
<path d="M140,35 V55 Q140,62 146,66 V76 H153 V66 Q159,62 159,55 V35" fill="#262626" stroke="#2c2c2c" stroke-width="0.6"/>
<rect x="133" y="33" width="2.5" height="43" fill="#151515"/>
<rect x="141.7" y="76.2" width="14.9" height="2" fill="#8a8a8a"/>
<rect x="162.5" y="35" width="2.5" height="41" fill="#3a3a3a"/>
<rect x="180" y="47.5" width="14" height="7.5" fill="#9a9a9a"/>
<rect x="173.2" y="54.7" width="27" height="13.5" fill="#2f2f2f"/>
<rect x="174.70000000000002" y="68.2" width="4.2" height="6.8" fill="#9a9a9a"/>
<rect x="184.3" y="68.2" width="4.2" height="6.8" fill="#9a9a9a"/>
<rect x="193.9" y="68.2" width="4.2" height="6.8" fill="#9a9a9a"/>
<rect x="239.8" y="31.6" width="55.4" height="5.9" fill="#9a9a9a"/>
<rect x="245" y="7.1" width="44.8" height="60.6" fill="#b3b3b3"/>
<rect x="245" y="7.1" width="44.8" height="9.9" fill="#9b9b9b"/>
<rect x="287" y="7.1" width="2.8" height="60.6" fill="#8f8f8f"/>
<rect x="245" y="7.1" width="2.5" height="60.6" fill="#a8a8a8"/>
<rect x="303.0" y="37.5" width="2.8" height="4" fill="#e8e8e8"/>
<rect x="303.0" y="68" width="2.8" height="4.6" fill="#e8e8e8"/>
<rect x="311.20000000000005" y="37.5" width="2.8" height="4" fill="#e8e8e8"/>
<rect x="311.20000000000005" y="68" width="2.8" height="4.6" fill="#e8e8e8"/>
<rect x="319.90000000000003" y="37.5" width="2.8" height="4" fill="#e8e8e8"/>
<rect x="319.90000000000003" y="68" width="2.8" height="4.6" fill="#e8e8e8"/>
<rect x="300" y="40.8" width="25.3" height="28.1" fill="#d4d4d4"/>
<circle cx="312.8" cy="54.9" r="7.1" fill="#8b2323"/>
<path d="M142,91.1 H162 L166.9,95.6 V111.6 L162,116.1 H142 Z" fill="#333333"/>
<circle cx="154.2" cy="103.6" r="12" fill="#e3e3e3"/>
<path d="M147.6,93.5 A12,12 0 0 0 147.6,113.69999999999999 Z" fill="#000"/>
<circle cx="154.2" cy="103.6" r="12" fill="none" stroke="#3a3a3a" stroke-width="0.5"/>
<path d="M142,118.5 H162 L166.9,123.0 V139.0 L162,143.5 H142 Z" fill="#333333"/>
<circle cx="154.2" cy="131.0" r="12" fill="#e3e3e3"/>
<path d="M147.6,120.9 A12,12 0 0 0 147.6,141.1 Z" fill="#000"/>
<circle cx="154.2" cy="131.0" r="12" fill="none" stroke="#3a3a3a" stroke-width="0.5"/>
<rect x="172" y="140.3" width="21.3" height="144.4" fill="#333333"/>
<rect x="244.3" y="99.7" width="19.6" height="19.1" fill="#333333"/>
<path d="M290.8,87.44999999999999 H307.1 L308.6,89.0 V96.19999999999999 L307.1,97.75 H290.8 L289.3,96.19999999999999 V89.0 Z" fill="#3c3a37"/><path d="M290.8,97.64999999999999 H307.1 L308.6,99.2 V106.39999999999999 L307.1,107.95 H290.8 L289.3,106.39999999999999 V99.2 Z" fill="#3c3a37"/><path d="M290.8,107.55 H307.1 L308.6,109.10000000000001 V116.3 L307.1,117.85000000000001 H290.8 L289.3,116.3 V109.10000000000001 Z" fill="#3c3a37"/>
<rect x="292.3" y="90.89999999999999" width="3.4" height="3.4" fill="#ab9c72"/>
<rect x="292.3" y="101.1" width="3.4" height="3.4" fill="#ab9c72"/>
<rect x="292.3" y="111.0" width="3.4" height="3.4" fill="#ab9c72"/>
<rect x="302.3" y="90.89999999999999" width="3.4" height="3.4" fill="#ab9c72"/>
<rect x="302.3" y="101.1" width="3.4" height="3.4" fill="#ab9c72"/>
<rect x="302.3" y="111.0" width="3.4" height="3.4" fill="#ab9c72"/>
<circle cx="309" cy="117" r="0.9" fill="#fff"/>
<path d="M214.4,275 H221.6 L223.1,276.5 V293.4 L221.6,294.9 H214.4 L212.9,293.4 V276.5 Z" fill="#3c3a37"/><path d="M224.4,275 H231.6 L233.1,276.5 V293.4 L231.6,294.9 H224.4 L222.9,293.4 V276.5 Z" fill="#3c3a37"/><path d="M234.5,275 H241.7 L243.2,276.5 V293.4 L241.7,294.9 H234.5 L233.0,293.4 V276.5 Z" fill="#3c3a37"/>
<rect x="216.3" y="278.40000000000003" width="3.4" height="3.4" fill="#ab9c72"/>
<rect x="216.3" y="288.3" width="3.4" height="3.4" fill="#ab9c72"/>
<rect x="226.3" y="278.40000000000003" width="3.4" height="3.4" fill="#ab9c72"/>
<rect x="226.3" y="288.3" width="3.4" height="3.4" fill="#ab9c72"/>
<rect x="236.4" y="278.40000000000003" width="3.4" height="3.4" fill="#ab9c72"/>
<rect x="236.4" y="288.3" width="3.4" height="3.4" fill="#ab9c72"/>
<rect x="250" y="134.7" width="5.5" height="10" fill="#d8b878"/><rect x="251" y="135.7" width="3.5" height="8" fill="#f0eee8"/>
<rect x="258.8" y="134.7" width="5.5" height="10" fill="#d8b878"/><rect x="259.8" y="135.7" width="3.5" height="8" fill="#f0eee8"/>
<rect x="277" y="134.7" width="5.5" height="10" fill="#d8b878"/><rect x="278" y="135.7" width="3.5" height="8" fill="#f0eee8"/>
<rect x="258.8" y="258" width="5.5" height="10" fill="#d8b878"/><rect x="259.8" y="259" width="3.5" height="8" fill="#f0eee8"/>
<rect x="286" y="134" width="1.2" height="148" fill="#e8f0f4"/>
<rect x="152.3" y="165" width="1.1" height="50" fill="#e8f0f4"/>
<rect x="152.3" y="227" width="1.1" height="55" fill="#e8f0f4"/>
<rect x="312.4" y="99.8" width="9.3" height="100.20" fill="#3b3836"/><rect x="314.25" y="101.98" width="5.6" height="5.6" fill="#4a4744"/><rect x="315.05" y="102.78" width="4.0" height="4.0" fill="#020202"/><rect x="314.25" y="111.95" width="5.6" height="5.6" fill="#4a4744"/><rect x="315.05" y="112.75" width="4.0" height="4.0" fill="#020202"/><rect x="314.25" y="121.92" width="5.6" height="5.6" fill="#4a4744"/><rect x="315.05" y="122.72" width="4.0" height="4.0" fill="#020202"/><rect x="314.25" y="131.89" width="5.6" height="5.6" fill="#4a4744"/><rect x="315.05" y="132.69" width="4.0" height="4.0" fill="#020202"/><rect x="314.25" y="141.86" width="5.6" height="5.6" fill="#4a4744"/><rect x="315.05" y="142.66" width="4.0" height="4.0" fill="#020202"/><rect x="314.25" y="151.83" width="5.6" height="5.6" fill="#4a4744"/><rect x="315.05" y="152.63" width="4.0" height="4.0" fill="#020202"/><rect x="314.25" y="161.81" width="5.6" height="5.6" fill="#4a4744"/><rect x="315.05" y="162.61" width="4.0" height="4.0" fill="#020202"/><rect x="314.25" y="171.77" width="5.6" height="5.6" fill="#4a4744"/><rect x="315.05" y="172.57" width="4.0" height="4.0" fill="#020202"/><rect x="314.25" y="181.75" width="5.6" height="5.6" fill="#4a4744"/><rect x="315.05" y="182.55" width="4.0" height="4.0" fill="#020202"/><rect x="314.25" y="191.71" width="5.6" height="5.6" fill="#4a4744"/><rect x="315.05" y="192.51" width="4.0" height="4.0" fill="#020202"/>
<rect x="312.4" y="204.9" width="9.3" height="80.26" fill="#3b3836"/><rect x="314.25" y="207.09" width="5.6" height="5.6" fill="#4a4744"/><rect x="315.05" y="207.89" width="4.0" height="4.0" fill="#020202"/><rect x="314.25" y="217.06" width="5.6" height="5.6" fill="#4a4744"/><rect x="315.05" y="217.86" width="4.0" height="4.0" fill="#020202"/><rect x="314.25" y="227.03" width="5.6" height="5.6" fill="#4a4744"/><rect x="315.05" y="227.83" width="4.0" height="4.0" fill="#020202"/><rect x="314.25" y="237.00" width="5.6" height="5.6" fill="#4a4744"/><rect x="315.05" y="237.80" width="4.0" height="4.0" fill="#020202"/><rect x="314.25" y="246.97" width="5.6" height="5.6" fill="#4a4744"/><rect x="315.05" y="247.77" width="4.0" height="4.0" fill="#020202"/><rect x="314.25" y="256.94" width="5.6" height="5.6" fill="#4a4744"/><rect x="315.05" y="257.74" width="4.0" height="4.0" fill="#020202"/><rect x="314.25" y="266.91" width="5.6" height="5.6" fill="#4a4744"/><rect x="315.05" y="267.71" width="4.0" height="4.0" fill="#020202"/><rect x="314.25" y="276.88" width="5.6" height="5.6" fill="#4a4744"/><rect x="315.05" y="277.68" width="4.0" height="4.0" fill="#020202"/>
<rect x="124.2" y="135.3" width="9.3" height="80.26" fill="#3b3836"/><rect x="126.05" y="137.49" width="5.6" height="5.6" fill="#4a4744"/><rect x="126.85" y="138.29" width="4.0" height="4.0" fill="#020202"/><rect x="126.05" y="147.46" width="5.6" height="5.6" fill="#4a4744"/><rect x="126.85" y="148.26" width="4.0" height="4.0" fill="#020202"/><rect x="126.05" y="157.43" width="5.6" height="5.6" fill="#4a4744"/><rect x="126.85" y="158.23" width="4.0" height="4.0" fill="#020202"/><rect x="126.05" y="167.40" width="5.6" height="5.6" fill="#4a4744"/><rect x="126.85" y="168.20" width="4.0" height="4.0" fill="#020202"/><rect x="126.05" y="177.37" width="5.6" height="5.6" fill="#4a4744"/><rect x="126.85" y="178.17" width="4.0" height="4.0" fill="#020202"/><rect x="126.05" y="187.34" width="5.6" height="5.6" fill="#4a4744"/><rect x="126.85" y="188.14" width="4.0" height="4.0" fill="#020202"/><rect x="126.05" y="197.31" width="5.6" height="5.6" fill="#4a4744"/><rect x="126.85" y="198.11" width="4.0" height="4.0" fill="#020202"/><rect x="126.05" y="207.28" width="5.6" height="5.6" fill="#4a4744"/><rect x="126.85" y="208.08" width="4.0" height="4.0" fill="#020202"/>
<rect x="124.0" y="224.8" width="9.3" height="60.32" fill="#3b3836"/><rect x="125.85" y="226.99" width="5.6" height="5.6" fill="#4a4744"/><rect x="126.65" y="227.79" width="4.0" height="4.0" fill="#020202"/><rect x="125.85" y="236.96" width="5.6" height="5.6" fill="#4a4744"/><rect x="126.65" y="237.76" width="4.0" height="4.0" fill="#020202"/><rect x="125.85" y="246.93" width="5.6" height="5.6" fill="#4a4744"/><rect x="126.65" y="247.73" width="4.0" height="4.0" fill="#020202"/><rect x="125.85" y="256.90" width="5.6" height="5.6" fill="#4a4744"/><rect x="126.65" y="257.70" width="4.0" height="4.0" fill="#020202"/><rect x="125.85" y="266.87" width="5.6" height="5.6" fill="#4a4744"/><rect x="126.65" y="267.67" width="4.0" height="4.0" fill="#020202"/><rect x="125.85" y="276.84" width="5.6" height="5.6" fill="#4a4744"/><rect x="126.65" y="277.64" width="4.0" height="4.0" fill="#020202"/>
<rect x="315.5" y="132.2" width="3.2" height="3.2" fill="#0d4a10"/>
<rect x="126.9" y="198.3" width="3.2" height="3.2" fill="#0d4a10"/>
<path d="M272,179.95 C265,175.5 262,172.5 262,168.7 A10,10 0 0 1 282,168.7 C282,172.5 279,175.5 272,179.95 C265,184.4 262,187.4 262,191.2 A10,10 0 0 0 282,191.2 C282,187.4 279,184.4 272,179.95 Z" fill="none" stroke="#fff" stroke-width="2.8"/>
<rect x="270.8" y="162.5" width="2.2" height="7" fill="#fff"/>
<rect x="270.8" y="188.4" width="2.2" height="7" fill="#fff"/><rect x="268.4" y="190.8" width="7" height="2.2" fill="#fff"/>
<rect x="261.2" y="206.2" width="17.8" height="40.2" rx="8.9" fill="none" stroke="#fff" stroke-width="0.8" stroke-dasharray="0.9,0.9"/>
<rect x="262.9" y="207.9" width="14.4" height="36.8" rx="7.2" fill="none" stroke="#fff" stroke-width="1.2"/>
<text transform="translate(265.6,213.6) rotate(90)" font-family="&quot;Liberation Sans&quot;, sans-serif" font-size="13.4" fill="#fff">UNO</text>
<text transform="translate(251.2,157.5) rotate(90)" font-family="&quot;Liberation Mono&quot;, monospace" font-size="8.6" fill="#fff" stroke="#fff" stroke-width="0.25" letter-spacing="0.55">Arduino</text>
<text transform="translate(256.5,199) rotate(90)" font-family="&quot;Liberation Sans&quot;, sans-serif" font-size="3" fill="#fff">TM</text>
<g font-family="&quot;Liberation Mono&quot;, monospace" fill="#f2f2f2" letter-spacing="0.35"><text x="310.2" y="126.4" font-size="5.2" text-anchor="end">AREF</text><text x="310.2" y="136.37" font-size="5.2" text-anchor="end">GND</text><text x="310.2" y="146.34" font-size="5.2" text-anchor="end">13</text><text x="310.2" y="156.31" font-size="5.2" text-anchor="end">12</text><text x="310.2" y="166.28" font-size="5.2" text-anchor="end">~11</text><text x="310.2" y="176.25" font-size="5.2" text-anchor="end">~10</text><text x="310.2" y="186.22000000000003" font-size="5.2" text-anchor="end">~9</text><text x="310.2" y="196.19" font-size="5.2" text-anchor="end">8</text><text x="310.2" y="211.9" font-size="5.2" text-anchor="end">7</text><text x="310.2" y="221.87" font-size="5.2" text-anchor="end">~6</text><text x="310.2" y="231.84" font-size="5.2" text-anchor="end">~5</text><text x="310.2" y="241.81" font-size="5.2" text-anchor="end">4</text><text x="310.2" y="251.78" font-size="5.2" text-anchor="end">~3</text><text x="310.2" y="261.75" font-size="5.2" text-anchor="end">2</text><text x="136.2" y="152.3" font-size="5.2" text-anchor="start">IOREF</text><text x="136.2" y="162.27" font-size="5.2" text-anchor="start">RESET</text><text x="136.2" y="172.24" font-size="5.2" text-anchor="start">3V3</text><text x="136.2" y="182.21" font-size="5.2" text-anchor="start">5V</text><text x="136.2" y="192.18" font-size="5.2" text-anchor="start">GND</text><text x="136.2" y="202.15" font-size="5.2" text-anchor="start">GND</text><text x="136.2" y="212.12" font-size="5.2" text-anchor="start">VIN</text><text x="136.2" y="231.7" font-size="5.2" text-anchor="start">A0</text><text x="136.2" y="241.67" font-size="5.2" text-anchor="start">A1</text><text x="136.2" y="251.64" font-size="5.2" text-anchor="start">A2</text><text x="136.2" y="261.61" font-size="5.2" text-anchor="start">A3</text><text x="136.2" y="271.58" font-size="5.2" text-anchor="start">A4</text><text x="136.2" y="281.55" font-size="5.2" text-anchor="start">A5</text><text transform="translate(147.2,197.5) rotate(90)" font-size="5.8" text-anchor="start">POWER</text><text transform="translate(147.0,248) rotate(90)" font-size="5.8" text-anchor="start">ANALOG IN</text><text transform="translate(289.3,207.5) rotate(90)" font-size="5.8" text-anchor="start">DIGITAL (PWM=~)</text><text x="213" y="274.2" font-size="6.8" text-anchor="start">ICSP</text><text x="289.3" y="271.7" font-size="5.2" text-anchor="start">TX0</text><text x="310.2" y="271.7" font-size="5.2" text-anchor="end">1</text><text x="289.3" y="281.7" font-size="5.2" text-anchor="start">RX0</text><text x="310.2" y="281.7" font-size="5.2" text-anchor="end">0</text><path d="M301.8,267.6 L305.2,269.8 L301.8,272 Z M305.2,277.5 L301.8,279.7 L305.2,281.9 Z"/><text transform="translate(283.3,88.5) rotate(90)" font-size="6" text-anchor="start">ICSP2</text><text transform="translate(295.0,45) rotate(90)" font-size="6" text-anchor="start">RESET</text><text transform="translate(250.3,124) rotate(90)" font-size="6.2" text-anchor="start">RX</text><text transform="translate(259.1,124) rotate(90)" font-size="6.2" text-anchor="start">TX</text><text transform="translate(277.8,126.5) rotate(90)" font-size="6.2" text-anchor="start">L</text><text transform="translate(259.0,270.0) rotate(90)" font-size="6.2" text-anchor="start">ON</text></g>
<rect x="489" y="17" width="136" height="95" fill="#ffffff"/>
<rect x="493.6" y="27" width="127" height="72" fill="#12623a"/><rect x="493.6" y="97" width="127" height="2.5" fill="#9fb8a5"/><rect x="493.6" y="27" width="127" height="6" fill="#157040" opacity="0.8"/><g fill="none" stroke="#d5ddd5" stroke-width="0.9"><rect x="497.5" y="29.3" width="16.5" height="15"/><rect x="519.3" y="33" width="7.5" height="15"/><rect x="495.3" y="46.5" width="22.5" height="13.5"/><rect x="518.5" y="52.5" width="12.5" height="8"/><rect x="518.5" y="61" width="12.5" height="7"/><rect x="572" y="33" width="14.5" height="19.5"/><rect x="579.7" y="55" width="16" height="11"/><rect x="579.7" y="67" width="16" height="11"/><rect x="599" y="56" width="16" height="8.4"/><rect x="600" y="72" width="15" height="8"/><rect x="522" y="88" width="18" height="7"/><rect x="548" y="86" width="16" height="8"/></g><rect x="501.3" y="30" width="9.7" height="6" fill="#c9a55c"/><rect x="500" y="37.5" width="11.5" height="6" fill="#3a3a3a"/><rect x="520.5" y="35" width="5" height="11" fill="#3a3a3a"/><rect x="520.5" y="34" width="5" height="2.5" fill="#b8a070"/><rect x="498" y="49" width="18" height="9" fill="#2e3a32"/><rect x="500" y="50" width="3" height="3" fill="#c8d0c8"/><rect x="505" y="50" width="3" height="3" fill="#c8d0c8"/><rect x="510" y="50" width="3" height="3" fill="#c8d0c8"/><rect x="519.5" y="53.5" width="10.5" height="6" fill="#222"/><rect x="519.5" y="62" width="10.5" height="5" fill="#222"/><rect x="501" y="61" width="11" height="10" fill="#151515"/><ellipse cx="514.5" cy="80.5" rx="9.5" ry="12" fill="none" stroke="#a84a1c" stroke-width="4"/><ellipse cx="514.5" cy="80.5" rx="9.5" ry="12" fill="none" stroke="#d8783a" stroke-width="1" stroke-dasharray="1.2,1.6"/><rect x="509" y="76" width="8" height="7" fill="#2a3a30"/><circle cx="498" cy="93" r="2" fill="#c8c8c8"/><circle cx="523" cy="92" r="1.8" fill="#c8c8c8"/><rect x="531.3" y="43.5" width="11.3" height="33" rx="4.5" fill="#7cc08a"/><rect x="531.3" y="55.6" width="11.3" height="4.4" fill="#b08a4a"/><rect x="531.3" y="63.8" width="11.3" height="3" fill="#6a5a3a"/><rect x="536" y="76" width="1.5" height="8" fill="#b0b0a0"/><rect x="542.6" y="58.6" width="7.5" height="36" fill="#161616"/><path d="M565,34.7 C573.5,34.7 578.5,42 578.5,51 C578.5,61 572.5,71 567.5,79.6 H562.5 C557.5,71 552.3,61 552.3,51 C552.3,42 556.5,34.7 565,34.7 Z" fill="#3cb06c"/><path d="M565,60 C570,60 573,66 566.5,78 H563.5 C557,66 560,60 565,60 Z" fill="#2e9a5a"/><ellipse cx="562.3" cy="47" rx="6.5" ry="11.5" fill="#7a2a1a"/><ellipse cx="562.3" cy="47" rx="3.5" ry="8" fill="#d2461e"/><rect x="556" y="62" width="3" height="8" fill="#c89a5a"/><rect x="570" y="62" width="3" height="8" fill="#c89a5a"/><rect x="574" y="35" width="4" height="15" fill="#1e1e1e"/><rect x="580" y="35" width="4" height="15" fill="#1e1e1e"/><rect x="582" y="57" width="11" height="7" fill="#1e1e1e"/><rect x="582" y="69" width="11" height="7" fill="#1e1e1e"/><rect x="601" y="58" width="12" height="4.5" fill="#2a2a2a"/><path d="M597.5,24.5 H614.5 Q616.2,24.5 616.2,26.5 V55 H595.8 V26.5 Q595.8,24.5 597.5,24.5 Z" fill="#1a1a1a"/><rect x="616.2" y="28.400000000000002" width="2.8" height="2.4" fill="#d0b878"/><rect x="616.2" y="34.4" width="2.8" height="2.4" fill="#d0b878"/><rect x="616.2" y="40.3" width="2.8" height="2.4" fill="#d0b878"/><rect x="616.2" y="46.199999999999996" width="2.8" height="2.4" fill="#d0b878"/><rect x="592.8" y="36" width="3" height="2" fill="#d8d8d8"/><rect x="592.8" y="40.5" width="3" height="2" fill="#d8d8d8"/><rect x="592.8" y="44.7" width="3" height="2" fill="#d8d8d8"/><rect x="566" y="78" width="44.3" height="19" fill="#2a2a2a"/><rect x="566" y="78" width="44.3" height="2" fill="#3e3e3e"/><rect x="570.9" y="80" width="3" height="28" fill="#a49c8c"/><rect x="570.9" y="80" width="0.9" height="28" fill="#c8c0b0"/><rect x="581.6" y="80" width="3" height="28" fill="#a49c8c"/><rect x="581.6" y="80" width="0.9" height="28" fill="#c8c0b0"/><rect x="592.7" y="80" width="3" height="28" fill="#a49c8c"/><rect x="592.7" y="80" width="0.9" height="28" fill="#c8c0b0"/><rect x="602.8" y="80" width="3" height="28" fill="#a49c8c"/><rect x="602.8" y="80" width="0.9" height="28" fill="#c8c0b0"/>
<rect x="379.6" y="374" width="312.4" height="140" fill="#1f7a36"/>
<circle cx="388.5" cy="382.9" r="4.95" fill="#fbfbfb" stroke="#ab9b78" stroke-width="2.9"/>
<circle cx="682.5" cy="383.1" r="4.95" fill="#fbfbfb" stroke="#ab9b78" stroke-width="2.9"/>
<circle cx="388.5" cy="505.3" r="4.95" fill="#fbfbfb" stroke="#ab9b78" stroke-width="2.9"/>
<circle cx="682.5" cy="505.3" r="4.95" fill="#fbfbfb" stroke="#ab9b78" stroke-width="2.9"/>
<path d="M403.11,374 V380.5 A3.1,3.1 0 0 0 409.31,380.5 V374 Z" fill="#b0a27a"/><circle cx="406.21" cy="378.4" r="1.7" fill="#0c2a10"/>
<path d="M413.02,374 V380.5 A3.1,3.1 0 0 0 419.22,380.5 V374 Z" fill="#b0a27a"/><circle cx="416.12" cy="378.4" r="1.7" fill="#0c2a10"/>
<path d="M422.93,374 V380.5 A3.1,3.1 0 0 0 429.13,380.5 V374 Z" fill="#b0a27a"/><circle cx="426.03" cy="378.4" r="1.7" fill="#0c2a10"/>
<path d="M432.85,374 V380.5 A3.1,3.1 0 0 0 439.05,380.5 V374 Z" fill="#b0a27a"/><circle cx="435.95" cy="378.4" r="1.7" fill="#0c2a10"/>
<path d="M442.76,374 V380.5 A3.1,3.1 0 0 0 448.96,380.5 V374 Z" fill="#b0a27a"/><circle cx="445.86" cy="378.4" r="1.7" fill="#0c2a10"/>
<path d="M452.67,374 V380.5 A3.1,3.1 0 0 0 458.87,380.5 V374 Z" fill="#b0a27a"/><circle cx="455.77" cy="378.4" r="1.7" fill="#0c2a10"/>
<path d="M462.59,374 V380.5 A3.1,3.1 0 0 0 468.79,380.5 V374 Z" fill="#b0a27a"/><circle cx="465.69" cy="378.4" r="1.7" fill="#0c2a10"/>
<path d="M472.50,374 V380.5 A3.1,3.1 0 0 0 478.70,380.5 V374 Z" fill="#b0a27a"/><circle cx="475.60" cy="378.4" r="1.7" fill="#0c2a10"/>
<path d="M482.41,374 V380.5 A3.1,3.1 0 0 0 488.61,380.5 V374 Z" fill="#b0a27a"/><circle cx="485.51" cy="378.4" r="1.7" fill="#0c2a10"/>
<path d="M492.32,374 V380.5 A3.1,3.1 0 0 0 498.52,380.5 V374 Z" fill="#b0a27a"/><circle cx="495.42" cy="378.4" r="1.7" fill="#0c2a10"/>
<path d="M502.24,374 V380.5 A3.1,3.1 0 0 0 508.44,380.5 V374 Z" fill="#b0a27a"/><circle cx="505.34" cy="378.4" r="1.7" fill="#0c2a10"/>
<path d="M512.15,374 V380.5 A3.1,3.1 0 0 0 518.35,380.5 V374 Z" fill="#b0a27a"/><circle cx="515.25" cy="378.4" r="1.7" fill="#0c2a10"/>
<path d="M522.06,374 V380.5 A3.1,3.1 0 0 0 528.26,380.5 V374 Z" fill="#b0a27a"/><circle cx="525.16" cy="378.4" r="1.7" fill="#0c2a10"/>
<path d="M531.98,374 V380.5 A3.1,3.1 0 0 0 538.18,380.5 V374 Z" fill="#b0a27a"/><circle cx="535.08" cy="378.4" r="1.7" fill="#0c2a10"/>
<path d="M541.89,374 V380.5 A3.1,3.1 0 0 0 548.09,380.5 V374 Z" fill="#b0a27a"/><circle cx="544.99" cy="378.4" r="1.7" fill="#0c2a10"/>
<path d="M551.80,374 V380.5 A3.1,3.1 0 0 0 558.00,380.5 V374 Z" fill="#b0a27a"/><circle cx="554.90" cy="378.4" r="1.7" fill="#0c2a10"/>
<rect x="416.2" y="390.6" width="22.8" height="1.4" fill="#fff"/><rect x="524.2" y="390.6" width="22.6" height="1.4" fill="#fff"/><rect x="632" y="390.6" width="23" height="1.4" fill="#fff"/>
<rect x="417.3" y="494.8" width="10" height="2.4" rx="1.2" fill="#d6dcd6"/><rect x="428.3" y="494.8" width="10" height="2.4" rx="1.2" fill="#d6dcd6"/><rect x="525.3" y="494.8" width="10" height="2.4" rx="1.2" fill="#d6dcd6"/><rect x="536.3" y="494.8" width="10" height="2.4" rx="1.2" fill="#d6dcd6"/><rect x="632.5" y="494.8" width="10" height="2.4" rx="1.2" fill="#d6dcd6"/><rect x="643.5" y="494.8" width="10" height="2.4" rx="1.2" fill="#d6dcd6"/>
<path d="M396.5,392 H675 L679.4,396.2 V424.8 H677.8 V463.7 H679.4 V491.5 L675,495.4 H396.7 L392.3,491.5 V463.7 H393.9 V424.8 H392.3 V396.2 Z" fill="#303030"/>
<rect x="402.4" y="398.5" width="266.3" height="3.4" rx="1.5" fill="#3d3d3d"/><rect x="402.4" y="398.5" width="266.3" height="1.7" rx="0.8" fill="#161616"/>
<rect x="402.4" y="485.6" width="266.3" height="3.4" rx="1.5" fill="#3d3d3d"/><rect x="402.4" y="485.6" width="266.3" height="1.7" rx="0.8" fill="#161616"/>
<rect x="404.5" y="410.8" width="262.1" height="66.1" rx="5" fill="#729a2a"/>
<rect x="405.9" y="410.8" width="260.7" height="64.8" rx="4.6" fill="#86ac35"/>
<rect x="418.20" y="421.00" width="13.7" height="22.3" fill="#7b9f2e"/><rect x="432.90" y="421.00" width="13.7" height="22.3" fill="#7b9f2e"/><rect x="447.60" y="421.00" width="13.7" height="22.3" fill="#7b9f2e"/><rect x="462.30" y="421.00" width="13.7" height="22.3" fill="#7b9f2e"/><rect x="477.00" y="421.00" width="13.7" height="22.3" fill="#7b9f2e"/><rect x="491.70" y="421.00" width="13.7" height="22.3" fill="#7b9f2e"/><rect x="506.40" y="421.00" width="13.7" height="22.3" fill="#7b9f2e"/><rect x="521.10" y="421.00" width="13.7" height="22.3" fill="#7b9f2e"/><rect x="535.80" y="421.00" width="13.7" height="22.3" fill="#7b9f2e"/><rect x="550.50" y="421.00" width="13.7" height="22.3" fill="#7b9f2e"/><rect x="565.20" y="421.00" width="13.7" height="22.3" fill="#7b9f2e"/><rect x="579.90" y="421.00" width="13.7" height="22.3" fill="#7b9f2e"/><rect x="594.60" y="421.00" width="13.7" height="22.3" fill="#7b9f2e"/><rect x="609.30" y="421.00" width="13.7" height="22.3" fill="#7b9f2e"/><rect x="624.00" y="421.00" width="13.7" height="22.3" fill="#7b9f2e"/><rect x="638.70" y="421.00" width="13.7" height="22.3" fill="#7b9f2e"/><rect x="418.20" y="444.90" width="13.7" height="22.3" fill="#7b9f2e"/><rect x="432.90" y="444.90" width="13.7" height="22.3" fill="#7b9f2e"/><rect x="447.60" y="444.90" width="13.7" height="22.3" fill="#7b9f2e"/><rect x="462.30" y="444.90" width="13.7" height="22.3" fill="#7b9f2e"/><rect x="477.00" y="444.90" width="13.7" height="22.3" fill="#7b9f2e"/><rect x="491.70" y="444.90" width="13.7" height="22.3" fill="#7b9f2e"/><rect x="506.40" y="444.90" width="13.7" height="22.3" fill="#7b9f2e"/><rect x="521.10" y="444.90" width="13.7" height="22.3" fill="#7b9f2e"/><rect x="535.80" y="444.90" width="13.7" height="22.3" fill="#7b9f2e"/><rect x="550.50" y="444.90" width="13.7" height="22.3" fill="#7b9f2e"/><rect x="565.20" y="444.90" width="13.7" height="22.3" fill="#7b9f2e"/><rect x="579.90" y="444.90" width="13.7" height="22.3" fill="#7b9f2e"/><rect x="594.60" y="444.90" width="13.7" height="22.3" fill="#7b9f2e"/><rect x="609.30" y="444.90" width="13.7" height="22.3" fill="#7b9f2e"/><rect x="624.00" y="444.90" width="13.7" height="22.3" fill="#7b9f2e"/><rect x="638.70" y="444.90" width="13.7" height="22.3" fill="#7b9f2e"/>
<defs><linearGradient id="kn" x1="0" x2="1" y1="0" y2="0"><stop offset="0" stop-color="#0d0d0d"/><stop offset="0.45" stop-color="#2c2c2c"/><stop offset="0.6" stop-color="#1c1c1c"/><stop offset="1" stop-color="#0c0c0c"/></linearGradient><linearGradient id="pb" x1="0" x2="1" y1="0" y2="0"><stop offset="0" stop-color="#9c9c9c"/><stop offset="0.08" stop-color="#b9b9b9"/><stop offset="0.92" stop-color="#b9b9b9"/><stop offset="1" stop-color="#9c9c9c"/></linearGradient></defs>
<path d="M271.3,392.1 H303.4 Q305.4,392.1 305.4,394.1 V445 H269.3 V394.1 Q269.3,392.1 271.3,392.1 Z" fill="url(#pb)"/>
<path d="M269.3,436.4 H305.4 V442.5 Q305.4,445.2 302.5,445.2 H272.2 Q269.3,445.2 269.3,442.5 Z" fill="#161616"/>
<rect x="280" y="439.6" width="15" height="1.1" fill="#2e2e2e"/>
<circle cx="272.9" cy="396.1" r="2.4" fill="#111"/>
<circle cx="301.6" cy="396.1" r="2.4" fill="#111"/>
<circle cx="272.9" cy="433.4" r="2.4" fill="#111"/>
<circle cx="301.6" cy="433.4" r="2.4" fill="#111"/>
<path d="M278.1,372.2 A8.9,5.2 0 0 1 295.9,372.2 V415.3 A8.9,8.9 0 0 1 278.1,415.3 Z" fill="url(#kn)"/>
<ellipse cx="287" cy="372.2" rx="8.9" ry="5.2" fill="#151515"/>
<rect x="286.5" y="368" width="1" height="4" fill="#3a3a3a"/>
<rect x="276.2" y="444" width="2.6" height="4" fill="#8a8a8a"/>
<rect x="286.09999999999997" y="444" width="2.6" height="4" fill="#8a8a8a"/>
<rect x="295.8" y="444" width="2.6" height="4" fill="#8a8a8a"/>
<path d="M128.50,180.10 L98.90,180.10 L98.90,318.85" fill="none" stroke="#9a1010" stroke-width="4.1" stroke-linejoin="round" stroke-linecap="round"/><path d="M128.50,180.10 L98.90,180.10 L98.90,318.85" fill="none" stroke="#cc1414" stroke-width="2.5999999999999996" stroke-linejoin="round" stroke-linecap="round"/><circle cx="98.90" cy="180.10" r="2.25" fill="#9a1010"/><circle cx="128.50" cy="180.10" r="1.8499999999999999" fill="#9a1010" opacity="0.6"/><circle cx="98.90" cy="318.85" r="1.8499999999999999" fill="#9a1010" opacity="0.6"/>
<path d="M128.50,190.20 L108.90,190.20 L108.90,308.95" fill="none" stroke="#2a6cc4" stroke-width="4.1" stroke-linejoin="round" stroke-linecap="round"/><path d="M128.50,190.20 L108.90,190.20 L108.90,308.95" fill="none" stroke="#428fdc" stroke-width="2.5999999999999996" stroke-linejoin="round" stroke-linecap="round"/><circle cx="108.90" cy="190.20" r="2.25" fill="#2a6cc4"/><circle cx="128.50" cy="190.20" r="1.8499999999999999" fill="#2a6cc4" opacity="0.6"/><circle cx="108.90" cy="308.95" r="1.8499999999999999" fill="#2a6cc4" opacity="0.6"/>
<path d="M573.60,145.00 L574.70,318.85" fill="none" stroke="#9a1010" stroke-width="4.1" stroke-linejoin="round" stroke-linecap="round"/><path d="M573.60,145.00 L574.70,318.85" fill="none" stroke="#cc1414" stroke-width="2.5999999999999996" stroke-linejoin="round" stroke-linecap="round"/><circle cx="573.60" cy="145.00" r="1.8499999999999999" fill="#9a1010" opacity="0.6"/><circle cx="574.70" cy="318.85" r="1.8499999999999999" fill="#9a1010" opacity="0.6"/>
<path d="M604.00,112.00 L604.00,308.95" fill="none" stroke="#2a6cc4" stroke-width="4.1" stroke-linejoin="round" stroke-linecap="round"/><path d="M604.00,112.00 L604.00,308.95" fill="none" stroke="#428fdc" stroke-width="2.5999999999999996" stroke-linejoin="round" stroke-linecap="round"/><circle cx="604.00" cy="112.00" r="1.8499999999999999" fill="#2a6cc4" opacity="0.6"/><circle cx="604.00" cy="308.95" r="1.8499999999999999" fill="#2a6cc4" opacity="0.6"/>
<rect x="571.2" y="106" width="4.6" height="42" fill="#e8141e"/>
<rect x="603.5" y="106" width="4.2" height="210" fill="#12a0e6"/>
<rect x="592.1" y="106" width="4.6" height="55" rx="1.5" fill="#050505"/>
<path d="M317.00,164.30 L594.40,160.50" fill="none" stroke="#111111" stroke-width="3.8" stroke-linejoin="round" stroke-linecap="round"/><path d="M317.00,164.30 L594.40,160.50" fill="none" stroke="#2c2c2c" stroke-width="2.3" stroke-linejoin="round" stroke-linecap="round"/><circle cx="317.00" cy="164.30" r="1.7" fill="#111111" opacity="0.6"/><circle cx="594.40" cy="160.50" r="1.7" fill="#111111" opacity="0.6"/>
<circle cx="594.4" cy="160.5" r="2.2" fill="none" stroke="#b01010" stroke-width="1.2"/>
<path d="M317.00,184.20 L436.20,180.40 L435.95,358.65" fill="none" stroke="#c45a14" stroke-width="4.1" stroke-linejoin="round" stroke-linecap="round"/><path d="M317.00,184.20 L436.20,180.40 L435.95,358.65" fill="none" stroke="#ef6a0c" stroke-width="2.5999999999999996" stroke-linejoin="round" stroke-linecap="round"/><circle cx="436.20" cy="180.40" r="2.25" fill="#c45a14"/><circle cx="317.00" cy="184.20" r="1.8499999999999999" fill="#c45a14" opacity="0.6"/><circle cx="435.95" cy="358.65" r="1.8499999999999999" fill="#c45a14" opacity="0.6"/>
<path d="M317.00,194.20 L455.60,190.10 L455.77,358.65" fill="none" stroke="#c45a14" stroke-width="4.1" stroke-linejoin="round" stroke-linecap="round"/><path d="M317.00,194.20 L455.60,190.10 L455.77,358.65" fill="none" stroke="#ef6a0c" stroke-width="2.5999999999999996" stroke-linejoin="round" stroke-linecap="round"/><circle cx="455.60" cy="190.10" r="2.25" fill="#c45a14"/><circle cx="317.00" cy="194.20" r="1.8499999999999999" fill="#c45a14" opacity="0.6"/><circle cx="455.77" cy="358.65" r="1.8499999999999999" fill="#c45a14" opacity="0.6"/>
<path d="M317.00,219.90 L535.08,219.90 L535.08,348.75" fill="none" stroke="#04a024" stroke-width="4.1" stroke-linejoin="round" stroke-linecap="round"/><path d="M317.00,219.90 L535.08,219.90 L535.08,348.75" fill="none" stroke="#2bcc3b" stroke-width="2.5999999999999996" stroke-linejoin="round" stroke-linecap="round"/><circle cx="535.08" cy="219.90" r="2.25" fill="#04a024"/><circle cx="317.00" cy="219.90" r="1.8499999999999999" fill="#04a024" opacity="0.6"/><circle cx="535.08" cy="348.75" r="1.8499999999999999" fill="#04a024" opacity="0.6"/>
<path d="M317.00,229.80 L525.16,229.80 L525.16,348.75" fill="none" stroke="#04a024" stroke-width="4.1" stroke-linejoin="round" stroke-linecap="round"/><path d="M317.00,229.80 L525.16,229.80 L525.16,348.75" fill="none" stroke="#2bcc3b" stroke-width="2.5999999999999996" stroke-linejoin="round" stroke-linecap="round"/><circle cx="525.16" cy="229.80" r="2.25" fill="#04a024"/><circle cx="317.00" cy="229.80" r="1.8499999999999999" fill="#04a024" opacity="0.6"/><circle cx="525.16" cy="348.75" r="1.8499999999999999" fill="#04a024" opacity="0.6"/>
<path d="M317.00,239.80 L515.25,239.80 L515.25,348.75" fill="none" stroke="#04a024" stroke-width="4.1" stroke-linejoin="round" stroke-linecap="round"/><path d="M317.00,239.80 L515.25,239.80 L515.25,348.75" fill="none" stroke="#2bcc3b" stroke-width="2.5999999999999996" stroke-linejoin="round" stroke-linecap="round"/><circle cx="515.25" cy="239.80" r="2.25" fill="#04a024"/><circle cx="317.00" cy="239.80" r="1.8499999999999999" fill="#04a024" opacity="0.6"/><circle cx="515.25" cy="348.75" r="1.8499999999999999" fill="#04a024" opacity="0.6"/>
<path d="M317.00,249.90 L505.34,249.90 L505.34,348.75" fill="none" stroke="#04a024" stroke-width="4.1" stroke-linejoin="round" stroke-linecap="round"/><path d="M317.00,249.90 L505.34,249.90 L505.34,348.75" fill="none" stroke="#2bcc3b" stroke-width="2.5999999999999996" stroke-linejoin="round" stroke-linecap="round"/><circle cx="505.34" cy="249.90" r="2.25" fill="#04a024"/><circle cx="317.00" cy="249.90" r="1.8499999999999999" fill="#04a024" opacity="0.6"/><circle cx="505.34" cy="348.75" r="1.8499999999999999" fill="#04a024" opacity="0.6"/>
<path d="M406.21,308.95 L406.21,348.75" fill="none" stroke="#2a6cc4" stroke-width="4.1" stroke-linejoin="round" stroke-linecap="round"/><path d="M406.21,308.95 L406.21,348.75" fill="none" stroke="#428fdc" stroke-width="2.5999999999999996" stroke-linejoin="round" stroke-linecap="round"/><circle cx="406.21" cy="308.95" r="1.8499999999999999" fill="#2a6cc4" opacity="0.6"/><circle cx="406.21" cy="348.75" r="1.8499999999999999" fill="#2a6cc4" opacity="0.6"/>
<path d="M416.12,318.85 L416.12,348.75" fill="none" stroke="#9a1010" stroke-width="4.1" stroke-linejoin="round" stroke-linecap="round"/><path d="M416.12,318.85 L416.12,348.75" fill="none" stroke="#cc1414" stroke-width="2.5999999999999996" stroke-linejoin="round" stroke-linecap="round"/><circle cx="416.12" cy="318.85" r="1.8499999999999999" fill="#9a1010" opacity="0.6"/><circle cx="416.12" cy="348.75" r="1.8499999999999999" fill="#9a1010" opacity="0.6"/>
<path d="M426.03,308.95 L445.86,308.95 L445.86,348.75" fill="none" stroke="#2a6cc4" stroke-width="4.1" stroke-linejoin="round" stroke-linecap="round"/><path d="M426.03,308.95 L445.86,308.95 L445.86,348.75" fill="none" stroke="#428fdc" stroke-width="2.5999999999999996" stroke-linejoin="round" stroke-linecap="round"/><circle cx="445.86" cy="308.95" r="2.25" fill="#2a6cc4"/><circle cx="426.03" cy="308.95" r="1.8499999999999999" fill="#2a6cc4" opacity="0.6"/><circle cx="445.86" cy="348.75" r="1.8499999999999999" fill="#2a6cc4" opacity="0.6"/>
<path d="M544.99,318.85 L544.99,348.75" fill="none" stroke="#9a1010" stroke-width="4.1" stroke-linejoin="round" stroke-linecap="round"/><path d="M544.99,318.85 L544.99,348.75" fill="none" stroke="#cc1414" stroke-width="2.5999999999999996" stroke-linejoin="round" stroke-linecap="round"/><circle cx="544.99" cy="318.85" r="1.8499999999999999" fill="#9a1010" opacity="0.6"/><circle cx="544.99" cy="348.75" r="1.8499999999999999" fill="#9a1010" opacity="0.6"/>
<path d="M554.90,308.95 L554.90,348.75" fill="none" stroke="#2a6cc4" stroke-width="4.1" stroke-linejoin="round" stroke-linecap="round"/><path d="M554.90,308.95 L554.90,348.75" fill="none" stroke="#428fdc" stroke-width="2.5999999999999996" stroke-linejoin="round" stroke-linecap="round"/><circle cx="554.90" cy="308.95" r="1.8499999999999999" fill="#2a6cc4" opacity="0.6"/><circle cx="554.90" cy="348.75" r="1.8499999999999999" fill="#2a6cc4" opacity="0.6"/>
<path d="M247.60,308.95 L247.60,457.85 L277.34,457.85" fill="none" stroke="#2a6cc4" stroke-width="4.1" stroke-linejoin="round" stroke-linecap="round"/><path d="M247.60,308.95 L247.60,457.85 L277.34,457.85" fill="none" stroke="#428fdc" stroke-width="2.5999999999999996" stroke-linejoin="round" stroke-linecap="round"/><circle cx="247.60" cy="457.85" r="2.25" fill="#2a6cc4"/><circle cx="247.60" cy="308.95" r="1.8499999999999999" fill="#2a6cc4" opacity="0.6"/><circle cx="277.34" cy="457.85" r="1.8499999999999999" fill="#2a6cc4" opacity="0.6"/>
<path d="M316.99,318.85 L316.99,457.85 L297.16,457.85" fill="none" stroke="#9a1010" stroke-width="4.1" stroke-linejoin="round" stroke-linecap="round"/><path d="M316.99,318.85 L316.99,457.85 L297.16,457.85" fill="none" stroke="#cc1414" stroke-width="2.5999999999999996" stroke-linejoin="round" stroke-linecap="round"/><circle cx="316.99" cy="457.85" r="2.25" fill="#9a1010"/><circle cx="316.99" cy="318.85" r="1.8499999999999999" fill="#9a1010" opacity="0.6"/><circle cx="297.16" cy="457.85" r="1.8499999999999999" fill="#9a1010" opacity="0.6"/>
<path d="M287.25,457.85 L287.25,476.70 L366.56,476.70 L366.56,358.65 L426.03,358.65" fill="none" stroke="#d2d21e" stroke-width="4.1" stroke-linejoin="round" stroke-linecap="round"/><path d="M287.25,457.85 L287.25,476.70 L366.56,476.70 L366.56,358.65 L426.03,358.65" fill="none" stroke="#ffff00" stroke-width="2.5999999999999996" stroke-linejoin="round" stroke-linecap="round"/><circle cx="287.25" cy="476.70" r="2.25" fill="#d2d21e"/><circle cx="366.56" cy="476.70" r="2.25" fill="#d2d21e"/><circle cx="366.56" cy="358.65" r="2.25" fill="#d2d21e"/><circle cx="287.25" cy="457.85" r="1.8499999999999999" fill="#d2d21e" opacity="0.6"/><circle cx="426.03" cy="358.65" r="1.8499999999999999" fill="#d2d21e" opacity="0.6"/>
<circle cx="98.90" cy="318.85" r="2.3" fill="#8a501e" stroke="#6ada5a" stroke-width="1.0" stroke-opacity="0.85"/><circle cx="108.90" cy="308.95" r="2.3" fill="#3e948c" stroke="#6ada5a" stroke-width="1.0" stroke-opacity="0.85"/><circle cx="574.70" cy="318.85" r="2.3" fill="#8a501e" stroke="#6ada5a" stroke-width="1.0" stroke-opacity="0.85"/><circle cx="604.00" cy="308.95" r="2.3" fill="#3e948c" stroke="#6ada5a" stroke-width="1.0" stroke-opacity="0.85"/><circle cx="435.95" cy="358.65" r="2.3" fill="#9e801a" stroke="#6ada5a" stroke-width="1.0" stroke-opacity="0.85"/><circle cx="455.77" cy="358.65" r="2.3" fill="#9e801a" stroke="#6ada5a" stroke-width="1.0" stroke-opacity="0.85"/><circle cx="535.08" cy="348.75" r="2.3" fill="#32b633" stroke="#6ada5a" stroke-width="1.0" stroke-opacity="0.85"/><circle cx="525.16" cy="348.75" r="2.3" fill="#32b633" stroke="#6ada5a" stroke-width="1.0" stroke-opacity="0.85"/><circle cx="515.25" cy="348.75" r="2.3" fill="#32b633" stroke="#6ada5a" stroke-width="1.0" stroke-opacity="0.85"/><circle cx="505.34" cy="348.75" r="2.3" fill="#32b633" stroke="#6ada5a" stroke-width="1.0" stroke-opacity="0.85"/><circle cx="406.21" cy="308.95" r="2.3" fill="#3e948c" stroke="#6ada5a" stroke-width="1.0" stroke-opacity="0.85"/><circle cx="406.21" cy="348.75" r="2.3" fill="#3e948c" stroke="#6ada5a" stroke-width="1.0" stroke-opacity="0.85"/><circle cx="416.12" cy="318.85" r="2.3" fill="#8a501e" stroke="#6ada5a" stroke-width="1.0" stroke-opacity="0.85"/><circle cx="416.12" cy="348.75" r="2.3" fill="#8a501e" stroke="#6ada5a" stroke-width="1.0" stroke-opacity="0.85"/><circle cx="426.03" cy="308.95" r="2.3" fill="#3e948c" stroke="#6ada5a" stroke-width="1.0" stroke-opacity="0.85"/><circle cx="445.86" cy="348.75" r="2.3" fill="#3e948c" stroke="#6ada5a" stroke-width="1.0" stroke-opacity="0.85"/><circle cx="544.99" cy="318.85" r="2.3" fill="#8a501e" stroke="#6ada5a" stroke-width="1.0" stroke-opacity="0.85"/><circle cx="544.99" cy="348.75" r="2.3" fill="#8a501e" stroke="#6ada5a" stroke-width="1.0" stroke-opacity="0.85"/><circle cx="554.90" cy="308.95" r="2.3" fill="#3e948c" stroke="#6ada5a" stroke-width="1.0" stroke-opacity="0.85"/><circle cx="554.90" cy="348.75" r="2.3" fill="#3e948c" stroke="#6ada5a" stroke-width="1.0" stroke-opacity="0.85"/><circle cx="247.60" cy="308.95" r="2.3" fill="#3e948c" stroke="#6ada5a" stroke-width="1.0" stroke-opacity="0.85"/><circle cx="277.34" cy="457.85" r="2.3" fill="#3e948c" stroke="#6ada5a" stroke-width="1.0" stroke-opacity="0.85"/><circle cx="316.99" cy="318.85" r="2.3" fill="#8a501e" stroke="#6ada5a" stroke-width="1.0" stroke-opacity="0.85"/><circle cx="297.16" cy="457.85" r="2.3" fill="#8a501e" stroke="#6ada5a" stroke-width="1.0" stroke-opacity="0.85"/><circle cx="287.25" cy="457.85" r="2.3" fill="#a6d213" stroke="#6ada5a" stroke-width="1.0" stroke-opacity="0.85"/><circle cx="426.03" cy="358.65" r="2.3" fill="#a6d213" stroke="#6ada5a" stroke-width="1.0" stroke-opacity="0.85"/>
<circle cx="128.5" cy="180.1" r="2.3" fill="none" stroke="#4aa83a" stroke-width="1.4"/><circle cx="128.5" cy="190.2" r="2.3" fill="none" stroke="#3ab0a8" stroke-width="1.4"/><circle cx="317.1" cy="164.2" r="2.3" fill="none" stroke="#b81414" stroke-width="1.4"/><circle cx="317.1" cy="184.2" r="2.3" fill="none" stroke="#58b832" stroke-width="1.4"/><circle cx="317.1" cy="194.2" r="2.3" fill="none" stroke="#58b832" stroke-width="1.4"/><circle cx="317.1" cy="219.9" r="2.3" fill="none" stroke="#20b030" stroke-width="1.4"/><circle cx="317.1" cy="229.8" r="2.3" fill="none" stroke="#20b030" stroke-width="1.4"/><circle cx="317.1" cy="239.8" r="2.3" fill="none" stroke="#20b030" stroke-width="1.4"/><circle cx="317.1" cy="249.9" r="2.3" fill="none" stroke="#20b030" stroke-width="1.4"/>
<g font-family="&quot;Liberation Sans&quot;, sans-serif" fill="#111"><text x="271.8" y="455.6" font-size="11.2">R1</text><text x="272.2" y="468.8" font-size="11.2">10k&#937;</text></g></svg></body></html>
